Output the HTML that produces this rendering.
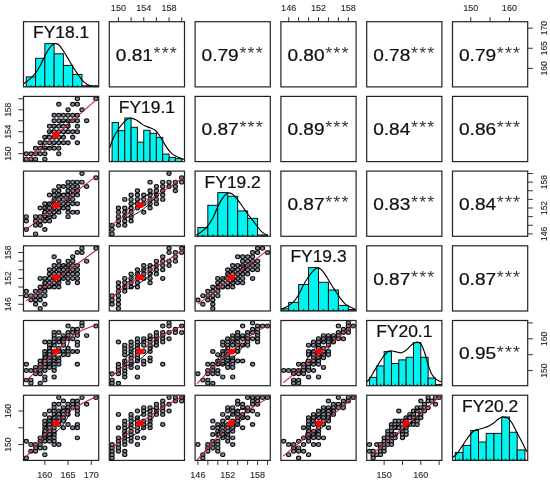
<!DOCTYPE html>
<html><head><meta charset="utf-8"><title>pairs panels</title>
<style>html,body{margin:0;padding:0;background:#fff;width:550px;height:485px;overflow:hidden}svg{display:block}</style>
</head><body>
<svg width="550" height="485" viewBox="0 0 550 485">
<rect width="550" height="485" fill="#fff"/>
<defs>
<clipPath id="c00"><rect x="23.5" y="21.7" width="75.2" height="65.2"/></clipPath>
<clipPath id="c01"><rect x="109.3" y="21.7" width="75.2" height="65.2"/></clipPath>
<clipPath id="c02"><rect x="195.1" y="21.7" width="75.2" height="65.2"/></clipPath>
<clipPath id="c03"><rect x="280.9" y="21.7" width="75.2" height="65.2"/></clipPath>
<clipPath id="c04"><rect x="366.7" y="21.7" width="75.2" height="65.2"/></clipPath>
<clipPath id="c05"><rect x="452.5" y="21.7" width="75.2" height="65.2"/></clipPath>
<clipPath id="c10"><rect x="23.5" y="96.4" width="75.2" height="65.2"/></clipPath>
<clipPath id="c11"><rect x="109.3" y="96.4" width="75.2" height="65.2"/></clipPath>
<clipPath id="c12"><rect x="195.1" y="96.4" width="75.2" height="65.2"/></clipPath>
<clipPath id="c13"><rect x="280.9" y="96.4" width="75.2" height="65.2"/></clipPath>
<clipPath id="c14"><rect x="366.7" y="96.4" width="75.2" height="65.2"/></clipPath>
<clipPath id="c15"><rect x="452.5" y="96.4" width="75.2" height="65.2"/></clipPath>
<clipPath id="c20"><rect x="23.5" y="171.1" width="75.2" height="65.2"/></clipPath>
<clipPath id="c21"><rect x="109.3" y="171.1" width="75.2" height="65.2"/></clipPath>
<clipPath id="c22"><rect x="195.1" y="171.1" width="75.2" height="65.2"/></clipPath>
<clipPath id="c23"><rect x="280.9" y="171.1" width="75.2" height="65.2"/></clipPath>
<clipPath id="c24"><rect x="366.7" y="171.1" width="75.2" height="65.2"/></clipPath>
<clipPath id="c25"><rect x="452.5" y="171.1" width="75.2" height="65.2"/></clipPath>
<clipPath id="c30"><rect x="23.5" y="245.8" width="75.2" height="65.2"/></clipPath>
<clipPath id="c31"><rect x="109.3" y="245.8" width="75.2" height="65.2"/></clipPath>
<clipPath id="c32"><rect x="195.1" y="245.8" width="75.2" height="65.2"/></clipPath>
<clipPath id="c33"><rect x="280.9" y="245.8" width="75.2" height="65.2"/></clipPath>
<clipPath id="c34"><rect x="366.7" y="245.8" width="75.2" height="65.2"/></clipPath>
<clipPath id="c35"><rect x="452.5" y="245.8" width="75.2" height="65.2"/></clipPath>
<clipPath id="c40"><rect x="23.5" y="320.5" width="75.2" height="65.2"/></clipPath>
<clipPath id="c41"><rect x="109.3" y="320.5" width="75.2" height="65.2"/></clipPath>
<clipPath id="c42"><rect x="195.1" y="320.5" width="75.2" height="65.2"/></clipPath>
<clipPath id="c43"><rect x="280.9" y="320.5" width="75.2" height="65.2"/></clipPath>
<clipPath id="c44"><rect x="366.7" y="320.5" width="75.2" height="65.2"/></clipPath>
<clipPath id="c45"><rect x="452.5" y="320.5" width="75.2" height="65.2"/></clipPath>
<clipPath id="c50"><rect x="23.5" y="395.2" width="75.2" height="65.2"/></clipPath>
<clipPath id="c51"><rect x="109.3" y="395.2" width="75.2" height="65.2"/></clipPath>
<clipPath id="c52"><rect x="195.1" y="395.2" width="75.2" height="65.2"/></clipPath>
<clipPath id="c53"><rect x="280.9" y="395.2" width="75.2" height="65.2"/></clipPath>
<clipPath id="c54"><rect x="366.7" y="395.2" width="75.2" height="65.2"/></clipPath>
<clipPath id="c55"><rect x="452.5" y="395.2" width="75.2" height="65.2"/></clipPath>
<filter id="bl" x="0" y="0" width="100%" height="100%"><feGaussianBlur stdDeviation="0.5"/></filter>
</defs>
<g filter="url(#bl)">
<g clip-path="url(#c00)">
<rect x="26.29" y="76.9" width="9.28" height="10" fill="#05f5f0" stroke="#111" stroke-width="1"/>
<rect x="35.57" y="58.3" width="9.28" height="28.6" fill="#05f5f0" stroke="#111" stroke-width="1"/>
<rect x="44.85" y="43.6" width="9.28" height="43.3" fill="#05f5f0" stroke="#111" stroke-width="1"/>
<rect x="54.14" y="53.8" width="9.28" height="33.1" fill="#05f5f0" stroke="#111" stroke-width="1"/>
<rect x="63.42" y="65.4" width="9.28" height="21.5" fill="#05f5f0" stroke="#111" stroke-width="1"/>
<rect x="72.7" y="74.4" width="9.28" height="12.5" fill="#05f5f0" stroke="#111" stroke-width="1"/>
<rect x="81.99" y="85.8" width="9.28" height="1.1" fill="#05f5f0" stroke="#111" stroke-width="1"/>
<rect x="91.27" y="85.8" width="9.28" height="1.1" fill="#05f5f0" stroke="#111" stroke-width="1"/>
<path d="M23.73,83.6 C24.6,82.98 27.08,81.49 28.95,79.87 C30.81,78.26 33.05,76.27 34.91,73.91 C36.77,71.55 38.51,68.62 40.13,65.71 C41.74,62.8 43.11,59.32 44.6,56.47 C46.09,53.61 47.58,50.63 49.07,48.56 C50.56,46.5 52.3,44.91 53.55,44.09 C54.79,43.27 55.41,43.27 56.53,43.64 C57.65,44.02 58.89,44.76 60.25,46.33 C61.62,47.89 63.24,50.68 64.73,53.04 C66.22,55.4 67.71,58.01 69.2,60.49 C70.69,62.98 72.18,65.58 73.67,67.95 C75.16,70.31 76.65,72.54 78.15,74.65 C79.64,76.77 81.13,79 82.62,80.62 C84.11,82.23 85.6,83.4 87.09,84.35 C88.58,85.29 89.65,85.86 91.56,86.28 C93.48,86.71 97.4,86.78 98.57,86.88" fill="none" stroke="#000" stroke-width="1.15"/>
<line x1="26.29" y1="86.9" x2="26.29" y2="84.9" stroke="#111" stroke-width="0.8"/>
<line x1="30.93" y1="86.9" x2="30.93" y2="84.9" stroke="#111" stroke-width="0.8"/>
<line x1="35.57" y1="86.9" x2="35.57" y2="84.9" stroke="#111" stroke-width="0.8"/>
<line x1="40.21" y1="86.9" x2="40.21" y2="84.9" stroke="#111" stroke-width="0.8"/>
<line x1="44.85" y1="86.9" x2="44.85" y2="84.9" stroke="#111" stroke-width="0.8"/>
<line x1="49.5" y1="86.9" x2="49.5" y2="84.9" stroke="#111" stroke-width="0.8"/>
<line x1="54.14" y1="86.9" x2="54.14" y2="84.9" stroke="#111" stroke-width="0.8"/>
<line x1="58.78" y1="86.9" x2="58.78" y2="84.9" stroke="#111" stroke-width="0.8"/>
<line x1="63.42" y1="86.9" x2="63.42" y2="84.9" stroke="#111" stroke-width="0.8"/>
<line x1="68.06" y1="86.9" x2="68.06" y2="84.9" stroke="#111" stroke-width="0.8"/>
<line x1="72.7" y1="86.9" x2="72.7" y2="84.9" stroke="#111" stroke-width="0.8"/>
<line x1="77.35" y1="86.9" x2="77.35" y2="84.9" stroke="#111" stroke-width="0.8"/>
<line x1="81.99" y1="86.9" x2="81.99" y2="84.9" stroke="#111" stroke-width="0.8"/>
<line x1="86.63" y1="86.9" x2="86.63" y2="84.9" stroke="#111" stroke-width="0.8"/>
<line x1="91.27" y1="86.9" x2="91.27" y2="84.9" stroke="#111" stroke-width="0.8"/>
<line x1="95.91" y1="86.9" x2="95.91" y2="84.9" stroke="#111" stroke-width="0.8"/>
</g>
<text x="0" y="0" transform="translate(61.1,38.1) scale(1.09,1)" text-anchor="middle" font-size="16" font-family="Liberation Sans, Arial, Helvetica, sans-serif" fill="#111" stroke="#111" stroke-width="0.22">FY18.1</text>
<rect x="23.5" y="21.7" width="75.2" height="65.2" fill="none" stroke="#222" stroke-width="1.2"/>
<text x="0" y="0" transform="translate(146.9,60.6) scale(1.15,1)" text-anchor="middle" font-size="16.6" font-family="Liberation Sans, Arial, Helvetica, sans-serif" fill="#111" stroke="#111" stroke-width="0.22">0.81<tspan font-size="15.6" dy="-1.9" letter-spacing="1.0" dx="0.6" fill="#333" stroke="none">***</tspan></text>
<rect x="109.3" y="21.7" width="75.2" height="65.2" fill="none" stroke="#222" stroke-width="1.2"/>
<text x="0" y="0" transform="translate(232.7,60.6) scale(1.15,1)" text-anchor="middle" font-size="16.6" font-family="Liberation Sans, Arial, Helvetica, sans-serif" fill="#111" stroke="#111" stroke-width="0.22">0.79<tspan font-size="15.6" dy="-1.9" letter-spacing="1.0" dx="0.6" fill="#333" stroke="none">***</tspan></text>
<rect x="195.1" y="21.7" width="75.2" height="65.2" fill="none" stroke="#222" stroke-width="1.2"/>
<text x="0" y="0" transform="translate(318.5,60.6) scale(1.15,1)" text-anchor="middle" font-size="16.6" font-family="Liberation Sans, Arial, Helvetica, sans-serif" fill="#111" stroke="#111" stroke-width="0.22">0.80<tspan font-size="15.6" dy="-1.9" letter-spacing="1.0" dx="0.6" fill="#333" stroke="none">***</tspan></text>
<rect x="280.9" y="21.7" width="75.2" height="65.2" fill="none" stroke="#222" stroke-width="1.2"/>
<text x="0" y="0" transform="translate(404.3,60.6) scale(1.15,1)" text-anchor="middle" font-size="16.6" font-family="Liberation Sans, Arial, Helvetica, sans-serif" fill="#111" stroke="#111" stroke-width="0.22">0.78<tspan font-size="15.6" dy="-1.9" letter-spacing="1.0" dx="0.6" fill="#333" stroke="none">***</tspan></text>
<rect x="366.7" y="21.7" width="75.2" height="65.2" fill="none" stroke="#222" stroke-width="1.2"/>
<text x="0" y="0" transform="translate(490.1,60.6) scale(1.15,1)" text-anchor="middle" font-size="16.6" font-family="Liberation Sans, Arial, Helvetica, sans-serif" fill="#111" stroke="#111" stroke-width="0.22">0.79<tspan font-size="15.6" dy="-1.9" letter-spacing="1.0" dx="0.6" fill="#333" stroke="none">***</tspan></text>
<rect x="452.5" y="21.7" width="75.2" height="65.2" fill="none" stroke="#222" stroke-width="1.2"/>
<g clip-path="url(#c10)">
<ellipse cx="77.35" cy="98.81" rx="2.1" ry="1.9" fill="#858ca0" stroke="#111" stroke-width="1.15"/>
<ellipse cx="95.91" cy="98.81" rx="2.1" ry="1.9" fill="#858ca0" stroke="#111" stroke-width="1.15"/>
<ellipse cx="58.78" cy="104.3" rx="2.1" ry="1.9" fill="#858ca0" stroke="#111" stroke-width="1.15"/>
<ellipse cx="72.7" cy="104.3" rx="2.1" ry="1.9" fill="#858ca0" stroke="#111" stroke-width="1.15"/>
<ellipse cx="77.35" cy="104.3" rx="2.1" ry="1.9" fill="#858ca0" stroke="#111" stroke-width="1.15"/>
<ellipse cx="68.06" cy="109.79" rx="2.1" ry="1.9" fill="#858ca0" stroke="#111" stroke-width="1.15"/>
<ellipse cx="81.99" cy="109.79" rx="2.1" ry="1.9" fill="#858ca0" stroke="#111" stroke-width="1.15"/>
<ellipse cx="54.14" cy="115.28" rx="2.1" ry="1.9" fill="#858ca0" stroke="#111" stroke-width="1.15"/>
<ellipse cx="58.78" cy="115.28" rx="2.1" ry="1.9" fill="#858ca0" stroke="#111" stroke-width="1.15"/>
<ellipse cx="63.42" cy="115.28" rx="2.1" ry="1.9" fill="#858ca0" stroke="#111" stroke-width="1.15"/>
<ellipse cx="68.06" cy="115.28" rx="2.1" ry="1.9" fill="#858ca0" stroke="#111" stroke-width="1.15"/>
<ellipse cx="72.7" cy="115.28" rx="2.1" ry="1.9" fill="#858ca0" stroke="#111" stroke-width="1.15"/>
<ellipse cx="77.35" cy="115.28" rx="2.1" ry="1.9" fill="#858ca0" stroke="#111" stroke-width="1.15"/>
<ellipse cx="54.14" cy="120.77" rx="2.1" ry="1.9" fill="#858ca0" stroke="#111" stroke-width="1.15"/>
<ellipse cx="58.78" cy="120.77" rx="2.1" ry="1.9" fill="#858ca0" stroke="#111" stroke-width="1.15"/>
<ellipse cx="63.42" cy="120.77" rx="2.1" ry="1.9" fill="#858ca0" stroke="#111" stroke-width="1.15"/>
<ellipse cx="68.06" cy="120.77" rx="2.1" ry="1.9" fill="#858ca0" stroke="#111" stroke-width="1.15"/>
<ellipse cx="72.7" cy="120.77" rx="2.1" ry="1.9" fill="#858ca0" stroke="#111" stroke-width="1.15"/>
<ellipse cx="77.35" cy="120.77" rx="2.1" ry="1.9" fill="#858ca0" stroke="#111" stroke-width="1.15"/>
<ellipse cx="86.63" cy="120.77" rx="2.1" ry="1.9" fill="#858ca0" stroke="#111" stroke-width="1.15"/>
<ellipse cx="49.5" cy="126.26" rx="2.1" ry="1.9" fill="#858ca0" stroke="#111" stroke-width="1.15"/>
<ellipse cx="54.14" cy="126.26" rx="2.1" ry="1.9" fill="#858ca0" stroke="#111" stroke-width="1.15"/>
<ellipse cx="58.78" cy="126.26" rx="2.1" ry="1.9" fill="#858ca0" stroke="#111" stroke-width="1.15"/>
<ellipse cx="63.42" cy="126.26" rx="2.1" ry="1.9" fill="#858ca0" stroke="#111" stroke-width="1.15"/>
<ellipse cx="68.06" cy="126.26" rx="2.1" ry="1.9" fill="#858ca0" stroke="#111" stroke-width="1.15"/>
<ellipse cx="77.35" cy="126.26" rx="2.1" ry="1.9" fill="#858ca0" stroke="#111" stroke-width="1.15"/>
<ellipse cx="49.5" cy="131.74" rx="2.1" ry="1.9" fill="#858ca0" stroke="#111" stroke-width="1.15"/>
<ellipse cx="54.14" cy="131.74" rx="2.1" ry="1.9" fill="#858ca0" stroke="#111" stroke-width="1.15"/>
<ellipse cx="58.78" cy="131.74" rx="2.1" ry="1.9" fill="#858ca0" stroke="#111" stroke-width="1.15"/>
<ellipse cx="63.42" cy="131.74" rx="2.1" ry="1.9" fill="#858ca0" stroke="#111" stroke-width="1.15"/>
<ellipse cx="68.06" cy="131.74" rx="2.1" ry="1.9" fill="#858ca0" stroke="#111" stroke-width="1.15"/>
<ellipse cx="72.7" cy="131.74" rx="2.1" ry="1.9" fill="#858ca0" stroke="#111" stroke-width="1.15"/>
<ellipse cx="77.35" cy="131.74" rx="2.1" ry="1.9" fill="#858ca0" stroke="#111" stroke-width="1.15"/>
<ellipse cx="44.85" cy="137.23" rx="2.1" ry="1.9" fill="#858ca0" stroke="#111" stroke-width="1.15"/>
<ellipse cx="49.5" cy="137.23" rx="2.1" ry="1.9" fill="#858ca0" stroke="#111" stroke-width="1.15"/>
<ellipse cx="54.14" cy="137.23" rx="2.1" ry="1.9" fill="#858ca0" stroke="#111" stroke-width="1.15"/>
<ellipse cx="58.78" cy="137.23" rx="2.1" ry="1.9" fill="#858ca0" stroke="#111" stroke-width="1.15"/>
<ellipse cx="63.42" cy="137.23" rx="2.1" ry="1.9" fill="#858ca0" stroke="#111" stroke-width="1.15"/>
<ellipse cx="72.7" cy="137.23" rx="2.1" ry="1.9" fill="#858ca0" stroke="#111" stroke-width="1.15"/>
<ellipse cx="40.21" cy="142.72" rx="2.1" ry="1.9" fill="#858ca0" stroke="#111" stroke-width="1.15"/>
<ellipse cx="44.85" cy="142.72" rx="2.1" ry="1.9" fill="#858ca0" stroke="#111" stroke-width="1.15"/>
<ellipse cx="49.5" cy="142.72" rx="2.1" ry="1.9" fill="#858ca0" stroke="#111" stroke-width="1.15"/>
<ellipse cx="54.14" cy="142.72" rx="2.1" ry="1.9" fill="#858ca0" stroke="#111" stroke-width="1.15"/>
<ellipse cx="58.78" cy="142.72" rx="2.1" ry="1.9" fill="#858ca0" stroke="#111" stroke-width="1.15"/>
<ellipse cx="63.42" cy="142.72" rx="2.1" ry="1.9" fill="#858ca0" stroke="#111" stroke-width="1.15"/>
<ellipse cx="68.06" cy="142.72" rx="2.1" ry="1.9" fill="#858ca0" stroke="#111" stroke-width="1.15"/>
<ellipse cx="77.35" cy="142.72" rx="2.1" ry="1.9" fill="#858ca0" stroke="#111" stroke-width="1.15"/>
<ellipse cx="35.57" cy="148.21" rx="2.1" ry="1.9" fill="#858ca0" stroke="#111" stroke-width="1.15"/>
<ellipse cx="40.21" cy="148.21" rx="2.1" ry="1.9" fill="#858ca0" stroke="#111" stroke-width="1.15"/>
<ellipse cx="44.85" cy="148.21" rx="2.1" ry="1.9" fill="#858ca0" stroke="#111" stroke-width="1.15"/>
<ellipse cx="49.5" cy="148.21" rx="2.1" ry="1.9" fill="#858ca0" stroke="#111" stroke-width="1.15"/>
<ellipse cx="54.14" cy="148.21" rx="2.1" ry="1.9" fill="#858ca0" stroke="#111" stroke-width="1.15"/>
<ellipse cx="58.78" cy="148.21" rx="2.1" ry="1.9" fill="#858ca0" stroke="#111" stroke-width="1.15"/>
<ellipse cx="26.29" cy="153.7" rx="2.1" ry="1.9" fill="#858ca0" stroke="#111" stroke-width="1.15"/>
<ellipse cx="30.93" cy="153.7" rx="2.1" ry="1.9" fill="#858ca0" stroke="#111" stroke-width="1.15"/>
<ellipse cx="35.57" cy="153.7" rx="2.1" ry="1.9" fill="#858ca0" stroke="#111" stroke-width="1.15"/>
<ellipse cx="40.21" cy="153.7" rx="2.1" ry="1.9" fill="#858ca0" stroke="#111" stroke-width="1.15"/>
<ellipse cx="44.85" cy="153.7" rx="2.1" ry="1.9" fill="#858ca0" stroke="#111" stroke-width="1.15"/>
<ellipse cx="58.78" cy="153.7" rx="2.1" ry="1.9" fill="#858ca0" stroke="#111" stroke-width="1.15"/>
<ellipse cx="26.29" cy="159.19" rx="2.1" ry="1.9" fill="#858ca0" stroke="#111" stroke-width="1.15"/>
<ellipse cx="30.93" cy="159.19" rx="2.1" ry="1.9" fill="#858ca0" stroke="#111" stroke-width="1.15"/>
<ellipse cx="35.57" cy="159.19" rx="2.1" ry="1.9" fill="#858ca0" stroke="#111" stroke-width="1.15"/>
<ellipse cx="44.85" cy="159.19" rx="2.1" ry="1.9" fill="#858ca0" stroke="#111" stroke-width="1.15"/>
<path d="M25.67,161.88 L96.33,99.71" fill="none" stroke="#bd2436" stroke-width="1.05"/>
<ellipse cx="55.8" cy="134.7" rx="3.6" ry="3.0" fill="#ff0000"/>
<polyline points="68.61,121.39 68,120.96 67.21,120.74 66.24,120.73 65.12,120.93 63.86,121.34 62.47,121.96 60.98,122.76 59.42,123.75 57.79,124.9 56.14,126.21 54.49,127.64 52.85,129.18 51.26,130.8 49.74,132.48 48.3,134.19 46.99,135.92 45.8,137.62 44.77,139.28 43.91,140.87 43.22,142.37 42.73,143.75 42.43,144.99 42.34,146.08 42.45,146.99 42.76,147.72 43.27,148.25 43.97,148.58 44.85,148.69 45.9,148.6 47.1,148.29 48.42,147.78 49.86,147.06 51.39,146.17 52.99,145.09 54.63,143.86 56.29,142.49 57.94,141 59.55,139.42 61.11,137.77 62.59,136.07 63.97,134.34 65.22,132.63 66.33,130.94 67.28,129.31 68.06,127.77 68.65,126.33 69.05,125.01 69.24,123.84 69.23,122.84 69.02,122.02 68.61,121.39" fill="none" stroke="#000" stroke-width="0.95"/>
</g>
<rect x="23.5" y="96.4" width="75.2" height="65.2" fill="none" stroke="#222" stroke-width="1.2"/>
<g clip-path="url(#c11)">
<rect x="112.09" y="122.5" width="6.33" height="39.1" fill="#05f5f0" stroke="#111" stroke-width="1"/>
<rect x="118.42" y="130.6" width="6.33" height="31" fill="#05f5f0" stroke="#111" stroke-width="1"/>
<rect x="124.75" y="118" width="6.33" height="43.6" fill="#05f5f0" stroke="#111" stroke-width="1"/>
<rect x="131.08" y="127.3" width="6.33" height="34.3" fill="#05f5f0" stroke="#111" stroke-width="1"/>
<rect x="137.41" y="142.2" width="6.33" height="19.4" fill="#05f5f0" stroke="#111" stroke-width="1"/>
<rect x="143.74" y="130.3" width="6.33" height="31.3" fill="#05f5f0" stroke="#111" stroke-width="1"/>
<rect x="150.06" y="133.3" width="6.33" height="28.3" fill="#05f5f0" stroke="#111" stroke-width="1"/>
<rect x="156.39" y="137.4" width="6.33" height="24.2" fill="#05f5f0" stroke="#111" stroke-width="1"/>
<rect x="162.72" y="154.1" width="6.33" height="7.5" fill="#05f5f0" stroke="#111" stroke-width="1"/>
<rect x="169.05" y="157.4" width="6.33" height="4.2" fill="#05f5f0" stroke="#111" stroke-width="1"/>
<rect x="175.38" y="158.6" width="6.33" height="3" fill="#05f5f0" stroke="#111" stroke-width="1"/>
<path d="M109.28,148.91 C109.98,147.05 111.89,141.08 113.45,137.73 C115.02,134.37 116.93,131.39 118.67,128.78 C120.41,126.17 122.28,123.76 123.89,122.07 C125.51,120.38 127,119.26 128.36,118.64 C129.73,118.02 130.85,118.15 132.09,118.35 C133.33,118.54 134.45,119.09 135.82,119.84 C137.18,120.58 138.8,121.82 140.29,122.82 C141.78,123.81 143.02,124.93 144.76,125.8 C146.5,126.67 148.99,127.29 150.73,128.04 C152.47,128.78 153.83,129.15 155.2,130.27 C156.57,131.39 157.68,133.01 158.93,134.75 C160.17,136.48 161.29,138.47 162.65,140.71 C164.02,142.95 165.64,146.05 167.13,148.16 C168.62,150.28 170.11,152.02 171.6,153.38 C173.09,154.75 174.46,155.49 176.07,156.36 C177.69,157.23 179.92,158.1 181.29,158.6 C182.66,159.1 183.78,159.22 184.27,159.35" fill="none" stroke="#000" stroke-width="1.15"/>
<line x1="112.09" y1="161.6" x2="112.09" y2="159.6" stroke="#111" stroke-width="0.8"/>
<line x1="118.42" y1="161.6" x2="118.42" y2="159.6" stroke="#111" stroke-width="0.8"/>
<line x1="124.75" y1="161.6" x2="124.75" y2="159.6" stroke="#111" stroke-width="0.8"/>
<line x1="131.08" y1="161.6" x2="131.08" y2="159.6" stroke="#111" stroke-width="0.8"/>
<line x1="137.41" y1="161.6" x2="137.41" y2="159.6" stroke="#111" stroke-width="0.8"/>
<line x1="143.74" y1="161.6" x2="143.74" y2="159.6" stroke="#111" stroke-width="0.8"/>
<line x1="150.06" y1="161.6" x2="150.06" y2="159.6" stroke="#111" stroke-width="0.8"/>
<line x1="156.39" y1="161.6" x2="156.39" y2="159.6" stroke="#111" stroke-width="0.8"/>
<line x1="162.72" y1="161.6" x2="162.72" y2="159.6" stroke="#111" stroke-width="0.8"/>
<line x1="169.05" y1="161.6" x2="169.05" y2="159.6" stroke="#111" stroke-width="0.8"/>
<line x1="175.38" y1="161.6" x2="175.38" y2="159.6" stroke="#111" stroke-width="0.8"/>
<line x1="181.71" y1="161.6" x2="181.71" y2="159.6" stroke="#111" stroke-width="0.8"/>
</g>
<text x="0" y="0" transform="translate(146.9,112.8) scale(1.09,1)" text-anchor="middle" font-size="16" font-family="Liberation Sans, Arial, Helvetica, sans-serif" fill="#111" stroke="#111" stroke-width="0.22">FY19.1</text>
<rect x="109.3" y="96.4" width="75.2" height="65.2" fill="none" stroke="#222" stroke-width="1.2"/>
<text x="0" y="0" transform="translate(232.7,135.3) scale(1.15,1)" text-anchor="middle" font-size="16.6" font-family="Liberation Sans, Arial, Helvetica, sans-serif" fill="#111" stroke="#111" stroke-width="0.22">0.87<tspan font-size="15.6" dy="-1.9" letter-spacing="1.0" dx="0.6" fill="#333" stroke="none">***</tspan></text>
<rect x="195.1" y="96.4" width="75.2" height="65.2" fill="none" stroke="#222" stroke-width="1.2"/>
<text x="0" y="0" transform="translate(318.5,135.3) scale(1.15,1)" text-anchor="middle" font-size="16.6" font-family="Liberation Sans, Arial, Helvetica, sans-serif" fill="#111" stroke="#111" stroke-width="0.22">0.89<tspan font-size="15.6" dy="-1.9" letter-spacing="1.0" dx="0.6" fill="#333" stroke="none">***</tspan></text>
<rect x="280.9" y="96.4" width="75.2" height="65.2" fill="none" stroke="#222" stroke-width="1.2"/>
<text x="0" y="0" transform="translate(404.3,135.3) scale(1.15,1)" text-anchor="middle" font-size="16.6" font-family="Liberation Sans, Arial, Helvetica, sans-serif" fill="#111" stroke="#111" stroke-width="0.22">0.84<tspan font-size="15.6" dy="-1.9" letter-spacing="1.0" dx="0.6" fill="#333" stroke="none">***</tspan></text>
<rect x="366.7" y="96.4" width="75.2" height="65.2" fill="none" stroke="#222" stroke-width="1.2"/>
<text x="0" y="0" transform="translate(490.1,135.3) scale(1.15,1)" text-anchor="middle" font-size="16.6" font-family="Liberation Sans, Arial, Helvetica, sans-serif" fill="#111" stroke="#111" stroke-width="0.22">0.86<tspan font-size="15.6" dy="-1.9" letter-spacing="1.0" dx="0.6" fill="#333" stroke="none">***</tspan></text>
<rect x="452.5" y="96.4" width="75.2" height="65.2" fill="none" stroke="#222" stroke-width="1.2"/>
<g clip-path="url(#c20)">
<ellipse cx="81.99" cy="173.51" rx="2.1" ry="1.9" fill="#858ca0" stroke="#111" stroke-width="1.15"/>
<ellipse cx="95.91" cy="177.83" rx="2.1" ry="1.9" fill="#858ca0" stroke="#111" stroke-width="1.15"/>
<ellipse cx="68.06" cy="182.14" rx="2.1" ry="1.9" fill="#858ca0" stroke="#111" stroke-width="1.15"/>
<ellipse cx="72.7" cy="182.14" rx="2.1" ry="1.9" fill="#858ca0" stroke="#111" stroke-width="1.15"/>
<ellipse cx="77.35" cy="182.14" rx="2.1" ry="1.9" fill="#858ca0" stroke="#111" stroke-width="1.15"/>
<ellipse cx="81.99" cy="182.14" rx="2.1" ry="1.9" fill="#858ca0" stroke="#111" stroke-width="1.15"/>
<ellipse cx="58.78" cy="186.45" rx="2.1" ry="1.9" fill="#858ca0" stroke="#111" stroke-width="1.15"/>
<ellipse cx="63.42" cy="186.45" rx="2.1" ry="1.9" fill="#858ca0" stroke="#111" stroke-width="1.15"/>
<ellipse cx="68.06" cy="186.45" rx="2.1" ry="1.9" fill="#858ca0" stroke="#111" stroke-width="1.15"/>
<ellipse cx="72.7" cy="186.45" rx="2.1" ry="1.9" fill="#858ca0" stroke="#111" stroke-width="1.15"/>
<ellipse cx="77.35" cy="186.45" rx="2.1" ry="1.9" fill="#858ca0" stroke="#111" stroke-width="1.15"/>
<ellipse cx="86.63" cy="186.45" rx="2.1" ry="1.9" fill="#858ca0" stroke="#111" stroke-width="1.15"/>
<ellipse cx="54.14" cy="190.76" rx="2.1" ry="1.9" fill="#858ca0" stroke="#111" stroke-width="1.15"/>
<ellipse cx="58.78" cy="190.76" rx="2.1" ry="1.9" fill="#858ca0" stroke="#111" stroke-width="1.15"/>
<ellipse cx="68.06" cy="190.76" rx="2.1" ry="1.9" fill="#858ca0" stroke="#111" stroke-width="1.15"/>
<ellipse cx="72.7" cy="190.76" rx="2.1" ry="1.9" fill="#858ca0" stroke="#111" stroke-width="1.15"/>
<ellipse cx="77.35" cy="190.76" rx="2.1" ry="1.9" fill="#858ca0" stroke="#111" stroke-width="1.15"/>
<ellipse cx="49.5" cy="195.08" rx="2.1" ry="1.9" fill="#858ca0" stroke="#111" stroke-width="1.15"/>
<ellipse cx="54.14" cy="195.08" rx="2.1" ry="1.9" fill="#858ca0" stroke="#111" stroke-width="1.15"/>
<ellipse cx="58.78" cy="195.08" rx="2.1" ry="1.9" fill="#858ca0" stroke="#111" stroke-width="1.15"/>
<ellipse cx="63.42" cy="195.08" rx="2.1" ry="1.9" fill="#858ca0" stroke="#111" stroke-width="1.15"/>
<ellipse cx="68.06" cy="195.08" rx="2.1" ry="1.9" fill="#858ca0" stroke="#111" stroke-width="1.15"/>
<ellipse cx="72.7" cy="195.08" rx="2.1" ry="1.9" fill="#858ca0" stroke="#111" stroke-width="1.15"/>
<ellipse cx="77.35" cy="195.08" rx="2.1" ry="1.9" fill="#858ca0" stroke="#111" stroke-width="1.15"/>
<ellipse cx="54.14" cy="199.39" rx="2.1" ry="1.9" fill="#858ca0" stroke="#111" stroke-width="1.15"/>
<ellipse cx="58.78" cy="199.39" rx="2.1" ry="1.9" fill="#858ca0" stroke="#111" stroke-width="1.15"/>
<ellipse cx="63.42" cy="199.39" rx="2.1" ry="1.9" fill="#858ca0" stroke="#111" stroke-width="1.15"/>
<ellipse cx="68.06" cy="199.39" rx="2.1" ry="1.9" fill="#858ca0" stroke="#111" stroke-width="1.15"/>
<ellipse cx="72.7" cy="199.39" rx="2.1" ry="1.9" fill="#858ca0" stroke="#111" stroke-width="1.15"/>
<ellipse cx="44.85" cy="203.7" rx="2.1" ry="1.9" fill="#858ca0" stroke="#111" stroke-width="1.15"/>
<ellipse cx="49.5" cy="203.7" rx="2.1" ry="1.9" fill="#858ca0" stroke="#111" stroke-width="1.15"/>
<ellipse cx="54.14" cy="203.7" rx="2.1" ry="1.9" fill="#858ca0" stroke="#111" stroke-width="1.15"/>
<ellipse cx="58.78" cy="203.7" rx="2.1" ry="1.9" fill="#858ca0" stroke="#111" stroke-width="1.15"/>
<ellipse cx="63.42" cy="203.7" rx="2.1" ry="1.9" fill="#858ca0" stroke="#111" stroke-width="1.15"/>
<ellipse cx="68.06" cy="203.7" rx="2.1" ry="1.9" fill="#858ca0" stroke="#111" stroke-width="1.15"/>
<ellipse cx="72.7" cy="203.7" rx="2.1" ry="1.9" fill="#858ca0" stroke="#111" stroke-width="1.15"/>
<ellipse cx="77.35" cy="203.7" rx="2.1" ry="1.9" fill="#858ca0" stroke="#111" stroke-width="1.15"/>
<ellipse cx="40.21" cy="208.01" rx="2.1" ry="1.9" fill="#858ca0" stroke="#111" stroke-width="1.15"/>
<ellipse cx="44.85" cy="208.01" rx="2.1" ry="1.9" fill="#858ca0" stroke="#111" stroke-width="1.15"/>
<ellipse cx="49.5" cy="208.01" rx="2.1" ry="1.9" fill="#858ca0" stroke="#111" stroke-width="1.15"/>
<ellipse cx="54.14" cy="208.01" rx="2.1" ry="1.9" fill="#858ca0" stroke="#111" stroke-width="1.15"/>
<ellipse cx="58.78" cy="208.01" rx="2.1" ry="1.9" fill="#858ca0" stroke="#111" stroke-width="1.15"/>
<ellipse cx="63.42" cy="208.01" rx="2.1" ry="1.9" fill="#858ca0" stroke="#111" stroke-width="1.15"/>
<ellipse cx="68.06" cy="208.01" rx="2.1" ry="1.9" fill="#858ca0" stroke="#111" stroke-width="1.15"/>
<ellipse cx="44.85" cy="212.32" rx="2.1" ry="1.9" fill="#858ca0" stroke="#111" stroke-width="1.15"/>
<ellipse cx="49.5" cy="212.32" rx="2.1" ry="1.9" fill="#858ca0" stroke="#111" stroke-width="1.15"/>
<ellipse cx="54.14" cy="212.32" rx="2.1" ry="1.9" fill="#858ca0" stroke="#111" stroke-width="1.15"/>
<ellipse cx="58.78" cy="212.32" rx="2.1" ry="1.9" fill="#858ca0" stroke="#111" stroke-width="1.15"/>
<ellipse cx="68.06" cy="212.32" rx="2.1" ry="1.9" fill="#858ca0" stroke="#111" stroke-width="1.15"/>
<ellipse cx="72.7" cy="212.32" rx="2.1" ry="1.9" fill="#858ca0" stroke="#111" stroke-width="1.15"/>
<ellipse cx="77.35" cy="212.32" rx="2.1" ry="1.9" fill="#858ca0" stroke="#111" stroke-width="1.15"/>
<ellipse cx="26.29" cy="216.64" rx="2.1" ry="1.9" fill="#858ca0" stroke="#111" stroke-width="1.15"/>
<ellipse cx="35.57" cy="216.64" rx="2.1" ry="1.9" fill="#858ca0" stroke="#111" stroke-width="1.15"/>
<ellipse cx="40.21" cy="216.64" rx="2.1" ry="1.9" fill="#858ca0" stroke="#111" stroke-width="1.15"/>
<ellipse cx="44.85" cy="216.64" rx="2.1" ry="1.9" fill="#858ca0" stroke="#111" stroke-width="1.15"/>
<ellipse cx="49.5" cy="216.64" rx="2.1" ry="1.9" fill="#858ca0" stroke="#111" stroke-width="1.15"/>
<ellipse cx="54.14" cy="216.64" rx="2.1" ry="1.9" fill="#858ca0" stroke="#111" stroke-width="1.15"/>
<ellipse cx="68.06" cy="216.64" rx="2.1" ry="1.9" fill="#858ca0" stroke="#111" stroke-width="1.15"/>
<ellipse cx="26.29" cy="220.95" rx="2.1" ry="1.9" fill="#858ca0" stroke="#111" stroke-width="1.15"/>
<ellipse cx="35.57" cy="220.95" rx="2.1" ry="1.9" fill="#858ca0" stroke="#111" stroke-width="1.15"/>
<ellipse cx="40.21" cy="220.95" rx="2.1" ry="1.9" fill="#858ca0" stroke="#111" stroke-width="1.15"/>
<ellipse cx="44.85" cy="220.95" rx="2.1" ry="1.9" fill="#858ca0" stroke="#111" stroke-width="1.15"/>
<ellipse cx="49.5" cy="220.95" rx="2.1" ry="1.9" fill="#858ca0" stroke="#111" stroke-width="1.15"/>
<ellipse cx="35.57" cy="225.26" rx="2.1" ry="1.9" fill="#858ca0" stroke="#111" stroke-width="1.15"/>
<ellipse cx="40.21" cy="225.26" rx="2.1" ry="1.9" fill="#858ca0" stroke="#111" stroke-width="1.15"/>
<ellipse cx="26.29" cy="229.57" rx="2.1" ry="1.9" fill="#858ca0" stroke="#111" stroke-width="1.15"/>
<ellipse cx="44.85" cy="229.57" rx="2.1" ry="1.9" fill="#858ca0" stroke="#111" stroke-width="1.15"/>
<ellipse cx="35.57" cy="233.89" rx="2.1" ry="1.9" fill="#858ca0" stroke="#111" stroke-width="1.15"/>
<path d="M24.47,230.62 L96.33,176.2" fill="none" stroke="#bd2436" stroke-width="1.05"/>
<ellipse cx="55.8" cy="205.3" rx="3.6" ry="3.0" fill="#ff0000"/>
<polyline points="68.54,193.71 67.9,193.31 67.09,193.1 66.1,193.06 64.96,193.22 63.67,193.55 62.27,194.06 60.77,194.75 59.2,195.59 57.57,196.58 55.92,197.71 54.26,198.94 52.63,200.28 51.05,201.69 49.54,203.16 48.12,204.65 46.82,206.16 45.65,207.66 44.64,209.12 43.8,210.52 43.14,211.84 42.68,213.06 42.41,214.17 42.34,215.14 42.48,215.96 42.82,216.62 43.36,217.11 44.08,217.42 44.99,217.54 46.05,217.48 47.27,217.24 48.61,216.81 50.07,216.21 51.61,215.45 53.21,214.53 54.85,213.47 56.51,212.29 58.16,211 59.77,209.62 61.32,208.18 62.79,206.7 64.15,205.19 65.38,203.69 66.47,202.21 67.4,200.78 68.15,199.41 68.71,198.14 69.08,196.97 69.25,195.93 69.21,195.03 68.97,194.29 68.54,193.71" fill="none" stroke="#000" stroke-width="0.95"/>
</g>
<rect x="23.5" y="171.1" width="75.2" height="65.2" fill="none" stroke="#222" stroke-width="1.2"/>
<g clip-path="url(#c21)">
<ellipse cx="112.09" cy="225.26" rx="2.1" ry="1.9" fill="#858ca0" stroke="#111" stroke-width="1.15"/>
<ellipse cx="112.09" cy="229.57" rx="2.1" ry="1.9" fill="#858ca0" stroke="#111" stroke-width="1.15"/>
<ellipse cx="112.09" cy="233.89" rx="2.1" ry="1.9" fill="#858ca0" stroke="#111" stroke-width="1.15"/>
<ellipse cx="118.42" cy="225.26" rx="2.1" ry="1.9" fill="#858ca0" stroke="#111" stroke-width="1.15"/>
<ellipse cx="118.42" cy="220.95" rx="2.1" ry="1.9" fill="#858ca0" stroke="#111" stroke-width="1.15"/>
<ellipse cx="118.42" cy="216.64" rx="2.1" ry="1.9" fill="#858ca0" stroke="#111" stroke-width="1.15"/>
<ellipse cx="118.42" cy="212.32" rx="2.1" ry="1.9" fill="#858ca0" stroke="#111" stroke-width="1.15"/>
<ellipse cx="118.42" cy="208.01" rx="2.1" ry="1.9" fill="#858ca0" stroke="#111" stroke-width="1.15"/>
<ellipse cx="124.75" cy="199.39" rx="2.1" ry="1.9" fill="#858ca0" stroke="#111" stroke-width="1.15"/>
<ellipse cx="124.75" cy="225.26" rx="2.1" ry="1.9" fill="#858ca0" stroke="#111" stroke-width="1.15"/>
<ellipse cx="124.75" cy="220.95" rx="2.1" ry="1.9" fill="#858ca0" stroke="#111" stroke-width="1.15"/>
<ellipse cx="124.75" cy="216.64" rx="2.1" ry="1.9" fill="#858ca0" stroke="#111" stroke-width="1.15"/>
<ellipse cx="124.75" cy="212.32" rx="2.1" ry="1.9" fill="#858ca0" stroke="#111" stroke-width="1.15"/>
<ellipse cx="124.75" cy="208.01" rx="2.1" ry="1.9" fill="#858ca0" stroke="#111" stroke-width="1.15"/>
<ellipse cx="131.08" cy="220.95" rx="2.1" ry="1.9" fill="#858ca0" stroke="#111" stroke-width="1.15"/>
<ellipse cx="131.08" cy="216.64" rx="2.1" ry="1.9" fill="#858ca0" stroke="#111" stroke-width="1.15"/>
<ellipse cx="131.08" cy="212.32" rx="2.1" ry="1.9" fill="#858ca0" stroke="#111" stroke-width="1.15"/>
<ellipse cx="131.08" cy="208.01" rx="2.1" ry="1.9" fill="#858ca0" stroke="#111" stroke-width="1.15"/>
<ellipse cx="131.08" cy="203.7" rx="2.1" ry="1.9" fill="#858ca0" stroke="#111" stroke-width="1.15"/>
<ellipse cx="131.08" cy="199.39" rx="2.1" ry="1.9" fill="#858ca0" stroke="#111" stroke-width="1.15"/>
<ellipse cx="131.08" cy="195.08" rx="2.1" ry="1.9" fill="#858ca0" stroke="#111" stroke-width="1.15"/>
<ellipse cx="137.41" cy="203.7" rx="2.1" ry="1.9" fill="#858ca0" stroke="#111" stroke-width="1.15"/>
<ellipse cx="137.41" cy="199.39" rx="2.1" ry="1.9" fill="#858ca0" stroke="#111" stroke-width="1.15"/>
<ellipse cx="137.41" cy="195.08" rx="2.1" ry="1.9" fill="#858ca0" stroke="#111" stroke-width="1.15"/>
<ellipse cx="137.41" cy="190.76" rx="2.1" ry="1.9" fill="#858ca0" stroke="#111" stroke-width="1.15"/>
<ellipse cx="137.41" cy="208.01" rx="2.1" ry="1.9" fill="#858ca0" stroke="#111" stroke-width="1.15"/>
<ellipse cx="143.74" cy="195.08" rx="2.1" ry="1.9" fill="#858ca0" stroke="#111" stroke-width="1.15"/>
<ellipse cx="143.74" cy="199.39" rx="2.1" ry="1.9" fill="#858ca0" stroke="#111" stroke-width="1.15"/>
<ellipse cx="143.74" cy="203.7" rx="2.1" ry="1.9" fill="#858ca0" stroke="#111" stroke-width="1.15"/>
<ellipse cx="143.74" cy="212.32" rx="2.1" ry="1.9" fill="#858ca0" stroke="#111" stroke-width="1.15"/>
<ellipse cx="150.06" cy="182.14" rx="2.1" ry="1.9" fill="#858ca0" stroke="#111" stroke-width="1.15"/>
<ellipse cx="150.06" cy="208.01" rx="2.1" ry="1.9" fill="#858ca0" stroke="#111" stroke-width="1.15"/>
<ellipse cx="150.06" cy="203.7" rx="2.1" ry="1.9" fill="#858ca0" stroke="#111" stroke-width="1.15"/>
<ellipse cx="150.06" cy="199.39" rx="2.1" ry="1.9" fill="#858ca0" stroke="#111" stroke-width="1.15"/>
<ellipse cx="150.06" cy="195.08" rx="2.1" ry="1.9" fill="#858ca0" stroke="#111" stroke-width="1.15"/>
<ellipse cx="150.06" cy="190.76" rx="2.1" ry="1.9" fill="#858ca0" stroke="#111" stroke-width="1.15"/>
<ellipse cx="156.39" cy="203.7" rx="2.1" ry="1.9" fill="#858ca0" stroke="#111" stroke-width="1.15"/>
<ellipse cx="156.39" cy="199.39" rx="2.1" ry="1.9" fill="#858ca0" stroke="#111" stroke-width="1.15"/>
<ellipse cx="156.39" cy="195.08" rx="2.1" ry="1.9" fill="#858ca0" stroke="#111" stroke-width="1.15"/>
<ellipse cx="156.39" cy="190.76" rx="2.1" ry="1.9" fill="#858ca0" stroke="#111" stroke-width="1.15"/>
<ellipse cx="156.39" cy="186.45" rx="2.1" ry="1.9" fill="#858ca0" stroke="#111" stroke-width="1.15"/>
<ellipse cx="162.72" cy="199.39" rx="2.1" ry="1.9" fill="#858ca0" stroke="#111" stroke-width="1.15"/>
<ellipse cx="162.72" cy="195.08" rx="2.1" ry="1.9" fill="#858ca0" stroke="#111" stroke-width="1.15"/>
<ellipse cx="162.72" cy="190.76" rx="2.1" ry="1.9" fill="#858ca0" stroke="#111" stroke-width="1.15"/>
<ellipse cx="162.72" cy="186.45" rx="2.1" ry="1.9" fill="#858ca0" stroke="#111" stroke-width="1.15"/>
<ellipse cx="162.72" cy="182.14" rx="2.1" ry="1.9" fill="#858ca0" stroke="#111" stroke-width="1.15"/>
<ellipse cx="169.05" cy="173.51" rx="2.1" ry="1.9" fill="#858ca0" stroke="#111" stroke-width="1.15"/>
<ellipse cx="169.05" cy="182.14" rx="2.1" ry="1.9" fill="#858ca0" stroke="#111" stroke-width="1.15"/>
<ellipse cx="169.05" cy="186.45" rx="2.1" ry="1.9" fill="#858ca0" stroke="#111" stroke-width="1.15"/>
<ellipse cx="175.38" cy="182.14" rx="2.1" ry="1.9" fill="#858ca0" stroke="#111" stroke-width="1.15"/>
<ellipse cx="175.38" cy="186.45" rx="2.1" ry="1.9" fill="#858ca0" stroke="#111" stroke-width="1.15"/>
<ellipse cx="175.38" cy="190.76" rx="2.1" ry="1.9" fill="#858ca0" stroke="#111" stroke-width="1.15"/>
<ellipse cx="181.71" cy="177.83" rx="2.1" ry="1.9" fill="#858ca0" stroke="#111" stroke-width="1.15"/>
<ellipse cx="181.71" cy="182.14" rx="2.1" ry="1.9" fill="#858ca0" stroke="#111" stroke-width="1.15"/>
<path d="M110.47,225.4 L182.33,178.44" fill="none" stroke="#bd2436" stroke-width="1.05"/>
<ellipse cx="140" cy="205.3" rx="3.6" ry="3.0" fill="#ff0000"/>
<polyline points="155.61,193.46 154.98,193.16 154.13,193.05 153.07,193.13 151.8,193.39 150.36,193.83 148.76,194.45 147.03,195.22 145.19,196.16 143.27,197.23 141.31,198.42 139.32,199.72 137.34,201.1 135.41,202.54 133.54,204.03 131.77,205.54 130.13,207.04 128.63,208.52 127.31,209.94 126.18,211.3 125.26,212.57 124.56,213.72 124.1,214.75 123.88,215.64 123.9,216.37 124.17,216.93 124.67,217.31 125.41,217.51 126.37,217.53 127.54,217.36 128.9,217.01 130.42,216.48 132.09,215.79 133.88,214.93 135.76,213.92 137.71,212.79 139.69,211.54 141.67,210.2 143.63,208.79 145.54,207.32 147.36,205.82 149.07,204.31 150.64,202.82 152.05,201.36 153.28,199.97 154.31,198.65 155.12,197.44 155.7,196.34 156.04,195.39 156.14,194.58 156,193.93 155.61,193.46" fill="none" stroke="#000" stroke-width="0.95"/>
</g>
<rect x="109.3" y="171.1" width="75.2" height="65.2" fill="none" stroke="#222" stroke-width="1.2"/>
<g clip-path="url(#c22)">
<rect x="197.89" y="227.6" width="9.95" height="8.7" fill="#05f5f0" stroke="#111" stroke-width="1"/>
<rect x="207.83" y="205.3" width="9.95" height="31" fill="#05f5f0" stroke="#111" stroke-width="1"/>
<rect x="217.78" y="192.6" width="9.95" height="43.7" fill="#05f5f0" stroke="#111" stroke-width="1"/>
<rect x="227.73" y="196.3" width="9.95" height="40" fill="#05f5f0" stroke="#111" stroke-width="1"/>
<rect x="237.67" y="210.9" width="9.95" height="25.4" fill="#05f5f0" stroke="#111" stroke-width="1"/>
<rect x="247.62" y="218.4" width="9.95" height="17.9" fill="#05f5f0" stroke="#111" stroke-width="1"/>
<rect x="257.57" y="235" width="9.95" height="1.3" fill="#05f5f0" stroke="#111" stroke-width="1"/>
<path d="M196.17,235.09 C196.97,234.59 199.16,233.48 200.95,232.11 C202.73,230.74 204.92,229.25 206.91,226.89 C208.9,224.53 211.01,221.42 212.87,217.95 C214.74,214.47 216.35,209.5 218.09,206.02 C219.83,202.54 221.69,199.23 223.31,197.07 C224.92,194.91 226.29,193.54 227.78,193.05 C229.27,192.55 230.76,193.17 232.25,194.09 C233.75,195.01 234.99,196.45 236.73,198.56 C238.47,200.68 240.83,204.15 242.69,206.76 C244.55,209.37 246.17,211.86 247.91,214.22 C249.65,216.58 251.51,218.82 253.13,220.93 C254.74,223.04 256.11,225.03 257.6,226.89 C259.09,228.75 260.33,230.62 262.07,232.11 C263.81,233.6 267.04,235.22 268.04,235.84" fill="none" stroke="#000" stroke-width="1.15"/>
<line x1="197.89" y1="236.3" x2="197.89" y2="234.3" stroke="#111" stroke-width="0.8"/>
<line x1="202.86" y1="236.3" x2="202.86" y2="234.3" stroke="#111" stroke-width="0.8"/>
<line x1="207.83" y1="236.3" x2="207.83" y2="234.3" stroke="#111" stroke-width="0.8"/>
<line x1="212.81" y1="236.3" x2="212.81" y2="234.3" stroke="#111" stroke-width="0.8"/>
<line x1="217.78" y1="236.3" x2="217.78" y2="234.3" stroke="#111" stroke-width="0.8"/>
<line x1="222.75" y1="236.3" x2="222.75" y2="234.3" stroke="#111" stroke-width="0.8"/>
<line x1="227.73" y1="236.3" x2="227.73" y2="234.3" stroke="#111" stroke-width="0.8"/>
<line x1="232.7" y1="236.3" x2="232.7" y2="234.3" stroke="#111" stroke-width="0.8"/>
<line x1="237.67" y1="236.3" x2="237.67" y2="234.3" stroke="#111" stroke-width="0.8"/>
<line x1="242.65" y1="236.3" x2="242.65" y2="234.3" stroke="#111" stroke-width="0.8"/>
<line x1="247.62" y1="236.3" x2="247.62" y2="234.3" stroke="#111" stroke-width="0.8"/>
<line x1="252.59" y1="236.3" x2="252.59" y2="234.3" stroke="#111" stroke-width="0.8"/>
<line x1="257.57" y1="236.3" x2="257.57" y2="234.3" stroke="#111" stroke-width="0.8"/>
<line x1="262.54" y1="236.3" x2="262.54" y2="234.3" stroke="#111" stroke-width="0.8"/>
<line x1="267.51" y1="236.3" x2="267.51" y2="234.3" stroke="#111" stroke-width="0.8"/>
</g>
<text x="0" y="0" transform="translate(232.7,187.5) scale(1.09,1)" text-anchor="middle" font-size="16" font-family="Liberation Sans, Arial, Helvetica, sans-serif" fill="#111" stroke="#111" stroke-width="0.22">FY19.2</text>
<rect x="195.1" y="171.1" width="75.2" height="65.2" fill="none" stroke="#222" stroke-width="1.2"/>
<text x="0" y="0" transform="translate(318.5,210) scale(1.15,1)" text-anchor="middle" font-size="16.6" font-family="Liberation Sans, Arial, Helvetica, sans-serif" fill="#111" stroke="#111" stroke-width="0.22">0.87<tspan font-size="15.6" dy="-1.9" letter-spacing="1.0" dx="0.6" fill="#333" stroke="none">***</tspan></text>
<rect x="280.9" y="171.1" width="75.2" height="65.2" fill="none" stroke="#222" stroke-width="1.2"/>
<text x="0" y="0" transform="translate(404.3,210) scale(1.15,1)" text-anchor="middle" font-size="16.6" font-family="Liberation Sans, Arial, Helvetica, sans-serif" fill="#111" stroke="#111" stroke-width="0.22">0.83<tspan font-size="15.6" dy="-1.9" letter-spacing="1.0" dx="0.6" fill="#333" stroke="none">***</tspan></text>
<rect x="366.7" y="171.1" width="75.2" height="65.2" fill="none" stroke="#222" stroke-width="1.2"/>
<text x="0" y="0" transform="translate(490.1,210) scale(1.15,1)" text-anchor="middle" font-size="16.6" font-family="Liberation Sans, Arial, Helvetica, sans-serif" fill="#111" stroke="#111" stroke-width="0.22">0.84<tspan font-size="15.6" dy="-1.9" letter-spacing="1.0" dx="0.6" fill="#333" stroke="none">***</tspan></text>
<rect x="452.5" y="171.1" width="75.2" height="65.2" fill="none" stroke="#222" stroke-width="1.2"/>
<g clip-path="url(#c30)">
<ellipse cx="81.99" cy="248.21" rx="2.1" ry="1.9" fill="#858ca0" stroke="#111" stroke-width="1.15"/>
<ellipse cx="95.91" cy="248.21" rx="2.1" ry="1.9" fill="#858ca0" stroke="#111" stroke-width="1.15"/>
<ellipse cx="77.35" cy="252.53" rx="2.1" ry="1.9" fill="#858ca0" stroke="#111" stroke-width="1.15"/>
<ellipse cx="81.99" cy="252.53" rx="2.1" ry="1.9" fill="#858ca0" stroke="#111" stroke-width="1.15"/>
<ellipse cx="54.14" cy="256.84" rx="2.1" ry="1.9" fill="#858ca0" stroke="#111" stroke-width="1.15"/>
<ellipse cx="72.7" cy="256.84" rx="2.1" ry="1.9" fill="#858ca0" stroke="#111" stroke-width="1.15"/>
<ellipse cx="58.78" cy="261.15" rx="2.1" ry="1.9" fill="#858ca0" stroke="#111" stroke-width="1.15"/>
<ellipse cx="68.06" cy="261.15" rx="2.1" ry="1.9" fill="#858ca0" stroke="#111" stroke-width="1.15"/>
<ellipse cx="72.7" cy="261.15" rx="2.1" ry="1.9" fill="#858ca0" stroke="#111" stroke-width="1.15"/>
<ellipse cx="86.63" cy="261.15" rx="2.1" ry="1.9" fill="#858ca0" stroke="#111" stroke-width="1.15"/>
<ellipse cx="54.14" cy="265.46" rx="2.1" ry="1.9" fill="#858ca0" stroke="#111" stroke-width="1.15"/>
<ellipse cx="58.78" cy="265.46" rx="2.1" ry="1.9" fill="#858ca0" stroke="#111" stroke-width="1.15"/>
<ellipse cx="63.42" cy="265.46" rx="2.1" ry="1.9" fill="#858ca0" stroke="#111" stroke-width="1.15"/>
<ellipse cx="68.06" cy="265.46" rx="2.1" ry="1.9" fill="#858ca0" stroke="#111" stroke-width="1.15"/>
<ellipse cx="72.7" cy="265.46" rx="2.1" ry="1.9" fill="#858ca0" stroke="#111" stroke-width="1.15"/>
<ellipse cx="77.35" cy="265.46" rx="2.1" ry="1.9" fill="#858ca0" stroke="#111" stroke-width="1.15"/>
<ellipse cx="49.5" cy="269.78" rx="2.1" ry="1.9" fill="#858ca0" stroke="#111" stroke-width="1.15"/>
<ellipse cx="54.14" cy="269.78" rx="2.1" ry="1.9" fill="#858ca0" stroke="#111" stroke-width="1.15"/>
<ellipse cx="58.78" cy="269.78" rx="2.1" ry="1.9" fill="#858ca0" stroke="#111" stroke-width="1.15"/>
<ellipse cx="63.42" cy="269.78" rx="2.1" ry="1.9" fill="#858ca0" stroke="#111" stroke-width="1.15"/>
<ellipse cx="68.06" cy="269.78" rx="2.1" ry="1.9" fill="#858ca0" stroke="#111" stroke-width="1.15"/>
<ellipse cx="72.7" cy="269.78" rx="2.1" ry="1.9" fill="#858ca0" stroke="#111" stroke-width="1.15"/>
<ellipse cx="77.35" cy="269.78" rx="2.1" ry="1.9" fill="#858ca0" stroke="#111" stroke-width="1.15"/>
<ellipse cx="49.5" cy="274.09" rx="2.1" ry="1.9" fill="#858ca0" stroke="#111" stroke-width="1.15"/>
<ellipse cx="54.14" cy="274.09" rx="2.1" ry="1.9" fill="#858ca0" stroke="#111" stroke-width="1.15"/>
<ellipse cx="58.78" cy="274.09" rx="2.1" ry="1.9" fill="#858ca0" stroke="#111" stroke-width="1.15"/>
<ellipse cx="63.42" cy="274.09" rx="2.1" ry="1.9" fill="#858ca0" stroke="#111" stroke-width="1.15"/>
<ellipse cx="68.06" cy="274.09" rx="2.1" ry="1.9" fill="#858ca0" stroke="#111" stroke-width="1.15"/>
<ellipse cx="72.7" cy="274.09" rx="2.1" ry="1.9" fill="#858ca0" stroke="#111" stroke-width="1.15"/>
<ellipse cx="77.35" cy="274.09" rx="2.1" ry="1.9" fill="#858ca0" stroke="#111" stroke-width="1.15"/>
<ellipse cx="40.21" cy="278.4" rx="2.1" ry="1.9" fill="#858ca0" stroke="#111" stroke-width="1.15"/>
<ellipse cx="44.85" cy="278.4" rx="2.1" ry="1.9" fill="#858ca0" stroke="#111" stroke-width="1.15"/>
<ellipse cx="49.5" cy="278.4" rx="2.1" ry="1.9" fill="#858ca0" stroke="#111" stroke-width="1.15"/>
<ellipse cx="54.14" cy="278.4" rx="2.1" ry="1.9" fill="#858ca0" stroke="#111" stroke-width="1.15"/>
<ellipse cx="58.78" cy="278.4" rx="2.1" ry="1.9" fill="#858ca0" stroke="#111" stroke-width="1.15"/>
<ellipse cx="63.42" cy="278.4" rx="2.1" ry="1.9" fill="#858ca0" stroke="#111" stroke-width="1.15"/>
<ellipse cx="68.06" cy="278.4" rx="2.1" ry="1.9" fill="#858ca0" stroke="#111" stroke-width="1.15"/>
<ellipse cx="72.7" cy="278.4" rx="2.1" ry="1.9" fill="#858ca0" stroke="#111" stroke-width="1.15"/>
<ellipse cx="77.35" cy="278.4" rx="2.1" ry="1.9" fill="#858ca0" stroke="#111" stroke-width="1.15"/>
<ellipse cx="44.85" cy="282.71" rx="2.1" ry="1.9" fill="#858ca0" stroke="#111" stroke-width="1.15"/>
<ellipse cx="49.5" cy="282.71" rx="2.1" ry="1.9" fill="#858ca0" stroke="#111" stroke-width="1.15"/>
<ellipse cx="54.14" cy="282.71" rx="2.1" ry="1.9" fill="#858ca0" stroke="#111" stroke-width="1.15"/>
<ellipse cx="58.78" cy="282.71" rx="2.1" ry="1.9" fill="#858ca0" stroke="#111" stroke-width="1.15"/>
<ellipse cx="68.06" cy="282.71" rx="2.1" ry="1.9" fill="#858ca0" stroke="#111" stroke-width="1.15"/>
<ellipse cx="77.35" cy="282.71" rx="2.1" ry="1.9" fill="#858ca0" stroke="#111" stroke-width="1.15"/>
<ellipse cx="40.21" cy="287.02" rx="2.1" ry="1.9" fill="#858ca0" stroke="#111" stroke-width="1.15"/>
<ellipse cx="44.85" cy="287.02" rx="2.1" ry="1.9" fill="#858ca0" stroke="#111" stroke-width="1.15"/>
<ellipse cx="49.5" cy="287.02" rx="2.1" ry="1.9" fill="#858ca0" stroke="#111" stroke-width="1.15"/>
<ellipse cx="54.14" cy="287.02" rx="2.1" ry="1.9" fill="#858ca0" stroke="#111" stroke-width="1.15"/>
<ellipse cx="58.78" cy="287.02" rx="2.1" ry="1.9" fill="#858ca0" stroke="#111" stroke-width="1.15"/>
<ellipse cx="26.29" cy="291.34" rx="2.1" ry="1.9" fill="#858ca0" stroke="#111" stroke-width="1.15"/>
<ellipse cx="35.57" cy="291.34" rx="2.1" ry="1.9" fill="#858ca0" stroke="#111" stroke-width="1.15"/>
<ellipse cx="40.21" cy="291.34" rx="2.1" ry="1.9" fill="#858ca0" stroke="#111" stroke-width="1.15"/>
<ellipse cx="44.85" cy="291.34" rx="2.1" ry="1.9" fill="#858ca0" stroke="#111" stroke-width="1.15"/>
<ellipse cx="26.29" cy="295.65" rx="2.1" ry="1.9" fill="#858ca0" stroke="#111" stroke-width="1.15"/>
<ellipse cx="30.93" cy="295.65" rx="2.1" ry="1.9" fill="#858ca0" stroke="#111" stroke-width="1.15"/>
<ellipse cx="35.57" cy="295.65" rx="2.1" ry="1.9" fill="#858ca0" stroke="#111" stroke-width="1.15"/>
<ellipse cx="40.21" cy="295.65" rx="2.1" ry="1.9" fill="#858ca0" stroke="#111" stroke-width="1.15"/>
<ellipse cx="44.85" cy="295.65" rx="2.1" ry="1.9" fill="#858ca0" stroke="#111" stroke-width="1.15"/>
<ellipse cx="30.93" cy="299.96" rx="2.1" ry="1.9" fill="#858ca0" stroke="#111" stroke-width="1.15"/>
<ellipse cx="35.57" cy="299.96" rx="2.1" ry="1.9" fill="#858ca0" stroke="#111" stroke-width="1.15"/>
<ellipse cx="40.21" cy="299.96" rx="2.1" ry="1.9" fill="#858ca0" stroke="#111" stroke-width="1.15"/>
<ellipse cx="35.57" cy="304.27" rx="2.1" ry="1.9" fill="#858ca0" stroke="#111" stroke-width="1.15"/>
<ellipse cx="44.85" cy="304.27" rx="2.1" ry="1.9" fill="#858ca0" stroke="#111" stroke-width="1.15"/>
<ellipse cx="40.21" cy="308.59" rx="2.1" ry="1.9" fill="#858ca0" stroke="#111" stroke-width="1.15"/>
<path d="M25.96,301.15 L97.53,249.26" fill="none" stroke="#bd2436" stroke-width="1.05"/>
<ellipse cx="55.8" cy="277.3" rx="3.6" ry="3.0" fill="#ff0000"/>
<polyline points="68.57,266.05 67.95,265.67 67.15,265.48 66.17,265.46 65.04,265.61 63.76,265.95 62.37,266.46 60.88,267.13 59.31,267.96 57.68,268.93 56.03,270.02 54.37,271.23 52.74,272.53 51.15,273.9 49.63,275.32 48.21,276.77 46.9,278.23 45.73,279.68 44.71,281.09 43.85,282.44 43.18,283.71 42.7,284.89 42.42,285.95 42.34,286.88 42.46,287.67 42.79,288.3 43.32,288.76 44.03,289.05 44.92,289.16 45.98,289.09 47.18,288.84 48.52,288.42 49.97,287.82 51.5,287.07 53.1,286.17 54.74,285.14 56.4,283.99 58.05,282.73 59.66,281.39 61.22,280 62.69,278.56 64.06,277.1 65.3,275.64 66.4,274.21 67.34,272.83 68.11,271.51 68.68,270.28 69.07,269.16 69.25,268.16 69.22,267.3 69,266.6 68.57,266.05" fill="none" stroke="#000" stroke-width="0.95"/>
</g>
<rect x="23.5" y="245.8" width="75.2" height="65.2" fill="none" stroke="#222" stroke-width="1.2"/>
<g clip-path="url(#c31)">
<ellipse cx="112.09" cy="295.65" rx="2.1" ry="1.9" fill="#858ca0" stroke="#111" stroke-width="1.15"/>
<ellipse cx="112.09" cy="299.96" rx="2.1" ry="1.9" fill="#858ca0" stroke="#111" stroke-width="1.15"/>
<ellipse cx="112.09" cy="304.27" rx="2.1" ry="1.9" fill="#858ca0" stroke="#111" stroke-width="1.15"/>
<ellipse cx="118.42" cy="308.59" rx="2.1" ry="1.9" fill="#858ca0" stroke="#111" stroke-width="1.15"/>
<ellipse cx="118.42" cy="304.27" rx="2.1" ry="1.9" fill="#858ca0" stroke="#111" stroke-width="1.15"/>
<ellipse cx="118.42" cy="299.96" rx="2.1" ry="1.9" fill="#858ca0" stroke="#111" stroke-width="1.15"/>
<ellipse cx="118.42" cy="295.65" rx="2.1" ry="1.9" fill="#858ca0" stroke="#111" stroke-width="1.15"/>
<ellipse cx="118.42" cy="291.34" rx="2.1" ry="1.9" fill="#858ca0" stroke="#111" stroke-width="1.15"/>
<ellipse cx="118.42" cy="287.02" rx="2.1" ry="1.9" fill="#858ca0" stroke="#111" stroke-width="1.15"/>
<ellipse cx="118.42" cy="282.71" rx="2.1" ry="1.9" fill="#858ca0" stroke="#111" stroke-width="1.15"/>
<ellipse cx="124.75" cy="291.34" rx="2.1" ry="1.9" fill="#858ca0" stroke="#111" stroke-width="1.15"/>
<ellipse cx="124.75" cy="287.02" rx="2.1" ry="1.9" fill="#858ca0" stroke="#111" stroke-width="1.15"/>
<ellipse cx="124.75" cy="282.71" rx="2.1" ry="1.9" fill="#858ca0" stroke="#111" stroke-width="1.15"/>
<ellipse cx="124.75" cy="278.4" rx="2.1" ry="1.9" fill="#858ca0" stroke="#111" stroke-width="1.15"/>
<ellipse cx="131.08" cy="287.02" rx="2.1" ry="1.9" fill="#858ca0" stroke="#111" stroke-width="1.15"/>
<ellipse cx="131.08" cy="282.71" rx="2.1" ry="1.9" fill="#858ca0" stroke="#111" stroke-width="1.15"/>
<ellipse cx="131.08" cy="278.4" rx="2.1" ry="1.9" fill="#858ca0" stroke="#111" stroke-width="1.15"/>
<ellipse cx="131.08" cy="274.09" rx="2.1" ry="1.9" fill="#858ca0" stroke="#111" stroke-width="1.15"/>
<ellipse cx="137.41" cy="287.02" rx="2.1" ry="1.9" fill="#858ca0" stroke="#111" stroke-width="1.15"/>
<ellipse cx="137.41" cy="282.71" rx="2.1" ry="1.9" fill="#858ca0" stroke="#111" stroke-width="1.15"/>
<ellipse cx="137.41" cy="278.4" rx="2.1" ry="1.9" fill="#858ca0" stroke="#111" stroke-width="1.15"/>
<ellipse cx="137.41" cy="274.09" rx="2.1" ry="1.9" fill="#858ca0" stroke="#111" stroke-width="1.15"/>
<ellipse cx="137.41" cy="269.78" rx="2.1" ry="1.9" fill="#858ca0" stroke="#111" stroke-width="1.15"/>
<ellipse cx="143.74" cy="278.4" rx="2.1" ry="1.9" fill="#858ca0" stroke="#111" stroke-width="1.15"/>
<ellipse cx="143.74" cy="274.09" rx="2.1" ry="1.9" fill="#858ca0" stroke="#111" stroke-width="1.15"/>
<ellipse cx="143.74" cy="269.78" rx="2.1" ry="1.9" fill="#858ca0" stroke="#111" stroke-width="1.15"/>
<ellipse cx="143.74" cy="265.46" rx="2.1" ry="1.9" fill="#858ca0" stroke="#111" stroke-width="1.15"/>
<ellipse cx="150.06" cy="282.71" rx="2.1" ry="1.9" fill="#858ca0" stroke="#111" stroke-width="1.15"/>
<ellipse cx="150.06" cy="278.4" rx="2.1" ry="1.9" fill="#858ca0" stroke="#111" stroke-width="1.15"/>
<ellipse cx="150.06" cy="274.09" rx="2.1" ry="1.9" fill="#858ca0" stroke="#111" stroke-width="1.15"/>
<ellipse cx="150.06" cy="269.78" rx="2.1" ry="1.9" fill="#858ca0" stroke="#111" stroke-width="1.15"/>
<ellipse cx="150.06" cy="265.46" rx="2.1" ry="1.9" fill="#858ca0" stroke="#111" stroke-width="1.15"/>
<ellipse cx="156.39" cy="274.09" rx="2.1" ry="1.9" fill="#858ca0" stroke="#111" stroke-width="1.15"/>
<ellipse cx="156.39" cy="269.78" rx="2.1" ry="1.9" fill="#858ca0" stroke="#111" stroke-width="1.15"/>
<ellipse cx="156.39" cy="265.46" rx="2.1" ry="1.9" fill="#858ca0" stroke="#111" stroke-width="1.15"/>
<ellipse cx="156.39" cy="261.15" rx="2.1" ry="1.9" fill="#858ca0" stroke="#111" stroke-width="1.15"/>
<ellipse cx="162.72" cy="269.78" rx="2.1" ry="1.9" fill="#858ca0" stroke="#111" stroke-width="1.15"/>
<ellipse cx="162.72" cy="265.46" rx="2.1" ry="1.9" fill="#858ca0" stroke="#111" stroke-width="1.15"/>
<ellipse cx="162.72" cy="261.15" rx="2.1" ry="1.9" fill="#858ca0" stroke="#111" stroke-width="1.15"/>
<ellipse cx="162.72" cy="256.84" rx="2.1" ry="1.9" fill="#858ca0" stroke="#111" stroke-width="1.15"/>
<ellipse cx="162.72" cy="278.4" rx="2.1" ry="1.9" fill="#858ca0" stroke="#111" stroke-width="1.15"/>
<ellipse cx="169.05" cy="248.21" rx="2.1" ry="1.9" fill="#858ca0" stroke="#111" stroke-width="1.15"/>
<ellipse cx="169.05" cy="252.53" rx="2.1" ry="1.9" fill="#858ca0" stroke="#111" stroke-width="1.15"/>
<ellipse cx="169.05" cy="261.15" rx="2.1" ry="1.9" fill="#858ca0" stroke="#111" stroke-width="1.15"/>
<ellipse cx="169.05" cy="265.46" rx="2.1" ry="1.9" fill="#858ca0" stroke="#111" stroke-width="1.15"/>
<ellipse cx="175.38" cy="252.53" rx="2.1" ry="1.9" fill="#858ca0" stroke="#111" stroke-width="1.15"/>
<ellipse cx="175.38" cy="256.84" rx="2.1" ry="1.9" fill="#858ca0" stroke="#111" stroke-width="1.15"/>
<ellipse cx="175.38" cy="261.15" rx="2.1" ry="1.9" fill="#858ca0" stroke="#111" stroke-width="1.15"/>
<ellipse cx="181.71" cy="248.21" rx="2.1" ry="1.9" fill="#858ca0" stroke="#111" stroke-width="1.15"/>
<ellipse cx="181.71" cy="252.53" rx="2.1" ry="1.9" fill="#858ca0" stroke="#111" stroke-width="1.15"/>
<path d="M111.22,298.16 C113.58,296.18 120.54,289.84 125.38,286.24 C130.23,282.63 135.32,279.78 140.29,276.55 C145.26,273.32 150.48,269.71 155.2,266.85 C159.92,264 164.02,262.26 168.62,259.4 C173.22,256.54 180.42,251.32 182.78,249.71" fill="none" stroke="#bd2436" stroke-width="1.05"/>
<ellipse cx="140" cy="277.3" rx="3.6" ry="3.0" fill="#ff0000"/>
<polyline points="155.69,265.77 155.11,265.52 154.29,265.44 153.26,265.55 152.03,265.83 150.62,266.28 149.05,266.91 147.33,267.69 145.51,268.61 143.61,269.67 141.64,270.85 139.66,272.12 137.68,273.47 135.73,274.88 133.85,276.32 132.06,277.78 130.4,279.23 128.88,280.66 127.52,282.03 126.36,283.33 125.4,284.54 124.67,285.64 124.16,286.61 123.9,287.44 123.88,288.12 124.11,288.63 124.57,288.98 125.27,289.14 126.19,289.13 127.33,288.93 128.65,288.57 130.15,288.02 131.79,287.32 133.56,286.47 135.43,285.47 137.37,284.35 139.35,283.13 141.33,281.82 143.3,280.43 145.22,279.01 147.05,277.55 148.79,276.09 150.38,274.65 151.82,273.25 153.08,271.91 154.15,270.65 154.99,269.5 155.62,268.46 156,267.56 156.14,266.8 156.04,266.2 155.69,265.77" fill="none" stroke="#000" stroke-width="0.95"/>
</g>
<rect x="109.3" y="245.8" width="75.2" height="65.2" fill="none" stroke="#222" stroke-width="1.2"/>
<g clip-path="url(#c32)">
<ellipse cx="257.57" cy="248.21" rx="2.1" ry="1.9" fill="#858ca0" stroke="#111" stroke-width="1.15"/>
<ellipse cx="262.54" cy="248.21" rx="2.1" ry="1.9" fill="#858ca0" stroke="#111" stroke-width="1.15"/>
<ellipse cx="252.59" cy="252.53" rx="2.1" ry="1.9" fill="#858ca0" stroke="#111" stroke-width="1.15"/>
<ellipse cx="257.57" cy="252.53" rx="2.1" ry="1.9" fill="#858ca0" stroke="#111" stroke-width="1.15"/>
<ellipse cx="267.51" cy="252.53" rx="2.1" ry="1.9" fill="#858ca0" stroke="#111" stroke-width="1.15"/>
<ellipse cx="237.67" cy="256.84" rx="2.1" ry="1.9" fill="#858ca0" stroke="#111" stroke-width="1.15"/>
<ellipse cx="242.65" cy="256.84" rx="2.1" ry="1.9" fill="#858ca0" stroke="#111" stroke-width="1.15"/>
<ellipse cx="247.62" cy="256.84" rx="2.1" ry="1.9" fill="#858ca0" stroke="#111" stroke-width="1.15"/>
<ellipse cx="252.59" cy="256.84" rx="2.1" ry="1.9" fill="#858ca0" stroke="#111" stroke-width="1.15"/>
<ellipse cx="242.65" cy="261.15" rx="2.1" ry="1.9" fill="#858ca0" stroke="#111" stroke-width="1.15"/>
<ellipse cx="247.62" cy="261.15" rx="2.1" ry="1.9" fill="#858ca0" stroke="#111" stroke-width="1.15"/>
<ellipse cx="252.59" cy="261.15" rx="2.1" ry="1.9" fill="#858ca0" stroke="#111" stroke-width="1.15"/>
<ellipse cx="257.57" cy="261.15" rx="2.1" ry="1.9" fill="#858ca0" stroke="#111" stroke-width="1.15"/>
<ellipse cx="232.7" cy="265.46" rx="2.1" ry="1.9" fill="#858ca0" stroke="#111" stroke-width="1.15"/>
<ellipse cx="237.67" cy="265.46" rx="2.1" ry="1.9" fill="#858ca0" stroke="#111" stroke-width="1.15"/>
<ellipse cx="242.65" cy="265.46" rx="2.1" ry="1.9" fill="#858ca0" stroke="#111" stroke-width="1.15"/>
<ellipse cx="247.62" cy="265.46" rx="2.1" ry="1.9" fill="#858ca0" stroke="#111" stroke-width="1.15"/>
<ellipse cx="252.59" cy="265.46" rx="2.1" ry="1.9" fill="#858ca0" stroke="#111" stroke-width="1.15"/>
<ellipse cx="257.57" cy="265.46" rx="2.1" ry="1.9" fill="#858ca0" stroke="#111" stroke-width="1.15"/>
<ellipse cx="227.73" cy="269.78" rx="2.1" ry="1.9" fill="#858ca0" stroke="#111" stroke-width="1.15"/>
<ellipse cx="232.7" cy="269.78" rx="2.1" ry="1.9" fill="#858ca0" stroke="#111" stroke-width="1.15"/>
<ellipse cx="237.67" cy="269.78" rx="2.1" ry="1.9" fill="#858ca0" stroke="#111" stroke-width="1.15"/>
<ellipse cx="242.65" cy="269.78" rx="2.1" ry="1.9" fill="#858ca0" stroke="#111" stroke-width="1.15"/>
<ellipse cx="247.62" cy="269.78" rx="2.1" ry="1.9" fill="#858ca0" stroke="#111" stroke-width="1.15"/>
<ellipse cx="252.59" cy="269.78" rx="2.1" ry="1.9" fill="#858ca0" stroke="#111" stroke-width="1.15"/>
<ellipse cx="257.57" cy="269.78" rx="2.1" ry="1.9" fill="#858ca0" stroke="#111" stroke-width="1.15"/>
<ellipse cx="227.73" cy="274.09" rx="2.1" ry="1.9" fill="#858ca0" stroke="#111" stroke-width="1.15"/>
<ellipse cx="232.7" cy="274.09" rx="2.1" ry="1.9" fill="#858ca0" stroke="#111" stroke-width="1.15"/>
<ellipse cx="237.67" cy="274.09" rx="2.1" ry="1.9" fill="#858ca0" stroke="#111" stroke-width="1.15"/>
<ellipse cx="242.65" cy="274.09" rx="2.1" ry="1.9" fill="#858ca0" stroke="#111" stroke-width="1.15"/>
<ellipse cx="247.62" cy="274.09" rx="2.1" ry="1.9" fill="#858ca0" stroke="#111" stroke-width="1.15"/>
<ellipse cx="217.78" cy="278.4" rx="2.1" ry="1.9" fill="#858ca0" stroke="#111" stroke-width="1.15"/>
<ellipse cx="222.75" cy="278.4" rx="2.1" ry="1.9" fill="#858ca0" stroke="#111" stroke-width="1.15"/>
<ellipse cx="227.73" cy="278.4" rx="2.1" ry="1.9" fill="#858ca0" stroke="#111" stroke-width="1.15"/>
<ellipse cx="232.7" cy="278.4" rx="2.1" ry="1.9" fill="#858ca0" stroke="#111" stroke-width="1.15"/>
<ellipse cx="237.67" cy="278.4" rx="2.1" ry="1.9" fill="#858ca0" stroke="#111" stroke-width="1.15"/>
<ellipse cx="242.65" cy="278.4" rx="2.1" ry="1.9" fill="#858ca0" stroke="#111" stroke-width="1.15"/>
<ellipse cx="252.59" cy="278.4" rx="2.1" ry="1.9" fill="#858ca0" stroke="#111" stroke-width="1.15"/>
<ellipse cx="217.78" cy="282.71" rx="2.1" ry="1.9" fill="#858ca0" stroke="#111" stroke-width="1.15"/>
<ellipse cx="222.75" cy="282.71" rx="2.1" ry="1.9" fill="#858ca0" stroke="#111" stroke-width="1.15"/>
<ellipse cx="227.73" cy="282.71" rx="2.1" ry="1.9" fill="#858ca0" stroke="#111" stroke-width="1.15"/>
<ellipse cx="232.7" cy="282.71" rx="2.1" ry="1.9" fill="#858ca0" stroke="#111" stroke-width="1.15"/>
<ellipse cx="237.67" cy="282.71" rx="2.1" ry="1.9" fill="#858ca0" stroke="#111" stroke-width="1.15"/>
<ellipse cx="242.65" cy="282.71" rx="2.1" ry="1.9" fill="#858ca0" stroke="#111" stroke-width="1.15"/>
<ellipse cx="212.81" cy="287.02" rx="2.1" ry="1.9" fill="#858ca0" stroke="#111" stroke-width="1.15"/>
<ellipse cx="217.78" cy="287.02" rx="2.1" ry="1.9" fill="#858ca0" stroke="#111" stroke-width="1.15"/>
<ellipse cx="222.75" cy="287.02" rx="2.1" ry="1.9" fill="#858ca0" stroke="#111" stroke-width="1.15"/>
<ellipse cx="227.73" cy="287.02" rx="2.1" ry="1.9" fill="#858ca0" stroke="#111" stroke-width="1.15"/>
<ellipse cx="232.7" cy="287.02" rx="2.1" ry="1.9" fill="#858ca0" stroke="#111" stroke-width="1.15"/>
<ellipse cx="207.83" cy="291.34" rx="2.1" ry="1.9" fill="#858ca0" stroke="#111" stroke-width="1.15"/>
<ellipse cx="212.81" cy="291.34" rx="2.1" ry="1.9" fill="#858ca0" stroke="#111" stroke-width="1.15"/>
<ellipse cx="217.78" cy="291.34" rx="2.1" ry="1.9" fill="#858ca0" stroke="#111" stroke-width="1.15"/>
<ellipse cx="202.86" cy="295.65" rx="2.1" ry="1.9" fill="#858ca0" stroke="#111" stroke-width="1.15"/>
<ellipse cx="207.83" cy="295.65" rx="2.1" ry="1.9" fill="#858ca0" stroke="#111" stroke-width="1.15"/>
<ellipse cx="212.81" cy="295.65" rx="2.1" ry="1.9" fill="#858ca0" stroke="#111" stroke-width="1.15"/>
<ellipse cx="217.78" cy="295.65" rx="2.1" ry="1.9" fill="#858ca0" stroke="#111" stroke-width="1.15"/>
<ellipse cx="197.89" cy="299.96" rx="2.1" ry="1.9" fill="#858ca0" stroke="#111" stroke-width="1.15"/>
<ellipse cx="207.83" cy="299.96" rx="2.1" ry="1.9" fill="#858ca0" stroke="#111" stroke-width="1.15"/>
<ellipse cx="212.81" cy="299.96" rx="2.1" ry="1.9" fill="#858ca0" stroke="#111" stroke-width="1.15"/>
<ellipse cx="202.86" cy="304.27" rx="2.1" ry="1.9" fill="#858ca0" stroke="#111" stroke-width="1.15"/>
<ellipse cx="212.81" cy="304.27" rx="2.1" ry="1.9" fill="#858ca0" stroke="#111" stroke-width="1.15"/>
<ellipse cx="212.81" cy="308.59" rx="2.1" ry="1.9" fill="#858ca0" stroke="#111" stroke-width="1.15"/>
<path d="M197.96,304.13 L267.29,250.45" fill="none" stroke="#bd2436" stroke-width="1.05"/>
<ellipse cx="231.1" cy="277.3" rx="3.6" ry="3.0" fill="#ff0000"/>
<polyline points="244.76,265.83 244.21,265.55 243.47,265.44 242.53,265.52 241.43,265.77 240.17,266.19 238.77,266.79 237.25,267.54 235.64,268.45 233.96,269.48 232.24,270.64 230.5,271.89 228.77,273.23 227.08,274.63 225.45,276.07 223.9,277.53 222.46,278.99 221.15,280.42 220,281.8 219.01,283.11 218.2,284.34 217.59,285.46 217.19,286.45 216.99,287.31 217.01,288.02 217.25,288.56 217.69,288.93 218.34,289.13 219.18,289.14 220.2,288.98 221.38,288.64 222.72,288.13 224.18,287.45 225.74,286.62 227.39,285.65 229.09,284.55 230.83,283.35 232.56,282.05 234.28,280.68 235.95,279.25 237.54,277.8 239.04,276.34 240.41,274.9 241.65,273.49 242.72,272.14 243.62,270.86 244.33,269.69 244.84,268.63 245.14,267.7 245.22,266.92 245.1,266.29 244.76,265.83" fill="none" stroke="#000" stroke-width="0.95"/>
</g>
<rect x="195.1" y="245.8" width="75.2" height="65.2" fill="none" stroke="#222" stroke-width="1.2"/>
<g clip-path="url(#c33)">
<rect x="278.71" y="308.8" width="9.95" height="2.2" fill="#05f5f0" stroke="#111" stroke-width="1"/>
<rect x="288.66" y="302.4" width="9.95" height="8.6" fill="#05f5f0" stroke="#111" stroke-width="1"/>
<rect x="298.61" y="284.5" width="9.95" height="26.5" fill="#05f5f0" stroke="#111" stroke-width="1"/>
<rect x="308.55" y="267.6" width="9.95" height="43.4" fill="#05f5f0" stroke="#111" stroke-width="1"/>
<rect x="318.5" y="282.3" width="9.95" height="28.7" fill="#05f5f0" stroke="#111" stroke-width="1"/>
<rect x="328.45" y="290" width="9.95" height="21" fill="#05f5f0" stroke="#111" stroke-width="1"/>
<rect x="338.39" y="305.4" width="9.95" height="5.6" fill="#05f5f0" stroke="#111" stroke-width="1"/>
<rect x="348.34" y="309.5" width="9.95" height="1.5" fill="#05f5f0" stroke="#111" stroke-width="1"/>
<path d="M280.98,309.09 C281.73,308.84 283.96,308.35 285.45,307.6 C286.95,306.85 288.44,305.74 289.93,304.62 C291.42,303.5 292.91,302.63 294.4,300.89 C295.89,299.15 297.38,296.79 298.87,294.18 C300.36,291.57 301.85,287.97 303.35,285.24 C304.84,282.5 306.33,280.02 307.82,277.78 C309.31,275.55 310.92,273.36 312.29,271.82 C313.66,270.28 314.9,269.16 316.02,268.54 C317.14,267.92 317.88,267.67 319,268.09 C320.12,268.51 321.36,269.46 322.73,271.07 C324.09,272.69 325.71,275.42 327.2,277.78 C328.69,280.14 330.18,282.88 331.67,285.24 C333.16,287.6 334.65,289.71 336.15,291.95 C337.64,294.18 339.13,296.67 340.62,298.65 C342.11,300.64 343.6,302.51 345.09,303.87 C346.58,305.24 347.95,306.03 349.56,306.85 C351.18,307.67 353.91,308.47 354.78,308.79" fill="none" stroke="#000" stroke-width="1.15"/>
<line x1="283.69" y1="311" x2="283.69" y2="309" stroke="#111" stroke-width="0.8"/>
<line x1="288.66" y1="311" x2="288.66" y2="309" stroke="#111" stroke-width="0.8"/>
<line x1="293.63" y1="311" x2="293.63" y2="309" stroke="#111" stroke-width="0.8"/>
<line x1="298.61" y1="311" x2="298.61" y2="309" stroke="#111" stroke-width="0.8"/>
<line x1="303.58" y1="311" x2="303.58" y2="309" stroke="#111" stroke-width="0.8"/>
<line x1="308.55" y1="311" x2="308.55" y2="309" stroke="#111" stroke-width="0.8"/>
<line x1="313.53" y1="311" x2="313.53" y2="309" stroke="#111" stroke-width="0.8"/>
<line x1="318.5" y1="311" x2="318.5" y2="309" stroke="#111" stroke-width="0.8"/>
<line x1="323.47" y1="311" x2="323.47" y2="309" stroke="#111" stroke-width="0.8"/>
<line x1="328.45" y1="311" x2="328.45" y2="309" stroke="#111" stroke-width="0.8"/>
<line x1="333.42" y1="311" x2="333.42" y2="309" stroke="#111" stroke-width="0.8"/>
<line x1="338.39" y1="311" x2="338.39" y2="309" stroke="#111" stroke-width="0.8"/>
<line x1="343.37" y1="311" x2="343.37" y2="309" stroke="#111" stroke-width="0.8"/>
<line x1="348.34" y1="311" x2="348.34" y2="309" stroke="#111" stroke-width="0.8"/>
<line x1="353.31" y1="311" x2="353.31" y2="309" stroke="#111" stroke-width="0.8"/>
</g>
<text x="0" y="0" transform="translate(318.5,262.2) scale(1.09,1)" text-anchor="middle" font-size="16" font-family="Liberation Sans, Arial, Helvetica, sans-serif" fill="#111" stroke="#111" stroke-width="0.22">FY19.3</text>
<rect x="280.9" y="245.8" width="75.2" height="65.2" fill="none" stroke="#222" stroke-width="1.2"/>
<text x="0" y="0" transform="translate(404.3,284.7) scale(1.15,1)" text-anchor="middle" font-size="16.6" font-family="Liberation Sans, Arial, Helvetica, sans-serif" fill="#111" stroke="#111" stroke-width="0.22">0.87<tspan font-size="15.6" dy="-1.9" letter-spacing="1.0" dx="0.6" fill="#333" stroke="none">***</tspan></text>
<rect x="366.7" y="245.8" width="75.2" height="65.2" fill="none" stroke="#222" stroke-width="1.2"/>
<text x="0" y="0" transform="translate(490.1,284.7) scale(1.15,1)" text-anchor="middle" font-size="16.6" font-family="Liberation Sans, Arial, Helvetica, sans-serif" fill="#111" stroke="#111" stroke-width="0.22">0.87<tspan font-size="15.6" dy="-1.9" letter-spacing="1.0" dx="0.6" fill="#333" stroke="none">***</tspan></text>
<rect x="452.5" y="245.8" width="75.2" height="65.2" fill="none" stroke="#222" stroke-width="1.2"/>
<g clip-path="url(#c40)">
<ellipse cx="81.99" cy="322.91" rx="2.1" ry="1.9" fill="#858ca0" stroke="#111" stroke-width="1.15"/>
<ellipse cx="68.06" cy="326.09" rx="2.1" ry="1.9" fill="#858ca0" stroke="#111" stroke-width="1.15"/>
<ellipse cx="81.99" cy="326.09" rx="2.1" ry="1.9" fill="#858ca0" stroke="#111" stroke-width="1.15"/>
<ellipse cx="95.91" cy="326.09" rx="2.1" ry="1.9" fill="#858ca0" stroke="#111" stroke-width="1.15"/>
<ellipse cx="72.7" cy="329.27" rx="2.1" ry="1.9" fill="#858ca0" stroke="#111" stroke-width="1.15"/>
<ellipse cx="77.35" cy="329.27" rx="2.1" ry="1.9" fill="#858ca0" stroke="#111" stroke-width="1.15"/>
<ellipse cx="54.14" cy="332.45" rx="2.1" ry="1.9" fill="#858ca0" stroke="#111" stroke-width="1.15"/>
<ellipse cx="58.78" cy="332.45" rx="2.1" ry="1.9" fill="#858ca0" stroke="#111" stroke-width="1.15"/>
<ellipse cx="68.06" cy="332.45" rx="2.1" ry="1.9" fill="#858ca0" stroke="#111" stroke-width="1.15"/>
<ellipse cx="72.7" cy="332.45" rx="2.1" ry="1.9" fill="#858ca0" stroke="#111" stroke-width="1.15"/>
<ellipse cx="77.35" cy="332.45" rx="2.1" ry="1.9" fill="#858ca0" stroke="#111" stroke-width="1.15"/>
<ellipse cx="54.14" cy="335.62" rx="2.1" ry="1.9" fill="#858ca0" stroke="#111" stroke-width="1.15"/>
<ellipse cx="63.42" cy="335.62" rx="2.1" ry="1.9" fill="#858ca0" stroke="#111" stroke-width="1.15"/>
<ellipse cx="68.06" cy="335.62" rx="2.1" ry="1.9" fill="#858ca0" stroke="#111" stroke-width="1.15"/>
<ellipse cx="77.35" cy="335.62" rx="2.1" ry="1.9" fill="#858ca0" stroke="#111" stroke-width="1.15"/>
<ellipse cx="86.63" cy="335.62" rx="2.1" ry="1.9" fill="#858ca0" stroke="#111" stroke-width="1.15"/>
<ellipse cx="54.14" cy="338.8" rx="2.1" ry="1.9" fill="#858ca0" stroke="#111" stroke-width="1.15"/>
<ellipse cx="58.78" cy="338.8" rx="2.1" ry="1.9" fill="#858ca0" stroke="#111" stroke-width="1.15"/>
<ellipse cx="63.42" cy="338.8" rx="2.1" ry="1.9" fill="#858ca0" stroke="#111" stroke-width="1.15"/>
<ellipse cx="68.06" cy="338.8" rx="2.1" ry="1.9" fill="#858ca0" stroke="#111" stroke-width="1.15"/>
<ellipse cx="72.7" cy="338.8" rx="2.1" ry="1.9" fill="#858ca0" stroke="#111" stroke-width="1.15"/>
<ellipse cx="44.85" cy="341.98" rx="2.1" ry="1.9" fill="#858ca0" stroke="#111" stroke-width="1.15"/>
<ellipse cx="49.5" cy="341.98" rx="2.1" ry="1.9" fill="#858ca0" stroke="#111" stroke-width="1.15"/>
<ellipse cx="54.14" cy="341.98" rx="2.1" ry="1.9" fill="#858ca0" stroke="#111" stroke-width="1.15"/>
<ellipse cx="58.78" cy="341.98" rx="2.1" ry="1.9" fill="#858ca0" stroke="#111" stroke-width="1.15"/>
<ellipse cx="63.42" cy="341.98" rx="2.1" ry="1.9" fill="#858ca0" stroke="#111" stroke-width="1.15"/>
<ellipse cx="77.35" cy="341.98" rx="2.1" ry="1.9" fill="#858ca0" stroke="#111" stroke-width="1.15"/>
<ellipse cx="49.5" cy="345.16" rx="2.1" ry="1.9" fill="#858ca0" stroke="#111" stroke-width="1.15"/>
<ellipse cx="54.14" cy="345.16" rx="2.1" ry="1.9" fill="#858ca0" stroke="#111" stroke-width="1.15"/>
<ellipse cx="63.42" cy="345.16" rx="2.1" ry="1.9" fill="#858ca0" stroke="#111" stroke-width="1.15"/>
<ellipse cx="77.35" cy="345.16" rx="2.1" ry="1.9" fill="#858ca0" stroke="#111" stroke-width="1.15"/>
<ellipse cx="49.5" cy="348.33" rx="2.1" ry="1.9" fill="#858ca0" stroke="#111" stroke-width="1.15"/>
<ellipse cx="58.78" cy="348.33" rx="2.1" ry="1.9" fill="#858ca0" stroke="#111" stroke-width="1.15"/>
<ellipse cx="68.06" cy="348.33" rx="2.1" ry="1.9" fill="#858ca0" stroke="#111" stroke-width="1.15"/>
<ellipse cx="44.85" cy="351.51" rx="2.1" ry="1.9" fill="#858ca0" stroke="#111" stroke-width="1.15"/>
<ellipse cx="49.5" cy="351.51" rx="2.1" ry="1.9" fill="#858ca0" stroke="#111" stroke-width="1.15"/>
<ellipse cx="54.14" cy="351.51" rx="2.1" ry="1.9" fill="#858ca0" stroke="#111" stroke-width="1.15"/>
<ellipse cx="58.78" cy="351.51" rx="2.1" ry="1.9" fill="#858ca0" stroke="#111" stroke-width="1.15"/>
<ellipse cx="63.42" cy="351.51" rx="2.1" ry="1.9" fill="#858ca0" stroke="#111" stroke-width="1.15"/>
<ellipse cx="68.06" cy="351.51" rx="2.1" ry="1.9" fill="#858ca0" stroke="#111" stroke-width="1.15"/>
<ellipse cx="72.7" cy="351.51" rx="2.1" ry="1.9" fill="#858ca0" stroke="#111" stroke-width="1.15"/>
<ellipse cx="77.35" cy="351.51" rx="2.1" ry="1.9" fill="#858ca0" stroke="#111" stroke-width="1.15"/>
<ellipse cx="44.85" cy="354.69" rx="2.1" ry="1.9" fill="#858ca0" stroke="#111" stroke-width="1.15"/>
<ellipse cx="49.5" cy="354.69" rx="2.1" ry="1.9" fill="#858ca0" stroke="#111" stroke-width="1.15"/>
<ellipse cx="54.14" cy="354.69" rx="2.1" ry="1.9" fill="#858ca0" stroke="#111" stroke-width="1.15"/>
<ellipse cx="63.42" cy="354.69" rx="2.1" ry="1.9" fill="#858ca0" stroke="#111" stroke-width="1.15"/>
<ellipse cx="68.06" cy="354.69" rx="2.1" ry="1.9" fill="#858ca0" stroke="#111" stroke-width="1.15"/>
<ellipse cx="44.85" cy="357.87" rx="2.1" ry="1.9" fill="#858ca0" stroke="#111" stroke-width="1.15"/>
<ellipse cx="49.5" cy="357.87" rx="2.1" ry="1.9" fill="#858ca0" stroke="#111" stroke-width="1.15"/>
<ellipse cx="54.14" cy="357.87" rx="2.1" ry="1.9" fill="#858ca0" stroke="#111" stroke-width="1.15"/>
<ellipse cx="58.78" cy="357.87" rx="2.1" ry="1.9" fill="#858ca0" stroke="#111" stroke-width="1.15"/>
<ellipse cx="40.21" cy="361.04" rx="2.1" ry="1.9" fill="#858ca0" stroke="#111" stroke-width="1.15"/>
<ellipse cx="44.85" cy="361.04" rx="2.1" ry="1.9" fill="#858ca0" stroke="#111" stroke-width="1.15"/>
<ellipse cx="49.5" cy="361.04" rx="2.1" ry="1.9" fill="#858ca0" stroke="#111" stroke-width="1.15"/>
<ellipse cx="54.14" cy="361.04" rx="2.1" ry="1.9" fill="#858ca0" stroke="#111" stroke-width="1.15"/>
<ellipse cx="58.78" cy="361.04" rx="2.1" ry="1.9" fill="#858ca0" stroke="#111" stroke-width="1.15"/>
<ellipse cx="26.29" cy="364.22" rx="2.1" ry="1.9" fill="#858ca0" stroke="#111" stroke-width="1.15"/>
<ellipse cx="40.21" cy="364.22" rx="2.1" ry="1.9" fill="#858ca0" stroke="#111" stroke-width="1.15"/>
<ellipse cx="44.85" cy="364.22" rx="2.1" ry="1.9" fill="#858ca0" stroke="#111" stroke-width="1.15"/>
<ellipse cx="49.5" cy="364.22" rx="2.1" ry="1.9" fill="#858ca0" stroke="#111" stroke-width="1.15"/>
<ellipse cx="54.14" cy="364.22" rx="2.1" ry="1.9" fill="#858ca0" stroke="#111" stroke-width="1.15"/>
<ellipse cx="58.78" cy="364.22" rx="2.1" ry="1.9" fill="#858ca0" stroke="#111" stroke-width="1.15"/>
<ellipse cx="77.35" cy="364.22" rx="2.1" ry="1.9" fill="#858ca0" stroke="#111" stroke-width="1.15"/>
<ellipse cx="35.57" cy="367.4" rx="2.1" ry="1.9" fill="#858ca0" stroke="#111" stroke-width="1.15"/>
<ellipse cx="40.21" cy="367.4" rx="2.1" ry="1.9" fill="#858ca0" stroke="#111" stroke-width="1.15"/>
<ellipse cx="44.85" cy="367.4" rx="2.1" ry="1.9" fill="#858ca0" stroke="#111" stroke-width="1.15"/>
<ellipse cx="49.5" cy="367.4" rx="2.1" ry="1.9" fill="#858ca0" stroke="#111" stroke-width="1.15"/>
<ellipse cx="54.14" cy="367.4" rx="2.1" ry="1.9" fill="#858ca0" stroke="#111" stroke-width="1.15"/>
<ellipse cx="26.29" cy="370.58" rx="2.1" ry="1.9" fill="#858ca0" stroke="#111" stroke-width="1.15"/>
<ellipse cx="30.93" cy="370.58" rx="2.1" ry="1.9" fill="#858ca0" stroke="#111" stroke-width="1.15"/>
<ellipse cx="35.57" cy="370.58" rx="2.1" ry="1.9" fill="#858ca0" stroke="#111" stroke-width="1.15"/>
<ellipse cx="40.21" cy="370.58" rx="2.1" ry="1.9" fill="#858ca0" stroke="#111" stroke-width="1.15"/>
<ellipse cx="44.85" cy="370.58" rx="2.1" ry="1.9" fill="#858ca0" stroke="#111" stroke-width="1.15"/>
<ellipse cx="54.14" cy="370.58" rx="2.1" ry="1.9" fill="#858ca0" stroke="#111" stroke-width="1.15"/>
<ellipse cx="35.57" cy="373.75" rx="2.1" ry="1.9" fill="#858ca0" stroke="#111" stroke-width="1.15"/>
<ellipse cx="40.21" cy="373.75" rx="2.1" ry="1.9" fill="#858ca0" stroke="#111" stroke-width="1.15"/>
<ellipse cx="44.85" cy="376.93" rx="2.1" ry="1.9" fill="#858ca0" stroke="#111" stroke-width="1.15"/>
<ellipse cx="54.14" cy="376.93" rx="2.1" ry="1.9" fill="#858ca0" stroke="#111" stroke-width="1.15"/>
<ellipse cx="26.29" cy="380.11" rx="2.1" ry="1.9" fill="#858ca0" stroke="#111" stroke-width="1.15"/>
<ellipse cx="30.93" cy="380.11" rx="2.1" ry="1.9" fill="#858ca0" stroke="#111" stroke-width="1.15"/>
<ellipse cx="44.85" cy="380.11" rx="2.1" ry="1.9" fill="#858ca0" stroke="#111" stroke-width="1.15"/>
<ellipse cx="30.93" cy="383.29" rx="2.1" ry="1.9" fill="#858ca0" stroke="#111" stroke-width="1.15"/>
<ellipse cx="40.21" cy="383.29" rx="2.1" ry="1.9" fill="#858ca0" stroke="#111" stroke-width="1.15"/>
<path d="M25.67,381.36 C27.7,379.38 32.87,374.41 37.89,369.44 C42.91,364.47 50.56,356.76 55.78,351.55 C61,346.33 64.73,341.73 69.2,338.13 C73.67,334.52 78.02,332.16 82.62,329.93 C87.22,327.69 94.42,325.58 96.78,324.71" fill="none" stroke="#bd2436" stroke-width="1.05"/>
<ellipse cx="55.8" cy="351.5" rx="3.6" ry="3.0" fill="#ff0000"/>
<polyline points="68.5,338.19 67.85,337.72 67.03,337.45 66.03,337.4 64.88,337.56 63.59,337.93 62.18,338.51 60.67,339.29 59.09,340.25 57.46,341.38 55.81,342.66 54.16,344.08 52.53,345.61 50.95,347.23 49.44,348.92 48.03,350.64 46.74,352.38 45.58,354.1 44.58,355.79 43.75,357.41 43.11,358.94 42.65,360.35 42.4,361.64 42.34,362.76 42.5,363.72 42.85,364.5 43.4,365.07 44.14,365.44 45.05,365.6 46.13,365.55 47.35,365.28 48.7,364.8 50.16,364.12 51.71,363.25 53.32,362.21 54.96,361 56.62,359.64 58.26,358.17 59.87,356.59 61.42,354.93 62.88,353.22 64.23,351.49 65.46,349.76 66.54,348.05 67.45,346.39 68.19,344.82 68.75,343.34 69.1,341.99 69.26,340.78 69.21,339.73 68.95,338.87 68.5,338.19" fill="none" stroke="#000" stroke-width="0.95"/>
</g>
<rect x="23.5" y="320.5" width="75.2" height="65.2" fill="none" stroke="#222" stroke-width="1.2"/>
<g clip-path="url(#c41)">
<ellipse cx="112.09" cy="373.75" rx="2.1" ry="1.9" fill="#858ca0" stroke="#111" stroke-width="1.15"/>
<ellipse cx="112.09" cy="380.11" rx="2.1" ry="1.9" fill="#858ca0" stroke="#111" stroke-width="1.15"/>
<ellipse cx="112.09" cy="383.29" rx="2.1" ry="1.9" fill="#858ca0" stroke="#111" stroke-width="1.15"/>
<ellipse cx="118.42" cy="341.98" rx="2.1" ry="1.9" fill="#858ca0" stroke="#111" stroke-width="1.15"/>
<ellipse cx="118.42" cy="364.22" rx="2.1" ry="1.9" fill="#858ca0" stroke="#111" stroke-width="1.15"/>
<ellipse cx="118.42" cy="367.4" rx="2.1" ry="1.9" fill="#858ca0" stroke="#111" stroke-width="1.15"/>
<ellipse cx="118.42" cy="370.58" rx="2.1" ry="1.9" fill="#858ca0" stroke="#111" stroke-width="1.15"/>
<ellipse cx="118.42" cy="373.75" rx="2.1" ry="1.9" fill="#858ca0" stroke="#111" stroke-width="1.15"/>
<ellipse cx="118.42" cy="383.29" rx="2.1" ry="1.9" fill="#858ca0" stroke="#111" stroke-width="1.15"/>
<ellipse cx="124.75" cy="354.69" rx="2.1" ry="1.9" fill="#858ca0" stroke="#111" stroke-width="1.15"/>
<ellipse cx="124.75" cy="351.51" rx="2.1" ry="1.9" fill="#858ca0" stroke="#111" stroke-width="1.15"/>
<ellipse cx="124.75" cy="348.33" rx="2.1" ry="1.9" fill="#858ca0" stroke="#111" stroke-width="1.15"/>
<ellipse cx="124.75" cy="345.16" rx="2.1" ry="1.9" fill="#858ca0" stroke="#111" stroke-width="1.15"/>
<ellipse cx="124.75" cy="376.93" rx="2.1" ry="1.9" fill="#858ca0" stroke="#111" stroke-width="1.15"/>
<ellipse cx="124.75" cy="373.75" rx="2.1" ry="1.9" fill="#858ca0" stroke="#111" stroke-width="1.15"/>
<ellipse cx="124.75" cy="370.58" rx="2.1" ry="1.9" fill="#858ca0" stroke="#111" stroke-width="1.15"/>
<ellipse cx="124.75" cy="367.4" rx="2.1" ry="1.9" fill="#858ca0" stroke="#111" stroke-width="1.15"/>
<ellipse cx="124.75" cy="364.22" rx="2.1" ry="1.9" fill="#858ca0" stroke="#111" stroke-width="1.15"/>
<ellipse cx="124.75" cy="361.04" rx="2.1" ry="1.9" fill="#858ca0" stroke="#111" stroke-width="1.15"/>
<ellipse cx="131.08" cy="367.4" rx="2.1" ry="1.9" fill="#858ca0" stroke="#111" stroke-width="1.15"/>
<ellipse cx="131.08" cy="364.22" rx="2.1" ry="1.9" fill="#858ca0" stroke="#111" stroke-width="1.15"/>
<ellipse cx="131.08" cy="361.04" rx="2.1" ry="1.9" fill="#858ca0" stroke="#111" stroke-width="1.15"/>
<ellipse cx="131.08" cy="357.87" rx="2.1" ry="1.9" fill="#858ca0" stroke="#111" stroke-width="1.15"/>
<ellipse cx="131.08" cy="354.69" rx="2.1" ry="1.9" fill="#858ca0" stroke="#111" stroke-width="1.15"/>
<ellipse cx="131.08" cy="351.51" rx="2.1" ry="1.9" fill="#858ca0" stroke="#111" stroke-width="1.15"/>
<ellipse cx="131.08" cy="348.33" rx="2.1" ry="1.9" fill="#858ca0" stroke="#111" stroke-width="1.15"/>
<ellipse cx="131.08" cy="345.16" rx="2.1" ry="1.9" fill="#858ca0" stroke="#111" stroke-width="1.15"/>
<ellipse cx="131.08" cy="341.98" rx="2.1" ry="1.9" fill="#858ca0" stroke="#111" stroke-width="1.15"/>
<ellipse cx="137.41" cy="357.87" rx="2.1" ry="1.9" fill="#858ca0" stroke="#111" stroke-width="1.15"/>
<ellipse cx="137.41" cy="354.69" rx="2.1" ry="1.9" fill="#858ca0" stroke="#111" stroke-width="1.15"/>
<ellipse cx="137.41" cy="351.51" rx="2.1" ry="1.9" fill="#858ca0" stroke="#111" stroke-width="1.15"/>
<ellipse cx="137.41" cy="348.33" rx="2.1" ry="1.9" fill="#858ca0" stroke="#111" stroke-width="1.15"/>
<ellipse cx="137.41" cy="345.16" rx="2.1" ry="1.9" fill="#858ca0" stroke="#111" stroke-width="1.15"/>
<ellipse cx="137.41" cy="341.98" rx="2.1" ry="1.9" fill="#858ca0" stroke="#111" stroke-width="1.15"/>
<ellipse cx="137.41" cy="338.8" rx="2.1" ry="1.9" fill="#858ca0" stroke="#111" stroke-width="1.15"/>
<ellipse cx="137.41" cy="361.04" rx="2.1" ry="1.9" fill="#858ca0" stroke="#111" stroke-width="1.15"/>
<ellipse cx="137.41" cy="367.4" rx="2.1" ry="1.9" fill="#858ca0" stroke="#111" stroke-width="1.15"/>
<ellipse cx="137.41" cy="376.93" rx="2.1" ry="1.9" fill="#858ca0" stroke="#111" stroke-width="1.15"/>
<ellipse cx="143.74" cy="338.8" rx="2.1" ry="1.9" fill="#858ca0" stroke="#111" stroke-width="1.15"/>
<ellipse cx="143.74" cy="341.98" rx="2.1" ry="1.9" fill="#858ca0" stroke="#111" stroke-width="1.15"/>
<ellipse cx="143.74" cy="345.16" rx="2.1" ry="1.9" fill="#858ca0" stroke="#111" stroke-width="1.15"/>
<ellipse cx="143.74" cy="351.51" rx="2.1" ry="1.9" fill="#858ca0" stroke="#111" stroke-width="1.15"/>
<ellipse cx="143.74" cy="361.04" rx="2.1" ry="1.9" fill="#858ca0" stroke="#111" stroke-width="1.15"/>
<ellipse cx="143.74" cy="364.22" rx="2.1" ry="1.9" fill="#858ca0" stroke="#111" stroke-width="1.15"/>
<ellipse cx="150.06" cy="351.51" rx="2.1" ry="1.9" fill="#858ca0" stroke="#111" stroke-width="1.15"/>
<ellipse cx="150.06" cy="348.33" rx="2.1" ry="1.9" fill="#858ca0" stroke="#111" stroke-width="1.15"/>
<ellipse cx="150.06" cy="345.16" rx="2.1" ry="1.9" fill="#858ca0" stroke="#111" stroke-width="1.15"/>
<ellipse cx="150.06" cy="341.98" rx="2.1" ry="1.9" fill="#858ca0" stroke="#111" stroke-width="1.15"/>
<ellipse cx="150.06" cy="338.8" rx="2.1" ry="1.9" fill="#858ca0" stroke="#111" stroke-width="1.15"/>
<ellipse cx="150.06" cy="335.62" rx="2.1" ry="1.9" fill="#858ca0" stroke="#111" stroke-width="1.15"/>
<ellipse cx="150.06" cy="357.87" rx="2.1" ry="1.9" fill="#858ca0" stroke="#111" stroke-width="1.15"/>
<ellipse cx="150.06" cy="361.04" rx="2.1" ry="1.9" fill="#858ca0" stroke="#111" stroke-width="1.15"/>
<ellipse cx="156.39" cy="345.16" rx="2.1" ry="1.9" fill="#858ca0" stroke="#111" stroke-width="1.15"/>
<ellipse cx="156.39" cy="341.98" rx="2.1" ry="1.9" fill="#858ca0" stroke="#111" stroke-width="1.15"/>
<ellipse cx="156.39" cy="338.8" rx="2.1" ry="1.9" fill="#858ca0" stroke="#111" stroke-width="1.15"/>
<ellipse cx="156.39" cy="335.62" rx="2.1" ry="1.9" fill="#858ca0" stroke="#111" stroke-width="1.15"/>
<ellipse cx="156.39" cy="332.45" rx="2.1" ry="1.9" fill="#858ca0" stroke="#111" stroke-width="1.15"/>
<ellipse cx="162.72" cy="326.09" rx="2.1" ry="1.9" fill="#858ca0" stroke="#111" stroke-width="1.15"/>
<ellipse cx="162.72" cy="332.45" rx="2.1" ry="1.9" fill="#858ca0" stroke="#111" stroke-width="1.15"/>
<ellipse cx="162.72" cy="335.62" rx="2.1" ry="1.9" fill="#858ca0" stroke="#111" stroke-width="1.15"/>
<ellipse cx="162.72" cy="338.8" rx="2.1" ry="1.9" fill="#858ca0" stroke="#111" stroke-width="1.15"/>
<ellipse cx="162.72" cy="341.98" rx="2.1" ry="1.9" fill="#858ca0" stroke="#111" stroke-width="1.15"/>
<ellipse cx="162.72" cy="364.22" rx="2.1" ry="1.9" fill="#858ca0" stroke="#111" stroke-width="1.15"/>
<ellipse cx="169.05" cy="322.91" rx="2.1" ry="1.9" fill="#858ca0" stroke="#111" stroke-width="1.15"/>
<ellipse cx="169.05" cy="326.09" rx="2.1" ry="1.9" fill="#858ca0" stroke="#111" stroke-width="1.15"/>
<ellipse cx="169.05" cy="332.45" rx="2.1" ry="1.9" fill="#858ca0" stroke="#111" stroke-width="1.15"/>
<ellipse cx="169.05" cy="338.8" rx="2.1" ry="1.9" fill="#858ca0" stroke="#111" stroke-width="1.15"/>
<ellipse cx="175.38" cy="329.27" rx="2.1" ry="1.9" fill="#858ca0" stroke="#111" stroke-width="1.15"/>
<ellipse cx="175.38" cy="332.45" rx="2.1" ry="1.9" fill="#858ca0" stroke="#111" stroke-width="1.15"/>
<ellipse cx="181.71" cy="326.09" rx="2.1" ry="1.9" fill="#858ca0" stroke="#111" stroke-width="1.15"/>
<ellipse cx="181.71" cy="332.45" rx="2.1" ry="1.9" fill="#858ca0" stroke="#111" stroke-width="1.15"/>
<path d="M111.22,376.89 C113.33,375.03 119.05,369.93 123.89,365.71 C128.74,361.48 135.07,355.89 140.29,351.55 C145.51,347.2 150.48,342.85 155.2,339.62 C159.92,336.39 164.02,334.52 168.62,332.16 C173.22,329.8 180.42,326.57 182.78,325.45" fill="none" stroke="#bd2436" stroke-width="1.05"/>
<ellipse cx="140" cy="351.5" rx="3.6" ry="3.0" fill="#ff0000"/>
<polyline points="155.48,337.97 154.8,337.58 153.9,337.4 152.79,337.44 151.48,337.69 150,338.15 148.37,338.81 146.61,339.67 144.75,340.7 142.81,341.9 140.84,343.24 138.85,344.71 136.88,346.28 134.96,347.93 133.11,349.63 131.37,351.37 129.76,353.1 128.31,354.81 127.03,356.47 125.94,358.06 125.08,359.54 124.43,360.9 124.03,362.13 123.86,363.19 123.94,364.07 124.27,364.76 124.83,365.25 125.62,365.53 126.63,365.6 127.84,365.46 129.24,365.11 130.8,364.54 132.5,363.78 134.31,362.84 136.21,361.72 138.17,360.45 140.15,359.04 142.14,357.52 144.09,355.91 145.97,354.22 147.77,352.5 149.45,350.77 150.99,349.04 152.36,347.35 153.54,345.73 154.52,344.19 155.27,342.76 155.8,341.47 156.09,340.32 156.13,339.35 155.93,338.56 155.48,337.97" fill="none" stroke="#000" stroke-width="0.95"/>
</g>
<rect x="109.3" y="320.5" width="75.2" height="65.2" fill="none" stroke="#222" stroke-width="1.2"/>
<g clip-path="url(#c42)">
<ellipse cx="252.59" cy="322.91" rx="2.1" ry="1.9" fill="#858ca0" stroke="#111" stroke-width="1.15"/>
<ellipse cx="242.65" cy="326.09" rx="2.1" ry="1.9" fill="#858ca0" stroke="#111" stroke-width="1.15"/>
<ellipse cx="257.57" cy="326.09" rx="2.1" ry="1.9" fill="#858ca0" stroke="#111" stroke-width="1.15"/>
<ellipse cx="262.54" cy="326.09" rx="2.1" ry="1.9" fill="#858ca0" stroke="#111" stroke-width="1.15"/>
<ellipse cx="267.51" cy="326.09" rx="2.1" ry="1.9" fill="#858ca0" stroke="#111" stroke-width="1.15"/>
<ellipse cx="252.59" cy="329.27" rx="2.1" ry="1.9" fill="#858ca0" stroke="#111" stroke-width="1.15"/>
<ellipse cx="257.57" cy="329.27" rx="2.1" ry="1.9" fill="#858ca0" stroke="#111" stroke-width="1.15"/>
<ellipse cx="237.67" cy="332.45" rx="2.1" ry="1.9" fill="#858ca0" stroke="#111" stroke-width="1.15"/>
<ellipse cx="247.62" cy="332.45" rx="2.1" ry="1.9" fill="#858ca0" stroke="#111" stroke-width="1.15"/>
<ellipse cx="252.59" cy="332.45" rx="2.1" ry="1.9" fill="#858ca0" stroke="#111" stroke-width="1.15"/>
<ellipse cx="257.57" cy="332.45" rx="2.1" ry="1.9" fill="#858ca0" stroke="#111" stroke-width="1.15"/>
<ellipse cx="232.7" cy="335.62" rx="2.1" ry="1.9" fill="#858ca0" stroke="#111" stroke-width="1.15"/>
<ellipse cx="237.67" cy="335.62" rx="2.1" ry="1.9" fill="#858ca0" stroke="#111" stroke-width="1.15"/>
<ellipse cx="242.65" cy="335.62" rx="2.1" ry="1.9" fill="#858ca0" stroke="#111" stroke-width="1.15"/>
<ellipse cx="247.62" cy="335.62" rx="2.1" ry="1.9" fill="#858ca0" stroke="#111" stroke-width="1.15"/>
<ellipse cx="257.57" cy="335.62" rx="2.1" ry="1.9" fill="#858ca0" stroke="#111" stroke-width="1.15"/>
<ellipse cx="227.73" cy="338.8" rx="2.1" ry="1.9" fill="#858ca0" stroke="#111" stroke-width="1.15"/>
<ellipse cx="232.7" cy="338.8" rx="2.1" ry="1.9" fill="#858ca0" stroke="#111" stroke-width="1.15"/>
<ellipse cx="237.67" cy="338.8" rx="2.1" ry="1.9" fill="#858ca0" stroke="#111" stroke-width="1.15"/>
<ellipse cx="242.65" cy="338.8" rx="2.1" ry="1.9" fill="#858ca0" stroke="#111" stroke-width="1.15"/>
<ellipse cx="247.62" cy="338.8" rx="2.1" ry="1.9" fill="#858ca0" stroke="#111" stroke-width="1.15"/>
<ellipse cx="252.59" cy="338.8" rx="2.1" ry="1.9" fill="#858ca0" stroke="#111" stroke-width="1.15"/>
<ellipse cx="257.57" cy="338.8" rx="2.1" ry="1.9" fill="#858ca0" stroke="#111" stroke-width="1.15"/>
<ellipse cx="222.75" cy="341.98" rx="2.1" ry="1.9" fill="#858ca0" stroke="#111" stroke-width="1.15"/>
<ellipse cx="227.73" cy="341.98" rx="2.1" ry="1.9" fill="#858ca0" stroke="#111" stroke-width="1.15"/>
<ellipse cx="232.7" cy="341.98" rx="2.1" ry="1.9" fill="#858ca0" stroke="#111" stroke-width="1.15"/>
<ellipse cx="237.67" cy="341.98" rx="2.1" ry="1.9" fill="#858ca0" stroke="#111" stroke-width="1.15"/>
<ellipse cx="247.62" cy="341.98" rx="2.1" ry="1.9" fill="#858ca0" stroke="#111" stroke-width="1.15"/>
<ellipse cx="257.57" cy="341.98" rx="2.1" ry="1.9" fill="#858ca0" stroke="#111" stroke-width="1.15"/>
<ellipse cx="222.75" cy="345.16" rx="2.1" ry="1.9" fill="#858ca0" stroke="#111" stroke-width="1.15"/>
<ellipse cx="227.73" cy="345.16" rx="2.1" ry="1.9" fill="#858ca0" stroke="#111" stroke-width="1.15"/>
<ellipse cx="232.7" cy="345.16" rx="2.1" ry="1.9" fill="#858ca0" stroke="#111" stroke-width="1.15"/>
<ellipse cx="237.67" cy="345.16" rx="2.1" ry="1.9" fill="#858ca0" stroke="#111" stroke-width="1.15"/>
<ellipse cx="242.65" cy="345.16" rx="2.1" ry="1.9" fill="#858ca0" stroke="#111" stroke-width="1.15"/>
<ellipse cx="247.62" cy="345.16" rx="2.1" ry="1.9" fill="#858ca0" stroke="#111" stroke-width="1.15"/>
<ellipse cx="227.73" cy="348.33" rx="2.1" ry="1.9" fill="#858ca0" stroke="#111" stroke-width="1.15"/>
<ellipse cx="237.67" cy="348.33" rx="2.1" ry="1.9" fill="#858ca0" stroke="#111" stroke-width="1.15"/>
<ellipse cx="212.81" cy="351.51" rx="2.1" ry="1.9" fill="#858ca0" stroke="#111" stroke-width="1.15"/>
<ellipse cx="222.75" cy="351.51" rx="2.1" ry="1.9" fill="#858ca0" stroke="#111" stroke-width="1.15"/>
<ellipse cx="227.73" cy="351.51" rx="2.1" ry="1.9" fill="#858ca0" stroke="#111" stroke-width="1.15"/>
<ellipse cx="232.7" cy="351.51" rx="2.1" ry="1.9" fill="#858ca0" stroke="#111" stroke-width="1.15"/>
<ellipse cx="237.67" cy="351.51" rx="2.1" ry="1.9" fill="#858ca0" stroke="#111" stroke-width="1.15"/>
<ellipse cx="217.78" cy="354.69" rx="2.1" ry="1.9" fill="#858ca0" stroke="#111" stroke-width="1.15"/>
<ellipse cx="222.75" cy="354.69" rx="2.1" ry="1.9" fill="#858ca0" stroke="#111" stroke-width="1.15"/>
<ellipse cx="227.73" cy="354.69" rx="2.1" ry="1.9" fill="#858ca0" stroke="#111" stroke-width="1.15"/>
<ellipse cx="222.75" cy="357.87" rx="2.1" ry="1.9" fill="#858ca0" stroke="#111" stroke-width="1.15"/>
<ellipse cx="227.73" cy="357.87" rx="2.1" ry="1.9" fill="#858ca0" stroke="#111" stroke-width="1.15"/>
<ellipse cx="232.7" cy="357.87" rx="2.1" ry="1.9" fill="#858ca0" stroke="#111" stroke-width="1.15"/>
<ellipse cx="217.78" cy="361.04" rx="2.1" ry="1.9" fill="#858ca0" stroke="#111" stroke-width="1.15"/>
<ellipse cx="222.75" cy="361.04" rx="2.1" ry="1.9" fill="#858ca0" stroke="#111" stroke-width="1.15"/>
<ellipse cx="227.73" cy="361.04" rx="2.1" ry="1.9" fill="#858ca0" stroke="#111" stroke-width="1.15"/>
<ellipse cx="232.7" cy="361.04" rx="2.1" ry="1.9" fill="#858ca0" stroke="#111" stroke-width="1.15"/>
<ellipse cx="237.67" cy="361.04" rx="2.1" ry="1.9" fill="#858ca0" stroke="#111" stroke-width="1.15"/>
<ellipse cx="242.65" cy="361.04" rx="2.1" ry="1.9" fill="#858ca0" stroke="#111" stroke-width="1.15"/>
<ellipse cx="207.83" cy="364.22" rx="2.1" ry="1.9" fill="#858ca0" stroke="#111" stroke-width="1.15"/>
<ellipse cx="212.81" cy="364.22" rx="2.1" ry="1.9" fill="#858ca0" stroke="#111" stroke-width="1.15"/>
<ellipse cx="217.78" cy="364.22" rx="2.1" ry="1.9" fill="#858ca0" stroke="#111" stroke-width="1.15"/>
<ellipse cx="222.75" cy="364.22" rx="2.1" ry="1.9" fill="#858ca0" stroke="#111" stroke-width="1.15"/>
<ellipse cx="227.73" cy="364.22" rx="2.1" ry="1.9" fill="#858ca0" stroke="#111" stroke-width="1.15"/>
<ellipse cx="232.7" cy="364.22" rx="2.1" ry="1.9" fill="#858ca0" stroke="#111" stroke-width="1.15"/>
<ellipse cx="252.59" cy="364.22" rx="2.1" ry="1.9" fill="#858ca0" stroke="#111" stroke-width="1.15"/>
<ellipse cx="212.81" cy="367.4" rx="2.1" ry="1.9" fill="#858ca0" stroke="#111" stroke-width="1.15"/>
<ellipse cx="227.73" cy="367.4" rx="2.1" ry="1.9" fill="#858ca0" stroke="#111" stroke-width="1.15"/>
<ellipse cx="232.7" cy="367.4" rx="2.1" ry="1.9" fill="#858ca0" stroke="#111" stroke-width="1.15"/>
<ellipse cx="207.83" cy="370.58" rx="2.1" ry="1.9" fill="#858ca0" stroke="#111" stroke-width="1.15"/>
<ellipse cx="212.81" cy="370.58" rx="2.1" ry="1.9" fill="#858ca0" stroke="#111" stroke-width="1.15"/>
<ellipse cx="217.78" cy="370.58" rx="2.1" ry="1.9" fill="#858ca0" stroke="#111" stroke-width="1.15"/>
<ellipse cx="197.89" cy="373.75" rx="2.1" ry="1.9" fill="#858ca0" stroke="#111" stroke-width="1.15"/>
<ellipse cx="207.83" cy="373.75" rx="2.1" ry="1.9" fill="#858ca0" stroke="#111" stroke-width="1.15"/>
<ellipse cx="212.81" cy="373.75" rx="2.1" ry="1.9" fill="#858ca0" stroke="#111" stroke-width="1.15"/>
<ellipse cx="217.78" cy="373.75" rx="2.1" ry="1.9" fill="#858ca0" stroke="#111" stroke-width="1.15"/>
<ellipse cx="222.75" cy="376.93" rx="2.1" ry="1.9" fill="#858ca0" stroke="#111" stroke-width="1.15"/>
<ellipse cx="232.7" cy="376.93" rx="2.1" ry="1.9" fill="#858ca0" stroke="#111" stroke-width="1.15"/>
<ellipse cx="202.86" cy="380.11" rx="2.1" ry="1.9" fill="#858ca0" stroke="#111" stroke-width="1.15"/>
<ellipse cx="207.83" cy="380.11" rx="2.1" ry="1.9" fill="#858ca0" stroke="#111" stroke-width="1.15"/>
<ellipse cx="207.83" cy="383.29" rx="2.1" ry="1.9" fill="#858ca0" stroke="#111" stroke-width="1.15"/>
<ellipse cx="212.81" cy="383.29" rx="2.1" ry="1.9" fill="#858ca0" stroke="#111" stroke-width="1.15"/>
<path d="M197.22,383.6 C199.33,381.36 205.79,374.28 209.89,370.18 C213.99,366.08 218.22,362.11 221.82,359 C225.42,355.89 228.28,354.28 231.51,351.55 C234.74,348.81 237.35,345.71 241.2,342.6 C245.05,339.49 250.15,335.77 254.62,332.91 C259.09,330.05 265.8,326.7 268.04,325.45" fill="none" stroke="#bd2436" stroke-width="1.05"/>
<ellipse cx="231.1" cy="351.5" rx="3.6" ry="3.0" fill="#ff0000"/>
<polyline points="244.61,338.01 244,337.6 243.2,337.41 242.21,337.43 241.06,337.67 239.75,338.11 238.31,338.76 236.76,339.6 235.13,340.62 233.44,341.8 231.71,343.14 229.97,344.6 228.25,346.16 226.57,347.8 224.96,349.51 223.44,351.24 222.04,352.97 220.78,354.69 219.67,356.35 218.74,357.94 217.99,359.43 217.44,360.81 217.1,362.04 216.98,363.11 217.06,364.01 217.36,364.72 217.87,365.22 218.58,365.52 219.47,365.61 220.55,365.48 221.78,365.14 223.16,364.59 224.65,363.85 226.24,362.91 227.91,361.81 229.63,360.55 231.36,359.15 233.1,357.63 234.8,356.03 236.45,354.35 238.01,352.63 239.47,350.89 240.81,349.17 242,347.47 243.02,345.84 243.86,344.3 244.51,342.86 244.95,341.56 245.19,340.4 245.21,339.42 245.01,338.61 244.61,338.01" fill="none" stroke="#000" stroke-width="0.95"/>
</g>
<rect x="195.1" y="320.5" width="75.2" height="65.2" fill="none" stroke="#222" stroke-width="1.2"/>
<g clip-path="url(#c43)">
<ellipse cx="348.34" cy="322.91" rx="2.1" ry="1.9" fill="#858ca0" stroke="#111" stroke-width="1.15"/>
<ellipse cx="338.39" cy="326.09" rx="2.1" ry="1.9" fill="#858ca0" stroke="#111" stroke-width="1.15"/>
<ellipse cx="348.34" cy="326.09" rx="2.1" ry="1.9" fill="#858ca0" stroke="#111" stroke-width="1.15"/>
<ellipse cx="353.31" cy="326.09" rx="2.1" ry="1.9" fill="#858ca0" stroke="#111" stroke-width="1.15"/>
<ellipse cx="343.37" cy="329.27" rx="2.1" ry="1.9" fill="#858ca0" stroke="#111" stroke-width="1.15"/>
<ellipse cx="348.34" cy="329.27" rx="2.1" ry="1.9" fill="#858ca0" stroke="#111" stroke-width="1.15"/>
<ellipse cx="338.39" cy="332.45" rx="2.1" ry="1.9" fill="#858ca0" stroke="#111" stroke-width="1.15"/>
<ellipse cx="343.37" cy="332.45" rx="2.1" ry="1.9" fill="#858ca0" stroke="#111" stroke-width="1.15"/>
<ellipse cx="348.34" cy="332.45" rx="2.1" ry="1.9" fill="#858ca0" stroke="#111" stroke-width="1.15"/>
<ellipse cx="323.47" cy="335.62" rx="2.1" ry="1.9" fill="#858ca0" stroke="#111" stroke-width="1.15"/>
<ellipse cx="328.45" cy="335.62" rx="2.1" ry="1.9" fill="#858ca0" stroke="#111" stroke-width="1.15"/>
<ellipse cx="333.42" cy="335.62" rx="2.1" ry="1.9" fill="#858ca0" stroke="#111" stroke-width="1.15"/>
<ellipse cx="338.39" cy="335.62" rx="2.1" ry="1.9" fill="#858ca0" stroke="#111" stroke-width="1.15"/>
<ellipse cx="318.5" cy="338.8" rx="2.1" ry="1.9" fill="#858ca0" stroke="#111" stroke-width="1.15"/>
<ellipse cx="323.47" cy="338.8" rx="2.1" ry="1.9" fill="#858ca0" stroke="#111" stroke-width="1.15"/>
<ellipse cx="328.45" cy="338.8" rx="2.1" ry="1.9" fill="#858ca0" stroke="#111" stroke-width="1.15"/>
<ellipse cx="333.42" cy="338.8" rx="2.1" ry="1.9" fill="#858ca0" stroke="#111" stroke-width="1.15"/>
<ellipse cx="338.39" cy="338.8" rx="2.1" ry="1.9" fill="#858ca0" stroke="#111" stroke-width="1.15"/>
<ellipse cx="343.37" cy="338.8" rx="2.1" ry="1.9" fill="#858ca0" stroke="#111" stroke-width="1.15"/>
<ellipse cx="313.53" cy="341.98" rx="2.1" ry="1.9" fill="#858ca0" stroke="#111" stroke-width="1.15"/>
<ellipse cx="318.5" cy="341.98" rx="2.1" ry="1.9" fill="#858ca0" stroke="#111" stroke-width="1.15"/>
<ellipse cx="323.47" cy="341.98" rx="2.1" ry="1.9" fill="#858ca0" stroke="#111" stroke-width="1.15"/>
<ellipse cx="328.45" cy="341.98" rx="2.1" ry="1.9" fill="#858ca0" stroke="#111" stroke-width="1.15"/>
<ellipse cx="333.42" cy="341.98" rx="2.1" ry="1.9" fill="#858ca0" stroke="#111" stroke-width="1.15"/>
<ellipse cx="308.55" cy="345.16" rx="2.1" ry="1.9" fill="#858ca0" stroke="#111" stroke-width="1.15"/>
<ellipse cx="313.53" cy="345.16" rx="2.1" ry="1.9" fill="#858ca0" stroke="#111" stroke-width="1.15"/>
<ellipse cx="318.5" cy="345.16" rx="2.1" ry="1.9" fill="#858ca0" stroke="#111" stroke-width="1.15"/>
<ellipse cx="328.45" cy="345.16" rx="2.1" ry="1.9" fill="#858ca0" stroke="#111" stroke-width="1.15"/>
<ellipse cx="318.5" cy="348.33" rx="2.1" ry="1.9" fill="#858ca0" stroke="#111" stroke-width="1.15"/>
<ellipse cx="323.47" cy="348.33" rx="2.1" ry="1.9" fill="#858ca0" stroke="#111" stroke-width="1.15"/>
<ellipse cx="308.55" cy="351.51" rx="2.1" ry="1.9" fill="#858ca0" stroke="#111" stroke-width="1.15"/>
<ellipse cx="313.53" cy="351.51" rx="2.1" ry="1.9" fill="#858ca0" stroke="#111" stroke-width="1.15"/>
<ellipse cx="318.5" cy="351.51" rx="2.1" ry="1.9" fill="#858ca0" stroke="#111" stroke-width="1.15"/>
<ellipse cx="323.47" cy="351.51" rx="2.1" ry="1.9" fill="#858ca0" stroke="#111" stroke-width="1.15"/>
<ellipse cx="328.45" cy="351.51" rx="2.1" ry="1.9" fill="#858ca0" stroke="#111" stroke-width="1.15"/>
<ellipse cx="308.55" cy="354.69" rx="2.1" ry="1.9" fill="#858ca0" stroke="#111" stroke-width="1.15"/>
<ellipse cx="313.53" cy="354.69" rx="2.1" ry="1.9" fill="#858ca0" stroke="#111" stroke-width="1.15"/>
<ellipse cx="318.5" cy="354.69" rx="2.1" ry="1.9" fill="#858ca0" stroke="#111" stroke-width="1.15"/>
<ellipse cx="323.47" cy="354.69" rx="2.1" ry="1.9" fill="#858ca0" stroke="#111" stroke-width="1.15"/>
<ellipse cx="328.45" cy="354.69" rx="2.1" ry="1.9" fill="#858ca0" stroke="#111" stroke-width="1.15"/>
<ellipse cx="313.53" cy="357.87" rx="2.1" ry="1.9" fill="#858ca0" stroke="#111" stroke-width="1.15"/>
<ellipse cx="318.5" cy="357.87" rx="2.1" ry="1.9" fill="#858ca0" stroke="#111" stroke-width="1.15"/>
<ellipse cx="323.47" cy="357.87" rx="2.1" ry="1.9" fill="#858ca0" stroke="#111" stroke-width="1.15"/>
<ellipse cx="308.55" cy="361.04" rx="2.1" ry="1.9" fill="#858ca0" stroke="#111" stroke-width="1.15"/>
<ellipse cx="313.53" cy="361.04" rx="2.1" ry="1.9" fill="#858ca0" stroke="#111" stroke-width="1.15"/>
<ellipse cx="318.5" cy="361.04" rx="2.1" ry="1.9" fill="#858ca0" stroke="#111" stroke-width="1.15"/>
<ellipse cx="298.61" cy="364.22" rx="2.1" ry="1.9" fill="#858ca0" stroke="#111" stroke-width="1.15"/>
<ellipse cx="303.58" cy="364.22" rx="2.1" ry="1.9" fill="#858ca0" stroke="#111" stroke-width="1.15"/>
<ellipse cx="308.55" cy="364.22" rx="2.1" ry="1.9" fill="#858ca0" stroke="#111" stroke-width="1.15"/>
<ellipse cx="313.53" cy="364.22" rx="2.1" ry="1.9" fill="#858ca0" stroke="#111" stroke-width="1.15"/>
<ellipse cx="318.5" cy="364.22" rx="2.1" ry="1.9" fill="#858ca0" stroke="#111" stroke-width="1.15"/>
<ellipse cx="303.58" cy="367.4" rx="2.1" ry="1.9" fill="#858ca0" stroke="#111" stroke-width="1.15"/>
<ellipse cx="308.55" cy="367.4" rx="2.1" ry="1.9" fill="#858ca0" stroke="#111" stroke-width="1.15"/>
<ellipse cx="323.47" cy="367.4" rx="2.1" ry="1.9" fill="#858ca0" stroke="#111" stroke-width="1.15"/>
<ellipse cx="283.69" cy="370.58" rx="2.1" ry="1.9" fill="#858ca0" stroke="#111" stroke-width="1.15"/>
<ellipse cx="288.66" cy="370.58" rx="2.1" ry="1.9" fill="#858ca0" stroke="#111" stroke-width="1.15"/>
<ellipse cx="293.63" cy="370.58" rx="2.1" ry="1.9" fill="#858ca0" stroke="#111" stroke-width="1.15"/>
<ellipse cx="298.61" cy="370.58" rx="2.1" ry="1.9" fill="#858ca0" stroke="#111" stroke-width="1.15"/>
<ellipse cx="303.58" cy="370.58" rx="2.1" ry="1.9" fill="#858ca0" stroke="#111" stroke-width="1.15"/>
<ellipse cx="308.55" cy="370.58" rx="2.1" ry="1.9" fill="#858ca0" stroke="#111" stroke-width="1.15"/>
<ellipse cx="313.53" cy="370.58" rx="2.1" ry="1.9" fill="#858ca0" stroke="#111" stroke-width="1.15"/>
<ellipse cx="293.63" cy="373.75" rx="2.1" ry="1.9" fill="#858ca0" stroke="#111" stroke-width="1.15"/>
<ellipse cx="298.61" cy="373.75" rx="2.1" ry="1.9" fill="#858ca0" stroke="#111" stroke-width="1.15"/>
<ellipse cx="303.58" cy="373.75" rx="2.1" ry="1.9" fill="#858ca0" stroke="#111" stroke-width="1.15"/>
<ellipse cx="308.55" cy="376.93" rx="2.1" ry="1.9" fill="#858ca0" stroke="#111" stroke-width="1.15"/>
<ellipse cx="318.5" cy="376.93" rx="2.1" ry="1.9" fill="#858ca0" stroke="#111" stroke-width="1.15"/>
<ellipse cx="293.63" cy="380.11" rx="2.1" ry="1.9" fill="#858ca0" stroke="#111" stroke-width="1.15"/>
<ellipse cx="298.61" cy="380.11" rx="2.1" ry="1.9" fill="#858ca0" stroke="#111" stroke-width="1.15"/>
<ellipse cx="293.63" cy="383.29" rx="2.1" ry="1.9" fill="#858ca0" stroke="#111" stroke-width="1.15"/>
<ellipse cx="298.61" cy="383.29" rx="2.1" ry="1.9" fill="#858ca0" stroke="#111" stroke-width="1.15"/>
<path d="M283.22,382.85 L354.04,324.71" fill="none" stroke="#bd2436" stroke-width="1.05"/>
<ellipse cx="319" cy="351.5" rx="3.6" ry="3.0" fill="#ff0000"/>
<polyline points="332.23,337.86 331.7,337.52 330.98,337.39 330.07,337.48 329,337.78 327.78,338.29 326.42,339 324.96,339.89 323.4,340.97 321.77,342.2 320.11,343.57 318.42,345.07 316.75,346.66 315.11,348.33 313.53,350.04 312.03,351.77 310.63,353.5 309.37,355.21 308.25,356.85 307.29,358.41 306.51,359.87 305.92,361.2 305.53,362.39 305.34,363.41 305.36,364.25 305.59,364.89 306.01,365.34 306.64,365.57 307.45,365.59 308.44,365.4 309.59,364.99 310.88,364.38 312.3,363.58 313.81,362.59 315.41,361.44 317.06,360.13 318.73,358.69 320.42,357.15 322.08,355.52 323.69,353.82 325.24,352.1 326.68,350.36 328.02,348.64 329.21,346.96 330.25,345.36 331.12,343.84 331.81,342.44 332.3,341.18 332.59,340.08 332.68,339.15 332.55,338.4 332.23,337.86" fill="none" stroke="#000" stroke-width="0.95"/>
</g>
<rect x="280.9" y="320.5" width="75.2" height="65.2" fill="none" stroke="#222" stroke-width="1.2"/>
<g clip-path="url(#c44)">
<rect x="369.49" y="377.4" width="7.33" height="8.3" fill="#05f5f0" stroke="#111" stroke-width="1"/>
<rect x="376.81" y="365.9" width="7.33" height="19.8" fill="#05f5f0" stroke="#111" stroke-width="1"/>
<rect x="384.14" y="351.6" width="7.33" height="34.1" fill="#05f5f0" stroke="#111" stroke-width="1"/>
<rect x="391.47" y="363.5" width="7.33" height="22.2" fill="#05f5f0" stroke="#111" stroke-width="1"/>
<rect x="398.8" y="359.9" width="7.33" height="25.8" fill="#05f5f0" stroke="#111" stroke-width="1"/>
<rect x="406.13" y="357.3" width="7.33" height="28.4" fill="#05f5f0" stroke="#111" stroke-width="1"/>
<rect x="413.46" y="342.6" width="7.33" height="43.1" fill="#05f5f0" stroke="#111" stroke-width="1"/>
<rect x="420.79" y="357.3" width="7.33" height="28.4" fill="#05f5f0" stroke="#111" stroke-width="1"/>
<rect x="428.12" y="378.1" width="7.33" height="7.6" fill="#05f5f0" stroke="#111" stroke-width="1"/>
<rect x="435.45" y="384.6" width="7.33" height="1.1" fill="#05f5f0" stroke="#111" stroke-width="1"/>
<path d="M366.98,381.85 C367.48,381.23 368.72,379.99 369.96,378.13 C371.21,376.26 372.95,373.16 374.44,370.67 C375.93,368.19 377.42,365.58 378.91,363.22 C380.4,360.86 381.89,358.45 383.38,356.51 C384.87,354.57 386.36,352.51 387.85,351.59 C389.35,350.67 390.84,350.92 392.33,350.99 C393.82,351.07 395.31,351.74 396.8,352.04 C398.29,352.33 399.78,353.03 401.27,352.78 C402.76,352.53 404.25,351.66 405.75,350.55 C407.24,349.43 408.73,347.39 410.22,346.07 C411.71,344.76 413.32,343.26 414.69,342.64 C416.06,342.02 417.3,342.02 418.42,342.35 C419.54,342.67 420.28,342.59 421.4,344.58 C422.52,346.57 424.01,350.92 425.13,354.27 C426.25,357.63 427.12,361.6 428.11,364.71 C429.1,367.82 429.97,370.67 431.09,372.91 C432.21,375.15 433.58,376.81 434.82,378.13 C436.06,379.44 437.43,380.19 438.55,380.81 C439.66,381.43 441.03,381.68 441.53,381.85" fill="none" stroke="#000" stroke-width="1.15"/>
<line x1="369.49" y1="385.7" x2="369.49" y2="383.7" stroke="#111" stroke-width="0.8"/>
<line x1="373.15" y1="385.7" x2="373.15" y2="383.7" stroke="#111" stroke-width="0.8"/>
<line x1="376.81" y1="385.7" x2="376.81" y2="383.7" stroke="#111" stroke-width="0.8"/>
<line x1="380.48" y1="385.7" x2="380.48" y2="383.7" stroke="#111" stroke-width="0.8"/>
<line x1="384.14" y1="385.7" x2="384.14" y2="383.7" stroke="#111" stroke-width="0.8"/>
<line x1="387.81" y1="385.7" x2="387.81" y2="383.7" stroke="#111" stroke-width="0.8"/>
<line x1="391.47" y1="385.7" x2="391.47" y2="383.7" stroke="#111" stroke-width="0.8"/>
<line x1="395.14" y1="385.7" x2="395.14" y2="383.7" stroke="#111" stroke-width="0.8"/>
<line x1="398.8" y1="385.7" x2="398.8" y2="383.7" stroke="#111" stroke-width="0.8"/>
<line x1="402.47" y1="385.7" x2="402.47" y2="383.7" stroke="#111" stroke-width="0.8"/>
<line x1="406.13" y1="385.7" x2="406.13" y2="383.7" stroke="#111" stroke-width="0.8"/>
<line x1="409.8" y1="385.7" x2="409.8" y2="383.7" stroke="#111" stroke-width="0.8"/>
<line x1="413.46" y1="385.7" x2="413.46" y2="383.7" stroke="#111" stroke-width="0.8"/>
<line x1="417.13" y1="385.7" x2="417.13" y2="383.7" stroke="#111" stroke-width="0.8"/>
<line x1="420.79" y1="385.7" x2="420.79" y2="383.7" stroke="#111" stroke-width="0.8"/>
<line x1="424.46" y1="385.7" x2="424.46" y2="383.7" stroke="#111" stroke-width="0.8"/>
<line x1="428.12" y1="385.7" x2="428.12" y2="383.7" stroke="#111" stroke-width="0.8"/>
<line x1="431.79" y1="385.7" x2="431.79" y2="383.7" stroke="#111" stroke-width="0.8"/>
<line x1="435.45" y1="385.7" x2="435.45" y2="383.7" stroke="#111" stroke-width="0.8"/>
<line x1="439.11" y1="385.7" x2="439.11" y2="383.7" stroke="#111" stroke-width="0.8"/>
</g>
<text x="0" y="0" transform="translate(404.3,336.9) scale(1.09,1)" text-anchor="middle" font-size="16" font-family="Liberation Sans, Arial, Helvetica, sans-serif" fill="#111" stroke="#111" stroke-width="0.22">FY20.1</text>
<rect x="366.7" y="320.5" width="75.2" height="65.2" fill="none" stroke="#222" stroke-width="1.2"/>
<text x="0" y="0" transform="translate(490.1,359.4) scale(1.15,1)" text-anchor="middle" font-size="16.6" font-family="Liberation Sans, Arial, Helvetica, sans-serif" fill="#111" stroke="#111" stroke-width="0.22">0.95<tspan font-size="15.6" dy="-1.9" letter-spacing="1.0" dx="0.6" fill="#333" stroke="none">***</tspan></text>
<rect x="452.5" y="320.5" width="75.2" height="65.2" fill="none" stroke="#222" stroke-width="1.2"/>
<g clip-path="url(#c50)">
<ellipse cx="58.78" cy="397.61" rx="2.1" ry="1.9" fill="#858ca0" stroke="#111" stroke-width="1.15"/>
<ellipse cx="81.99" cy="397.61" rx="2.1" ry="1.9" fill="#858ca0" stroke="#111" stroke-width="1.15"/>
<ellipse cx="95.91" cy="397.61" rx="2.1" ry="1.9" fill="#858ca0" stroke="#111" stroke-width="1.15"/>
<ellipse cx="63.42" cy="400.97" rx="2.1" ry="1.9" fill="#858ca0" stroke="#111" stroke-width="1.15"/>
<ellipse cx="72.7" cy="400.97" rx="2.1" ry="1.9" fill="#858ca0" stroke="#111" stroke-width="1.15"/>
<ellipse cx="77.35" cy="400.97" rx="2.1" ry="1.9" fill="#858ca0" stroke="#111" stroke-width="1.15"/>
<ellipse cx="54.14" cy="404.32" rx="2.1" ry="1.9" fill="#858ca0" stroke="#111" stroke-width="1.15"/>
<ellipse cx="58.78" cy="404.32" rx="2.1" ry="1.9" fill="#858ca0" stroke="#111" stroke-width="1.15"/>
<ellipse cx="68.06" cy="404.32" rx="2.1" ry="1.9" fill="#858ca0" stroke="#111" stroke-width="1.15"/>
<ellipse cx="72.7" cy="404.32" rx="2.1" ry="1.9" fill="#858ca0" stroke="#111" stroke-width="1.15"/>
<ellipse cx="77.35" cy="404.32" rx="2.1" ry="1.9" fill="#858ca0" stroke="#111" stroke-width="1.15"/>
<ellipse cx="86.63" cy="404.32" rx="2.1" ry="1.9" fill="#858ca0" stroke="#111" stroke-width="1.15"/>
<ellipse cx="54.14" cy="407.68" rx="2.1" ry="1.9" fill="#858ca0" stroke="#111" stroke-width="1.15"/>
<ellipse cx="63.42" cy="407.68" rx="2.1" ry="1.9" fill="#858ca0" stroke="#111" stroke-width="1.15"/>
<ellipse cx="68.06" cy="407.68" rx="2.1" ry="1.9" fill="#858ca0" stroke="#111" stroke-width="1.15"/>
<ellipse cx="72.7" cy="407.68" rx="2.1" ry="1.9" fill="#858ca0" stroke="#111" stroke-width="1.15"/>
<ellipse cx="77.35" cy="407.68" rx="2.1" ry="1.9" fill="#858ca0" stroke="#111" stroke-width="1.15"/>
<ellipse cx="49.5" cy="411.03" rx="2.1" ry="1.9" fill="#858ca0" stroke="#111" stroke-width="1.15"/>
<ellipse cx="54.14" cy="411.03" rx="2.1" ry="1.9" fill="#858ca0" stroke="#111" stroke-width="1.15"/>
<ellipse cx="58.78" cy="411.03" rx="2.1" ry="1.9" fill="#858ca0" stroke="#111" stroke-width="1.15"/>
<ellipse cx="63.42" cy="411.03" rx="2.1" ry="1.9" fill="#858ca0" stroke="#111" stroke-width="1.15"/>
<ellipse cx="68.06" cy="411.03" rx="2.1" ry="1.9" fill="#858ca0" stroke="#111" stroke-width="1.15"/>
<ellipse cx="77.35" cy="411.03" rx="2.1" ry="1.9" fill="#858ca0" stroke="#111" stroke-width="1.15"/>
<ellipse cx="44.85" cy="414.38" rx="2.1" ry="1.9" fill="#858ca0" stroke="#111" stroke-width="1.15"/>
<ellipse cx="54.14" cy="414.38" rx="2.1" ry="1.9" fill="#858ca0" stroke="#111" stroke-width="1.15"/>
<ellipse cx="58.78" cy="414.38" rx="2.1" ry="1.9" fill="#858ca0" stroke="#111" stroke-width="1.15"/>
<ellipse cx="63.42" cy="414.38" rx="2.1" ry="1.9" fill="#858ca0" stroke="#111" stroke-width="1.15"/>
<ellipse cx="68.06" cy="414.38" rx="2.1" ry="1.9" fill="#858ca0" stroke="#111" stroke-width="1.15"/>
<ellipse cx="77.35" cy="414.38" rx="2.1" ry="1.9" fill="#858ca0" stroke="#111" stroke-width="1.15"/>
<ellipse cx="49.5" cy="417.74" rx="2.1" ry="1.9" fill="#858ca0" stroke="#111" stroke-width="1.15"/>
<ellipse cx="54.14" cy="417.74" rx="2.1" ry="1.9" fill="#858ca0" stroke="#111" stroke-width="1.15"/>
<ellipse cx="58.78" cy="417.74" rx="2.1" ry="1.9" fill="#858ca0" stroke="#111" stroke-width="1.15"/>
<ellipse cx="63.42" cy="417.74" rx="2.1" ry="1.9" fill="#858ca0" stroke="#111" stroke-width="1.15"/>
<ellipse cx="44.85" cy="421.09" rx="2.1" ry="1.9" fill="#858ca0" stroke="#111" stroke-width="1.15"/>
<ellipse cx="49.5" cy="421.09" rx="2.1" ry="1.9" fill="#858ca0" stroke="#111" stroke-width="1.15"/>
<ellipse cx="54.14" cy="421.09" rx="2.1" ry="1.9" fill="#858ca0" stroke="#111" stroke-width="1.15"/>
<ellipse cx="58.78" cy="421.09" rx="2.1" ry="1.9" fill="#858ca0" stroke="#111" stroke-width="1.15"/>
<ellipse cx="63.42" cy="421.09" rx="2.1" ry="1.9" fill="#858ca0" stroke="#111" stroke-width="1.15"/>
<ellipse cx="44.85" cy="424.45" rx="2.1" ry="1.9" fill="#858ca0" stroke="#111" stroke-width="1.15"/>
<ellipse cx="49.5" cy="424.45" rx="2.1" ry="1.9" fill="#858ca0" stroke="#111" stroke-width="1.15"/>
<ellipse cx="54.14" cy="424.45" rx="2.1" ry="1.9" fill="#858ca0" stroke="#111" stroke-width="1.15"/>
<ellipse cx="58.78" cy="424.45" rx="2.1" ry="1.9" fill="#858ca0" stroke="#111" stroke-width="1.15"/>
<ellipse cx="68.06" cy="424.45" rx="2.1" ry="1.9" fill="#858ca0" stroke="#111" stroke-width="1.15"/>
<ellipse cx="77.35" cy="424.45" rx="2.1" ry="1.9" fill="#858ca0" stroke="#111" stroke-width="1.15"/>
<ellipse cx="44.85" cy="427.8" rx="2.1" ry="1.9" fill="#858ca0" stroke="#111" stroke-width="1.15"/>
<ellipse cx="49.5" cy="427.8" rx="2.1" ry="1.9" fill="#858ca0" stroke="#111" stroke-width="1.15"/>
<ellipse cx="54.14" cy="427.8" rx="2.1" ry="1.9" fill="#858ca0" stroke="#111" stroke-width="1.15"/>
<ellipse cx="63.42" cy="427.8" rx="2.1" ry="1.9" fill="#858ca0" stroke="#111" stroke-width="1.15"/>
<ellipse cx="72.7" cy="427.8" rx="2.1" ry="1.9" fill="#858ca0" stroke="#111" stroke-width="1.15"/>
<ellipse cx="77.35" cy="427.8" rx="2.1" ry="1.9" fill="#858ca0" stroke="#111" stroke-width="1.15"/>
<ellipse cx="44.85" cy="431.15" rx="2.1" ry="1.9" fill="#858ca0" stroke="#111" stroke-width="1.15"/>
<ellipse cx="49.5" cy="431.15" rx="2.1" ry="1.9" fill="#858ca0" stroke="#111" stroke-width="1.15"/>
<ellipse cx="54.14" cy="431.15" rx="2.1" ry="1.9" fill="#858ca0" stroke="#111" stroke-width="1.15"/>
<ellipse cx="44.85" cy="434.51" rx="2.1" ry="1.9" fill="#858ca0" stroke="#111" stroke-width="1.15"/>
<ellipse cx="49.5" cy="434.51" rx="2.1" ry="1.9" fill="#858ca0" stroke="#111" stroke-width="1.15"/>
<ellipse cx="54.14" cy="434.51" rx="2.1" ry="1.9" fill="#858ca0" stroke="#111" stroke-width="1.15"/>
<ellipse cx="40.21" cy="437.86" rx="2.1" ry="1.9" fill="#858ca0" stroke="#111" stroke-width="1.15"/>
<ellipse cx="44.85" cy="437.86" rx="2.1" ry="1.9" fill="#858ca0" stroke="#111" stroke-width="1.15"/>
<ellipse cx="49.5" cy="437.86" rx="2.1" ry="1.9" fill="#858ca0" stroke="#111" stroke-width="1.15"/>
<ellipse cx="54.14" cy="437.86" rx="2.1" ry="1.9" fill="#858ca0" stroke="#111" stroke-width="1.15"/>
<ellipse cx="77.35" cy="437.86" rx="2.1" ry="1.9" fill="#858ca0" stroke="#111" stroke-width="1.15"/>
<ellipse cx="26.29" cy="441.22" rx="2.1" ry="1.9" fill="#858ca0" stroke="#111" stroke-width="1.15"/>
<ellipse cx="40.21" cy="441.22" rx="2.1" ry="1.9" fill="#858ca0" stroke="#111" stroke-width="1.15"/>
<ellipse cx="44.85" cy="441.22" rx="2.1" ry="1.9" fill="#858ca0" stroke="#111" stroke-width="1.15"/>
<ellipse cx="49.5" cy="441.22" rx="2.1" ry="1.9" fill="#858ca0" stroke="#111" stroke-width="1.15"/>
<ellipse cx="54.14" cy="441.22" rx="2.1" ry="1.9" fill="#858ca0" stroke="#111" stroke-width="1.15"/>
<ellipse cx="30.93" cy="444.57" rx="2.1" ry="1.9" fill="#858ca0" stroke="#111" stroke-width="1.15"/>
<ellipse cx="35.57" cy="444.57" rx="2.1" ry="1.9" fill="#858ca0" stroke="#111" stroke-width="1.15"/>
<ellipse cx="40.21" cy="444.57" rx="2.1" ry="1.9" fill="#858ca0" stroke="#111" stroke-width="1.15"/>
<ellipse cx="54.14" cy="444.57" rx="2.1" ry="1.9" fill="#858ca0" stroke="#111" stroke-width="1.15"/>
<ellipse cx="58.78" cy="444.57" rx="2.1" ry="1.9" fill="#858ca0" stroke="#111" stroke-width="1.15"/>
<ellipse cx="35.57" cy="447.92" rx="2.1" ry="1.9" fill="#858ca0" stroke="#111" stroke-width="1.15"/>
<ellipse cx="40.21" cy="447.92" rx="2.1" ry="1.9" fill="#858ca0" stroke="#111" stroke-width="1.15"/>
<ellipse cx="44.85" cy="447.92" rx="2.1" ry="1.9" fill="#858ca0" stroke="#111" stroke-width="1.15"/>
<ellipse cx="30.93" cy="451.28" rx="2.1" ry="1.9" fill="#858ca0" stroke="#111" stroke-width="1.15"/>
<ellipse cx="35.57" cy="451.28" rx="2.1" ry="1.9" fill="#858ca0" stroke="#111" stroke-width="1.15"/>
<ellipse cx="44.85" cy="454.63" rx="2.1" ry="1.9" fill="#858ca0" stroke="#111" stroke-width="1.15"/>
<ellipse cx="26.29" cy="457.99" rx="2.1" ry="1.9" fill="#858ca0" stroke="#111" stroke-width="1.15"/>
<path d="M25.22,457.6 C26.83,455.86 31.55,451.02 34.91,447.16 C38.26,443.31 41.87,438.47 45.35,434.49 C48.82,430.52 51.81,427.16 55.78,423.31 C59.76,419.46 64.73,414.74 69.2,411.38 C73.67,408.03 78.02,405.67 82.62,403.18 C87.22,400.7 94.42,397.59 96.78,396.47" fill="none" stroke="#bd2436" stroke-width="1.05"/>
<ellipse cx="55.8" cy="423.3" rx="3.6" ry="3.0" fill="#ff0000"/>
<polyline points="68.54,409.37 67.9,408.89 67.09,408.63 66.1,408.59 64.96,408.77 63.67,409.17 62.27,409.79 60.77,410.61 59.2,411.63 57.57,412.82 55.92,414.17 54.26,415.66 52.63,417.26 51.05,418.96 49.54,420.72 48.12,422.52 46.82,424.34 45.65,426.13 44.64,427.89 43.8,429.57 43.14,431.16 42.68,432.63 42.41,433.96 42.34,435.13 42.48,436.12 42.82,436.91 43.36,437.5 44.08,437.87 44.99,438.02 46.05,437.95 47.27,437.65 48.61,437.14 50.07,436.42 51.61,435.5 53.21,434.4 54.85,433.12 56.51,431.7 58.16,430.15 59.77,428.5 61.32,426.77 62.79,424.98 64.15,423.17 65.38,421.36 66.47,419.58 67.4,417.86 68.15,416.22 68.71,414.69 69.08,413.29 69.25,412.03 69.21,410.96 68.97,410.06 68.54,409.37" fill="none" stroke="#000" stroke-width="0.95"/>
</g>
<rect x="23.5" y="395.2" width="75.2" height="65.2" fill="none" stroke="#222" stroke-width="1.2"/>
<g clip-path="url(#c51)">
<ellipse cx="112.09" cy="457.99" rx="2.1" ry="1.9" fill="#858ca0" stroke="#111" stroke-width="1.15"/>
<ellipse cx="112.09" cy="454.63" rx="2.1" ry="1.9" fill="#858ca0" stroke="#111" stroke-width="1.15"/>
<ellipse cx="112.09" cy="451.28" rx="2.1" ry="1.9" fill="#858ca0" stroke="#111" stroke-width="1.15"/>
<ellipse cx="112.09" cy="447.92" rx="2.1" ry="1.9" fill="#858ca0" stroke="#111" stroke-width="1.15"/>
<ellipse cx="112.09" cy="444.57" rx="2.1" ry="1.9" fill="#858ca0" stroke="#111" stroke-width="1.15"/>
<ellipse cx="118.42" cy="414.38" rx="2.1" ry="1.9" fill="#858ca0" stroke="#111" stroke-width="1.15"/>
<ellipse cx="118.42" cy="427.8" rx="2.1" ry="1.9" fill="#858ca0" stroke="#111" stroke-width="1.15"/>
<ellipse cx="118.42" cy="437.86" rx="2.1" ry="1.9" fill="#858ca0" stroke="#111" stroke-width="1.15"/>
<ellipse cx="118.42" cy="441.22" rx="2.1" ry="1.9" fill="#858ca0" stroke="#111" stroke-width="1.15"/>
<ellipse cx="118.42" cy="444.57" rx="2.1" ry="1.9" fill="#858ca0" stroke="#111" stroke-width="1.15"/>
<ellipse cx="118.42" cy="447.92" rx="2.1" ry="1.9" fill="#858ca0" stroke="#111" stroke-width="1.15"/>
<ellipse cx="118.42" cy="451.28" rx="2.1" ry="1.9" fill="#858ca0" stroke="#111" stroke-width="1.15"/>
<ellipse cx="124.75" cy="444.57" rx="2.1" ry="1.9" fill="#858ca0" stroke="#111" stroke-width="1.15"/>
<ellipse cx="124.75" cy="441.22" rx="2.1" ry="1.9" fill="#858ca0" stroke="#111" stroke-width="1.15"/>
<ellipse cx="124.75" cy="437.86" rx="2.1" ry="1.9" fill="#858ca0" stroke="#111" stroke-width="1.15"/>
<ellipse cx="124.75" cy="434.51" rx="2.1" ry="1.9" fill="#858ca0" stroke="#111" stroke-width="1.15"/>
<ellipse cx="124.75" cy="431.15" rx="2.1" ry="1.9" fill="#858ca0" stroke="#111" stroke-width="1.15"/>
<ellipse cx="124.75" cy="427.8" rx="2.1" ry="1.9" fill="#858ca0" stroke="#111" stroke-width="1.15"/>
<ellipse cx="124.75" cy="424.45" rx="2.1" ry="1.9" fill="#858ca0" stroke="#111" stroke-width="1.15"/>
<ellipse cx="124.75" cy="421.09" rx="2.1" ry="1.9" fill="#858ca0" stroke="#111" stroke-width="1.15"/>
<ellipse cx="124.75" cy="451.28" rx="2.1" ry="1.9" fill="#858ca0" stroke="#111" stroke-width="1.15"/>
<ellipse cx="124.75" cy="454.63" rx="2.1" ry="1.9" fill="#858ca0" stroke="#111" stroke-width="1.15"/>
<ellipse cx="131.08" cy="441.22" rx="2.1" ry="1.9" fill="#858ca0" stroke="#111" stroke-width="1.15"/>
<ellipse cx="131.08" cy="437.86" rx="2.1" ry="1.9" fill="#858ca0" stroke="#111" stroke-width="1.15"/>
<ellipse cx="131.08" cy="434.51" rx="2.1" ry="1.9" fill="#858ca0" stroke="#111" stroke-width="1.15"/>
<ellipse cx="131.08" cy="431.15" rx="2.1" ry="1.9" fill="#858ca0" stroke="#111" stroke-width="1.15"/>
<ellipse cx="131.08" cy="427.8" rx="2.1" ry="1.9" fill="#858ca0" stroke="#111" stroke-width="1.15"/>
<ellipse cx="131.08" cy="424.45" rx="2.1" ry="1.9" fill="#858ca0" stroke="#111" stroke-width="1.15"/>
<ellipse cx="131.08" cy="421.09" rx="2.1" ry="1.9" fill="#858ca0" stroke="#111" stroke-width="1.15"/>
<ellipse cx="131.08" cy="417.74" rx="2.1" ry="1.9" fill="#858ca0" stroke="#111" stroke-width="1.15"/>
<ellipse cx="131.08" cy="414.38" rx="2.1" ry="1.9" fill="#858ca0" stroke="#111" stroke-width="1.15"/>
<ellipse cx="137.41" cy="411.03" rx="2.1" ry="1.9" fill="#858ca0" stroke="#111" stroke-width="1.15"/>
<ellipse cx="137.41" cy="417.74" rx="2.1" ry="1.9" fill="#858ca0" stroke="#111" stroke-width="1.15"/>
<ellipse cx="137.41" cy="421.09" rx="2.1" ry="1.9" fill="#858ca0" stroke="#111" stroke-width="1.15"/>
<ellipse cx="137.41" cy="424.45" rx="2.1" ry="1.9" fill="#858ca0" stroke="#111" stroke-width="1.15"/>
<ellipse cx="137.41" cy="427.8" rx="2.1" ry="1.9" fill="#858ca0" stroke="#111" stroke-width="1.15"/>
<ellipse cx="137.41" cy="431.15" rx="2.1" ry="1.9" fill="#858ca0" stroke="#111" stroke-width="1.15"/>
<ellipse cx="137.41" cy="437.86" rx="2.1" ry="1.9" fill="#858ca0" stroke="#111" stroke-width="1.15"/>
<ellipse cx="137.41" cy="444.57" rx="2.1" ry="1.9" fill="#858ca0" stroke="#111" stroke-width="1.15"/>
<ellipse cx="143.74" cy="407.68" rx="2.1" ry="1.9" fill="#858ca0" stroke="#111" stroke-width="1.15"/>
<ellipse cx="143.74" cy="411.03" rx="2.1" ry="1.9" fill="#858ca0" stroke="#111" stroke-width="1.15"/>
<ellipse cx="143.74" cy="414.38" rx="2.1" ry="1.9" fill="#858ca0" stroke="#111" stroke-width="1.15"/>
<ellipse cx="143.74" cy="421.09" rx="2.1" ry="1.9" fill="#858ca0" stroke="#111" stroke-width="1.15"/>
<ellipse cx="143.74" cy="424.45" rx="2.1" ry="1.9" fill="#858ca0" stroke="#111" stroke-width="1.15"/>
<ellipse cx="143.74" cy="427.8" rx="2.1" ry="1.9" fill="#858ca0" stroke="#111" stroke-width="1.15"/>
<ellipse cx="143.74" cy="437.86" rx="2.1" ry="1.9" fill="#858ca0" stroke="#111" stroke-width="1.15"/>
<ellipse cx="150.06" cy="427.8" rx="2.1" ry="1.9" fill="#858ca0" stroke="#111" stroke-width="1.15"/>
<ellipse cx="150.06" cy="424.45" rx="2.1" ry="1.9" fill="#858ca0" stroke="#111" stroke-width="1.15"/>
<ellipse cx="150.06" cy="421.09" rx="2.1" ry="1.9" fill="#858ca0" stroke="#111" stroke-width="1.15"/>
<ellipse cx="150.06" cy="417.74" rx="2.1" ry="1.9" fill="#858ca0" stroke="#111" stroke-width="1.15"/>
<ellipse cx="150.06" cy="414.38" rx="2.1" ry="1.9" fill="#858ca0" stroke="#111" stroke-width="1.15"/>
<ellipse cx="150.06" cy="411.03" rx="2.1" ry="1.9" fill="#858ca0" stroke="#111" stroke-width="1.15"/>
<ellipse cx="150.06" cy="407.68" rx="2.1" ry="1.9" fill="#858ca0" stroke="#111" stroke-width="1.15"/>
<ellipse cx="156.39" cy="414.38" rx="2.1" ry="1.9" fill="#858ca0" stroke="#111" stroke-width="1.15"/>
<ellipse cx="156.39" cy="411.03" rx="2.1" ry="1.9" fill="#858ca0" stroke="#111" stroke-width="1.15"/>
<ellipse cx="156.39" cy="407.68" rx="2.1" ry="1.9" fill="#858ca0" stroke="#111" stroke-width="1.15"/>
<ellipse cx="156.39" cy="404.32" rx="2.1" ry="1.9" fill="#858ca0" stroke="#111" stroke-width="1.15"/>
<ellipse cx="162.72" cy="414.38" rx="2.1" ry="1.9" fill="#858ca0" stroke="#111" stroke-width="1.15"/>
<ellipse cx="162.72" cy="411.03" rx="2.1" ry="1.9" fill="#858ca0" stroke="#111" stroke-width="1.15"/>
<ellipse cx="162.72" cy="407.68" rx="2.1" ry="1.9" fill="#858ca0" stroke="#111" stroke-width="1.15"/>
<ellipse cx="162.72" cy="404.32" rx="2.1" ry="1.9" fill="#858ca0" stroke="#111" stroke-width="1.15"/>
<ellipse cx="162.72" cy="400.97" rx="2.1" ry="1.9" fill="#858ca0" stroke="#111" stroke-width="1.15"/>
<ellipse cx="162.72" cy="424.45" rx="2.1" ry="1.9" fill="#858ca0" stroke="#111" stroke-width="1.15"/>
<ellipse cx="169.05" cy="397.61" rx="2.1" ry="1.9" fill="#858ca0" stroke="#111" stroke-width="1.15"/>
<ellipse cx="169.05" cy="404.32" rx="2.1" ry="1.9" fill="#858ca0" stroke="#111" stroke-width="1.15"/>
<ellipse cx="169.05" cy="411.03" rx="2.1" ry="1.9" fill="#858ca0" stroke="#111" stroke-width="1.15"/>
<ellipse cx="175.38" cy="397.61" rx="2.1" ry="1.9" fill="#858ca0" stroke="#111" stroke-width="1.15"/>
<ellipse cx="175.38" cy="400.97" rx="2.1" ry="1.9" fill="#858ca0" stroke="#111" stroke-width="1.15"/>
<ellipse cx="181.71" cy="397.61" rx="2.1" ry="1.9" fill="#858ca0" stroke="#111" stroke-width="1.15"/>
<ellipse cx="181.71" cy="400.97" rx="2.1" ry="1.9" fill="#858ca0" stroke="#111" stroke-width="1.15"/>
<path d="M111.96,449.4 C113.95,447.29 119.17,441.08 123.89,436.73 C128.61,432.38 135.07,427.41 140.29,423.31 C145.51,419.21 150.48,415.36 155.2,412.13 C159.92,408.9 164.02,406.54 168.62,403.93 C173.22,401.32 180.42,397.72 182.78,396.47" fill="none" stroke="#bd2436" stroke-width="1.05"/>
<ellipse cx="140" cy="423.3" rx="3.6" ry="3.0" fill="#ff0000"/>
<polyline points="155.57,409.1 154.92,408.73 154.05,408.58 152.97,408.65 151.69,408.95 150.24,409.46 148.63,410.18 146.88,411.1 145.04,412.21 143.12,413.48 141.15,414.91 139.16,416.46 137.18,418.11 135.25,419.84 133.39,421.63 131.63,423.44 130,425.25 128.52,427.03 127.21,428.75 126.1,430.39 125.2,431.92 124.52,433.32 124.07,434.57 123.87,435.65 123.91,436.54 124.2,437.23 124.73,437.71 125.48,437.97 126.46,438.01 127.64,437.83 129.01,437.42 130.55,436.8 132.23,435.98 134.03,434.97 135.92,433.77 137.87,432.42 139.85,430.93 141.83,429.33 143.79,427.63 145.69,425.87 147.5,424.07 149.2,422.25 150.76,420.46 152.16,418.7 153.37,417.02 154.38,415.43 155.17,413.96 155.73,412.63 156.06,411.47 156.14,410.48 155.97,409.69 155.57,409.1" fill="none" stroke="#000" stroke-width="0.95"/>
</g>
<rect x="109.3" y="395.2" width="75.2" height="65.2" fill="none" stroke="#222" stroke-width="1.2"/>
<g clip-path="url(#c52)">
<ellipse cx="247.62" cy="397.61" rx="2.1" ry="1.9" fill="#858ca0" stroke="#111" stroke-width="1.15"/>
<ellipse cx="252.59" cy="397.61" rx="2.1" ry="1.9" fill="#858ca0" stroke="#111" stroke-width="1.15"/>
<ellipse cx="257.57" cy="397.61" rx="2.1" ry="1.9" fill="#858ca0" stroke="#111" stroke-width="1.15"/>
<ellipse cx="262.54" cy="397.61" rx="2.1" ry="1.9" fill="#858ca0" stroke="#111" stroke-width="1.15"/>
<ellipse cx="267.51" cy="397.61" rx="2.1" ry="1.9" fill="#858ca0" stroke="#111" stroke-width="1.15"/>
<ellipse cx="237.67" cy="400.97" rx="2.1" ry="1.9" fill="#858ca0" stroke="#111" stroke-width="1.15"/>
<ellipse cx="252.59" cy="400.97" rx="2.1" ry="1.9" fill="#858ca0" stroke="#111" stroke-width="1.15"/>
<ellipse cx="257.57" cy="400.97" rx="2.1" ry="1.9" fill="#858ca0" stroke="#111" stroke-width="1.15"/>
<ellipse cx="237.67" cy="404.32" rx="2.1" ry="1.9" fill="#858ca0" stroke="#111" stroke-width="1.15"/>
<ellipse cx="242.65" cy="404.32" rx="2.1" ry="1.9" fill="#858ca0" stroke="#111" stroke-width="1.15"/>
<ellipse cx="252.59" cy="404.32" rx="2.1" ry="1.9" fill="#858ca0" stroke="#111" stroke-width="1.15"/>
<ellipse cx="257.57" cy="404.32" rx="2.1" ry="1.9" fill="#858ca0" stroke="#111" stroke-width="1.15"/>
<ellipse cx="227.73" cy="407.68" rx="2.1" ry="1.9" fill="#858ca0" stroke="#111" stroke-width="1.15"/>
<ellipse cx="232.7" cy="407.68" rx="2.1" ry="1.9" fill="#858ca0" stroke="#111" stroke-width="1.15"/>
<ellipse cx="242.65" cy="407.68" rx="2.1" ry="1.9" fill="#858ca0" stroke="#111" stroke-width="1.15"/>
<ellipse cx="247.62" cy="407.68" rx="2.1" ry="1.9" fill="#858ca0" stroke="#111" stroke-width="1.15"/>
<ellipse cx="227.73" cy="411.03" rx="2.1" ry="1.9" fill="#858ca0" stroke="#111" stroke-width="1.15"/>
<ellipse cx="232.7" cy="411.03" rx="2.1" ry="1.9" fill="#858ca0" stroke="#111" stroke-width="1.15"/>
<ellipse cx="237.67" cy="411.03" rx="2.1" ry="1.9" fill="#858ca0" stroke="#111" stroke-width="1.15"/>
<ellipse cx="247.62" cy="411.03" rx="2.1" ry="1.9" fill="#858ca0" stroke="#111" stroke-width="1.15"/>
<ellipse cx="252.59" cy="411.03" rx="2.1" ry="1.9" fill="#858ca0" stroke="#111" stroke-width="1.15"/>
<ellipse cx="222.75" cy="414.38" rx="2.1" ry="1.9" fill="#858ca0" stroke="#111" stroke-width="1.15"/>
<ellipse cx="232.7" cy="414.38" rx="2.1" ry="1.9" fill="#858ca0" stroke="#111" stroke-width="1.15"/>
<ellipse cx="237.67" cy="414.38" rx="2.1" ry="1.9" fill="#858ca0" stroke="#111" stroke-width="1.15"/>
<ellipse cx="242.65" cy="414.38" rx="2.1" ry="1.9" fill="#858ca0" stroke="#111" stroke-width="1.15"/>
<ellipse cx="257.57" cy="414.38" rx="2.1" ry="1.9" fill="#858ca0" stroke="#111" stroke-width="1.15"/>
<ellipse cx="227.73" cy="417.74" rx="2.1" ry="1.9" fill="#858ca0" stroke="#111" stroke-width="1.15"/>
<ellipse cx="237.67" cy="417.74" rx="2.1" ry="1.9" fill="#858ca0" stroke="#111" stroke-width="1.15"/>
<ellipse cx="242.65" cy="417.74" rx="2.1" ry="1.9" fill="#858ca0" stroke="#111" stroke-width="1.15"/>
<ellipse cx="247.62" cy="417.74" rx="2.1" ry="1.9" fill="#858ca0" stroke="#111" stroke-width="1.15"/>
<ellipse cx="212.81" cy="421.09" rx="2.1" ry="1.9" fill="#858ca0" stroke="#111" stroke-width="1.15"/>
<ellipse cx="222.75" cy="421.09" rx="2.1" ry="1.9" fill="#858ca0" stroke="#111" stroke-width="1.15"/>
<ellipse cx="232.7" cy="421.09" rx="2.1" ry="1.9" fill="#858ca0" stroke="#111" stroke-width="1.15"/>
<ellipse cx="237.67" cy="421.09" rx="2.1" ry="1.9" fill="#858ca0" stroke="#111" stroke-width="1.15"/>
<ellipse cx="217.78" cy="424.45" rx="2.1" ry="1.9" fill="#858ca0" stroke="#111" stroke-width="1.15"/>
<ellipse cx="222.75" cy="424.45" rx="2.1" ry="1.9" fill="#858ca0" stroke="#111" stroke-width="1.15"/>
<ellipse cx="227.73" cy="424.45" rx="2.1" ry="1.9" fill="#858ca0" stroke="#111" stroke-width="1.15"/>
<ellipse cx="232.7" cy="424.45" rx="2.1" ry="1.9" fill="#858ca0" stroke="#111" stroke-width="1.15"/>
<ellipse cx="237.67" cy="424.45" rx="2.1" ry="1.9" fill="#858ca0" stroke="#111" stroke-width="1.15"/>
<ellipse cx="252.59" cy="424.45" rx="2.1" ry="1.9" fill="#858ca0" stroke="#111" stroke-width="1.15"/>
<ellipse cx="212.81" cy="427.8" rx="2.1" ry="1.9" fill="#858ca0" stroke="#111" stroke-width="1.15"/>
<ellipse cx="217.78" cy="427.8" rx="2.1" ry="1.9" fill="#858ca0" stroke="#111" stroke-width="1.15"/>
<ellipse cx="222.75" cy="427.8" rx="2.1" ry="1.9" fill="#858ca0" stroke="#111" stroke-width="1.15"/>
<ellipse cx="227.73" cy="427.8" rx="2.1" ry="1.9" fill="#858ca0" stroke="#111" stroke-width="1.15"/>
<ellipse cx="232.7" cy="427.8" rx="2.1" ry="1.9" fill="#858ca0" stroke="#111" stroke-width="1.15"/>
<ellipse cx="242.65" cy="427.8" rx="2.1" ry="1.9" fill="#858ca0" stroke="#111" stroke-width="1.15"/>
<ellipse cx="217.78" cy="431.15" rx="2.1" ry="1.9" fill="#858ca0" stroke="#111" stroke-width="1.15"/>
<ellipse cx="222.75" cy="431.15" rx="2.1" ry="1.9" fill="#858ca0" stroke="#111" stroke-width="1.15"/>
<ellipse cx="227.73" cy="431.15" rx="2.1" ry="1.9" fill="#858ca0" stroke="#111" stroke-width="1.15"/>
<ellipse cx="232.7" cy="431.15" rx="2.1" ry="1.9" fill="#858ca0" stroke="#111" stroke-width="1.15"/>
<ellipse cx="212.81" cy="434.51" rx="2.1" ry="1.9" fill="#858ca0" stroke="#111" stroke-width="1.15"/>
<ellipse cx="217.78" cy="434.51" rx="2.1" ry="1.9" fill="#858ca0" stroke="#111" stroke-width="1.15"/>
<ellipse cx="222.75" cy="434.51" rx="2.1" ry="1.9" fill="#858ca0" stroke="#111" stroke-width="1.15"/>
<ellipse cx="227.73" cy="434.51" rx="2.1" ry="1.9" fill="#858ca0" stroke="#111" stroke-width="1.15"/>
<ellipse cx="222.75" cy="437.86" rx="2.1" ry="1.9" fill="#858ca0" stroke="#111" stroke-width="1.15"/>
<ellipse cx="227.73" cy="437.86" rx="2.1" ry="1.9" fill="#858ca0" stroke="#111" stroke-width="1.15"/>
<ellipse cx="232.7" cy="437.86" rx="2.1" ry="1.9" fill="#858ca0" stroke="#111" stroke-width="1.15"/>
<ellipse cx="212.81" cy="441.22" rx="2.1" ry="1.9" fill="#858ca0" stroke="#111" stroke-width="1.15"/>
<ellipse cx="217.78" cy="441.22" rx="2.1" ry="1.9" fill="#858ca0" stroke="#111" stroke-width="1.15"/>
<ellipse cx="227.73" cy="441.22" rx="2.1" ry="1.9" fill="#858ca0" stroke="#111" stroke-width="1.15"/>
<ellipse cx="197.89" cy="444.57" rx="2.1" ry="1.9" fill="#858ca0" stroke="#111" stroke-width="1.15"/>
<ellipse cx="207.83" cy="444.57" rx="2.1" ry="1.9" fill="#858ca0" stroke="#111" stroke-width="1.15"/>
<ellipse cx="212.81" cy="444.57" rx="2.1" ry="1.9" fill="#858ca0" stroke="#111" stroke-width="1.15"/>
<ellipse cx="217.78" cy="444.57" rx="2.1" ry="1.9" fill="#858ca0" stroke="#111" stroke-width="1.15"/>
<ellipse cx="232.7" cy="444.57" rx="2.1" ry="1.9" fill="#858ca0" stroke="#111" stroke-width="1.15"/>
<ellipse cx="207.83" cy="447.92" rx="2.1" ry="1.9" fill="#858ca0" stroke="#111" stroke-width="1.15"/>
<ellipse cx="212.81" cy="447.92" rx="2.1" ry="1.9" fill="#858ca0" stroke="#111" stroke-width="1.15"/>
<ellipse cx="217.78" cy="447.92" rx="2.1" ry="1.9" fill="#858ca0" stroke="#111" stroke-width="1.15"/>
<ellipse cx="207.83" cy="451.28" rx="2.1" ry="1.9" fill="#858ca0" stroke="#111" stroke-width="1.15"/>
<ellipse cx="217.78" cy="451.28" rx="2.1" ry="1.9" fill="#858ca0" stroke="#111" stroke-width="1.15"/>
<ellipse cx="202.86" cy="454.63" rx="2.1" ry="1.9" fill="#858ca0" stroke="#111" stroke-width="1.15"/>
<ellipse cx="222.75" cy="454.63" rx="2.1" ry="1.9" fill="#858ca0" stroke="#111" stroke-width="1.15"/>
<ellipse cx="202.86" cy="457.99" rx="2.1" ry="1.9" fill="#858ca0" stroke="#111" stroke-width="1.15"/>
<path d="M197.22,459.84 C199.08,457.72 204.8,451.26 208.4,447.16 C212,443.06 215.11,439.21 218.84,435.24 C222.56,431.26 226.79,426.91 230.76,423.31 C234.74,419.71 238.72,416.48 242.69,413.62 C246.67,410.76 250.39,408.77 254.62,406.16 C258.84,403.55 265.8,399.33 268.04,397.96" fill="none" stroke="#bd2436" stroke-width="1.05"/>
<ellipse cx="231.1" cy="423.3" rx="3.6" ry="3.0" fill="#ff0000"/>
<polyline points="244.65,409.18 244.05,408.77 243.26,408.59 242.29,408.63 241.15,408.89 239.85,409.37 238.42,410.06 236.88,410.95 235.25,412.03 233.56,413.28 231.83,414.68 230.1,416.21 228.37,417.85 226.69,419.57 225.07,421.35 223.55,423.16 222.14,424.97 220.87,426.75 219.75,428.49 218.8,430.14 218.04,431.69 217.48,433.11 217.12,434.39 216.98,435.5 217.05,436.42 217.33,437.14 217.82,437.65 218.52,437.95 219.4,438.02 220.46,437.87 221.68,437.5 223.05,436.91 224.54,436.12 226.12,435.13 227.79,433.97 229.5,432.64 231.23,431.17 232.97,429.58 234.68,427.9 236.33,426.14 237.9,424.35 239.37,422.53 240.72,420.73 241.91,418.97 242.95,417.27 243.8,415.67 244.47,414.18 244.93,412.83 245.18,411.64 245.21,410.62 245.04,409.8 244.65,409.18" fill="none" stroke="#000" stroke-width="0.95"/>
</g>
<rect x="195.1" y="395.2" width="75.2" height="65.2" fill="none" stroke="#222" stroke-width="1.2"/>
<g clip-path="url(#c53)">
<ellipse cx="338.39" cy="397.61" rx="2.1" ry="1.9" fill="#858ca0" stroke="#111" stroke-width="1.15"/>
<ellipse cx="348.34" cy="397.61" rx="2.1" ry="1.9" fill="#858ca0" stroke="#111" stroke-width="1.15"/>
<ellipse cx="353.31" cy="397.61" rx="2.1" ry="1.9" fill="#858ca0" stroke="#111" stroke-width="1.15"/>
<ellipse cx="328.45" cy="400.97" rx="2.1" ry="1.9" fill="#858ca0" stroke="#111" stroke-width="1.15"/>
<ellipse cx="343.37" cy="400.97" rx="2.1" ry="1.9" fill="#858ca0" stroke="#111" stroke-width="1.15"/>
<ellipse cx="348.34" cy="400.97" rx="2.1" ry="1.9" fill="#858ca0" stroke="#111" stroke-width="1.15"/>
<ellipse cx="333.42" cy="404.32" rx="2.1" ry="1.9" fill="#858ca0" stroke="#111" stroke-width="1.15"/>
<ellipse cx="338.39" cy="404.32" rx="2.1" ry="1.9" fill="#858ca0" stroke="#111" stroke-width="1.15"/>
<ellipse cx="343.37" cy="404.32" rx="2.1" ry="1.9" fill="#858ca0" stroke="#111" stroke-width="1.15"/>
<ellipse cx="323.47" cy="407.68" rx="2.1" ry="1.9" fill="#858ca0" stroke="#111" stroke-width="1.15"/>
<ellipse cx="328.45" cy="407.68" rx="2.1" ry="1.9" fill="#858ca0" stroke="#111" stroke-width="1.15"/>
<ellipse cx="333.42" cy="407.68" rx="2.1" ry="1.9" fill="#858ca0" stroke="#111" stroke-width="1.15"/>
<ellipse cx="338.39" cy="407.68" rx="2.1" ry="1.9" fill="#858ca0" stroke="#111" stroke-width="1.15"/>
<ellipse cx="343.37" cy="407.68" rx="2.1" ry="1.9" fill="#858ca0" stroke="#111" stroke-width="1.15"/>
<ellipse cx="318.5" cy="411.03" rx="2.1" ry="1.9" fill="#858ca0" stroke="#111" stroke-width="1.15"/>
<ellipse cx="323.47" cy="411.03" rx="2.1" ry="1.9" fill="#858ca0" stroke="#111" stroke-width="1.15"/>
<ellipse cx="328.45" cy="411.03" rx="2.1" ry="1.9" fill="#858ca0" stroke="#111" stroke-width="1.15"/>
<ellipse cx="333.42" cy="411.03" rx="2.1" ry="1.9" fill="#858ca0" stroke="#111" stroke-width="1.15"/>
<ellipse cx="313.53" cy="414.38" rx="2.1" ry="1.9" fill="#858ca0" stroke="#111" stroke-width="1.15"/>
<ellipse cx="318.5" cy="414.38" rx="2.1" ry="1.9" fill="#858ca0" stroke="#111" stroke-width="1.15"/>
<ellipse cx="323.47" cy="414.38" rx="2.1" ry="1.9" fill="#858ca0" stroke="#111" stroke-width="1.15"/>
<ellipse cx="328.45" cy="414.38" rx="2.1" ry="1.9" fill="#858ca0" stroke="#111" stroke-width="1.15"/>
<ellipse cx="333.42" cy="414.38" rx="2.1" ry="1.9" fill="#858ca0" stroke="#111" stroke-width="1.15"/>
<ellipse cx="308.55" cy="417.74" rx="2.1" ry="1.9" fill="#858ca0" stroke="#111" stroke-width="1.15"/>
<ellipse cx="313.53" cy="417.74" rx="2.1" ry="1.9" fill="#858ca0" stroke="#111" stroke-width="1.15"/>
<ellipse cx="318.5" cy="417.74" rx="2.1" ry="1.9" fill="#858ca0" stroke="#111" stroke-width="1.15"/>
<ellipse cx="323.47" cy="417.74" rx="2.1" ry="1.9" fill="#858ca0" stroke="#111" stroke-width="1.15"/>
<ellipse cx="328.45" cy="417.74" rx="2.1" ry="1.9" fill="#858ca0" stroke="#111" stroke-width="1.15"/>
<ellipse cx="308.55" cy="421.09" rx="2.1" ry="1.9" fill="#858ca0" stroke="#111" stroke-width="1.15"/>
<ellipse cx="313.53" cy="421.09" rx="2.1" ry="1.9" fill="#858ca0" stroke="#111" stroke-width="1.15"/>
<ellipse cx="323.47" cy="421.09" rx="2.1" ry="1.9" fill="#858ca0" stroke="#111" stroke-width="1.15"/>
<ellipse cx="328.45" cy="421.09" rx="2.1" ry="1.9" fill="#858ca0" stroke="#111" stroke-width="1.15"/>
<ellipse cx="308.55" cy="424.45" rx="2.1" ry="1.9" fill="#858ca0" stroke="#111" stroke-width="1.15"/>
<ellipse cx="313.53" cy="424.45" rx="2.1" ry="1.9" fill="#858ca0" stroke="#111" stroke-width="1.15"/>
<ellipse cx="318.5" cy="424.45" rx="2.1" ry="1.9" fill="#858ca0" stroke="#111" stroke-width="1.15"/>
<ellipse cx="323.47" cy="424.45" rx="2.1" ry="1.9" fill="#858ca0" stroke="#111" stroke-width="1.15"/>
<ellipse cx="303.58" cy="427.8" rx="2.1" ry="1.9" fill="#858ca0" stroke="#111" stroke-width="1.15"/>
<ellipse cx="308.55" cy="427.8" rx="2.1" ry="1.9" fill="#858ca0" stroke="#111" stroke-width="1.15"/>
<ellipse cx="318.5" cy="427.8" rx="2.1" ry="1.9" fill="#858ca0" stroke="#111" stroke-width="1.15"/>
<ellipse cx="328.45" cy="427.8" rx="2.1" ry="1.9" fill="#858ca0" stroke="#111" stroke-width="1.15"/>
<ellipse cx="308.55" cy="431.15" rx="2.1" ry="1.9" fill="#858ca0" stroke="#111" stroke-width="1.15"/>
<ellipse cx="313.53" cy="431.15" rx="2.1" ry="1.9" fill="#858ca0" stroke="#111" stroke-width="1.15"/>
<ellipse cx="318.5" cy="431.15" rx="2.1" ry="1.9" fill="#858ca0" stroke="#111" stroke-width="1.15"/>
<ellipse cx="308.55" cy="434.51" rx="2.1" ry="1.9" fill="#858ca0" stroke="#111" stroke-width="1.15"/>
<ellipse cx="313.53" cy="434.51" rx="2.1" ry="1.9" fill="#858ca0" stroke="#111" stroke-width="1.15"/>
<ellipse cx="318.5" cy="434.51" rx="2.1" ry="1.9" fill="#858ca0" stroke="#111" stroke-width="1.15"/>
<ellipse cx="303.58" cy="437.86" rx="2.1" ry="1.9" fill="#858ca0" stroke="#111" stroke-width="1.15"/>
<ellipse cx="308.55" cy="437.86" rx="2.1" ry="1.9" fill="#858ca0" stroke="#111" stroke-width="1.15"/>
<ellipse cx="313.53" cy="437.86" rx="2.1" ry="1.9" fill="#858ca0" stroke="#111" stroke-width="1.15"/>
<ellipse cx="318.5" cy="437.86" rx="2.1" ry="1.9" fill="#858ca0" stroke="#111" stroke-width="1.15"/>
<ellipse cx="323.47" cy="437.86" rx="2.1" ry="1.9" fill="#858ca0" stroke="#111" stroke-width="1.15"/>
<ellipse cx="283.69" cy="441.22" rx="2.1" ry="1.9" fill="#858ca0" stroke="#111" stroke-width="1.15"/>
<ellipse cx="298.61" cy="441.22" rx="2.1" ry="1.9" fill="#858ca0" stroke="#111" stroke-width="1.15"/>
<ellipse cx="308.55" cy="441.22" rx="2.1" ry="1.9" fill="#858ca0" stroke="#111" stroke-width="1.15"/>
<ellipse cx="288.66" cy="444.57" rx="2.1" ry="1.9" fill="#858ca0" stroke="#111" stroke-width="1.15"/>
<ellipse cx="293.63" cy="444.57" rx="2.1" ry="1.9" fill="#858ca0" stroke="#111" stroke-width="1.15"/>
<ellipse cx="303.58" cy="444.57" rx="2.1" ry="1.9" fill="#858ca0" stroke="#111" stroke-width="1.15"/>
<ellipse cx="313.53" cy="444.57" rx="2.1" ry="1.9" fill="#858ca0" stroke="#111" stroke-width="1.15"/>
<ellipse cx="318.5" cy="444.57" rx="2.1" ry="1.9" fill="#858ca0" stroke="#111" stroke-width="1.15"/>
<ellipse cx="293.63" cy="447.92" rx="2.1" ry="1.9" fill="#858ca0" stroke="#111" stroke-width="1.15"/>
<ellipse cx="298.61" cy="447.92" rx="2.1" ry="1.9" fill="#858ca0" stroke="#111" stroke-width="1.15"/>
<ellipse cx="293.63" cy="451.28" rx="2.1" ry="1.9" fill="#858ca0" stroke="#111" stroke-width="1.15"/>
<ellipse cx="298.61" cy="451.28" rx="2.1" ry="1.9" fill="#858ca0" stroke="#111" stroke-width="1.15"/>
<ellipse cx="303.58" cy="451.28" rx="2.1" ry="1.9" fill="#858ca0" stroke="#111" stroke-width="1.15"/>
<ellipse cx="288.66" cy="454.63" rx="2.1" ry="1.9" fill="#858ca0" stroke="#111" stroke-width="1.15"/>
<ellipse cx="308.55" cy="454.63" rx="2.1" ry="1.9" fill="#858ca0" stroke="#111" stroke-width="1.15"/>
<ellipse cx="298.61" cy="457.99" rx="2.1" ry="1.9" fill="#858ca0" stroke="#111" stroke-width="1.15"/>
<path d="M283.22,456.11 L354.78,396.47" fill="none" stroke="#bd2436" stroke-width="1.05"/>
<ellipse cx="319" cy="423.3" rx="3.6" ry="3.0" fill="#ff0000"/>
<polyline points="332.23,409.06 331.7,408.71 330.98,408.58 330.07,408.67 329,408.98 327.78,409.51 326.42,410.25 324.96,411.19 323.4,412.31 321.77,413.59 320.11,415.03 318.42,416.59 316.75,418.25 315.11,419.99 313.53,421.77 312.03,423.59 310.63,425.39 309.37,427.17 308.25,428.88 307.29,430.52 306.51,432.04 305.92,433.43 305.53,434.66 305.34,435.73 305.36,436.6 305.59,437.28 306.01,437.74 306.64,437.98 307.45,438.01 308.44,437.8 309.59,437.38 310.88,436.75 312.3,435.91 313.81,434.88 315.41,433.67 317.06,432.31 318.73,430.81 320.42,429.19 322.08,427.49 323.69,425.72 325.24,423.92 326.68,422.11 328.02,420.31 329.21,418.57 330.25,416.89 331.12,415.31 331.81,413.85 332.3,412.53 332.59,411.38 332.68,410.41 332.55,409.63 332.23,409.06" fill="none" stroke="#000" stroke-width="0.95"/>
</g>
<rect x="280.9" y="395.2" width="75.2" height="65.2" fill="none" stroke="#222" stroke-width="1.2"/>
<g clip-path="url(#c54)">
<ellipse cx="428.12" cy="397.61" rx="2.1" ry="1.9" fill="#858ca0" stroke="#111" stroke-width="1.15"/>
<ellipse cx="435.45" cy="397.61" rx="2.1" ry="1.9" fill="#858ca0" stroke="#111" stroke-width="1.15"/>
<ellipse cx="439.11" cy="397.61" rx="2.1" ry="1.9" fill="#858ca0" stroke="#111" stroke-width="1.15"/>
<ellipse cx="420.79" cy="400.97" rx="2.1" ry="1.9" fill="#858ca0" stroke="#111" stroke-width="1.15"/>
<ellipse cx="428.12" cy="400.97" rx="2.1" ry="1.9" fill="#858ca0" stroke="#111" stroke-width="1.15"/>
<ellipse cx="431.79" cy="400.97" rx="2.1" ry="1.9" fill="#858ca0" stroke="#111" stroke-width="1.15"/>
<ellipse cx="424.46" cy="404.32" rx="2.1" ry="1.9" fill="#858ca0" stroke="#111" stroke-width="1.15"/>
<ellipse cx="435.45" cy="404.32" rx="2.1" ry="1.9" fill="#858ca0" stroke="#111" stroke-width="1.15"/>
<ellipse cx="417.13" cy="407.68" rx="2.1" ry="1.9" fill="#858ca0" stroke="#111" stroke-width="1.15"/>
<ellipse cx="420.79" cy="407.68" rx="2.1" ry="1.9" fill="#858ca0" stroke="#111" stroke-width="1.15"/>
<ellipse cx="424.46" cy="407.68" rx="2.1" ry="1.9" fill="#858ca0" stroke="#111" stroke-width="1.15"/>
<ellipse cx="428.12" cy="407.68" rx="2.1" ry="1.9" fill="#858ca0" stroke="#111" stroke-width="1.15"/>
<ellipse cx="398.8" cy="411.03" rx="2.1" ry="1.9" fill="#858ca0" stroke="#111" stroke-width="1.15"/>
<ellipse cx="413.46" cy="411.03" rx="2.1" ry="1.9" fill="#858ca0" stroke="#111" stroke-width="1.15"/>
<ellipse cx="417.13" cy="411.03" rx="2.1" ry="1.9" fill="#858ca0" stroke="#111" stroke-width="1.15"/>
<ellipse cx="424.46" cy="411.03" rx="2.1" ry="1.9" fill="#858ca0" stroke="#111" stroke-width="1.15"/>
<ellipse cx="409.8" cy="414.38" rx="2.1" ry="1.9" fill="#858ca0" stroke="#111" stroke-width="1.15"/>
<ellipse cx="413.46" cy="414.38" rx="2.1" ry="1.9" fill="#858ca0" stroke="#111" stroke-width="1.15"/>
<ellipse cx="420.79" cy="414.38" rx="2.1" ry="1.9" fill="#858ca0" stroke="#111" stroke-width="1.15"/>
<ellipse cx="406.13" cy="417.74" rx="2.1" ry="1.9" fill="#858ca0" stroke="#111" stroke-width="1.15"/>
<ellipse cx="409.8" cy="417.74" rx="2.1" ry="1.9" fill="#858ca0" stroke="#111" stroke-width="1.15"/>
<ellipse cx="413.46" cy="417.74" rx="2.1" ry="1.9" fill="#858ca0" stroke="#111" stroke-width="1.15"/>
<ellipse cx="417.13" cy="417.74" rx="2.1" ry="1.9" fill="#858ca0" stroke="#111" stroke-width="1.15"/>
<ellipse cx="420.79" cy="417.74" rx="2.1" ry="1.9" fill="#858ca0" stroke="#111" stroke-width="1.15"/>
<ellipse cx="395.14" cy="421.09" rx="2.1" ry="1.9" fill="#858ca0" stroke="#111" stroke-width="1.15"/>
<ellipse cx="398.8" cy="421.09" rx="2.1" ry="1.9" fill="#858ca0" stroke="#111" stroke-width="1.15"/>
<ellipse cx="402.47" cy="421.09" rx="2.1" ry="1.9" fill="#858ca0" stroke="#111" stroke-width="1.15"/>
<ellipse cx="406.13" cy="421.09" rx="2.1" ry="1.9" fill="#858ca0" stroke="#111" stroke-width="1.15"/>
<ellipse cx="413.46" cy="421.09" rx="2.1" ry="1.9" fill="#858ca0" stroke="#111" stroke-width="1.15"/>
<ellipse cx="417.13" cy="421.09" rx="2.1" ry="1.9" fill="#858ca0" stroke="#111" stroke-width="1.15"/>
<ellipse cx="391.47" cy="424.45" rx="2.1" ry="1.9" fill="#858ca0" stroke="#111" stroke-width="1.15"/>
<ellipse cx="395.14" cy="424.45" rx="2.1" ry="1.9" fill="#858ca0" stroke="#111" stroke-width="1.15"/>
<ellipse cx="398.8" cy="424.45" rx="2.1" ry="1.9" fill="#858ca0" stroke="#111" stroke-width="1.15"/>
<ellipse cx="406.13" cy="424.45" rx="2.1" ry="1.9" fill="#858ca0" stroke="#111" stroke-width="1.15"/>
<ellipse cx="409.8" cy="424.45" rx="2.1" ry="1.9" fill="#858ca0" stroke="#111" stroke-width="1.15"/>
<ellipse cx="413.46" cy="424.45" rx="2.1" ry="1.9" fill="#858ca0" stroke="#111" stroke-width="1.15"/>
<ellipse cx="417.13" cy="424.45" rx="2.1" ry="1.9" fill="#858ca0" stroke="#111" stroke-width="1.15"/>
<ellipse cx="391.47" cy="427.8" rx="2.1" ry="1.9" fill="#858ca0" stroke="#111" stroke-width="1.15"/>
<ellipse cx="395.14" cy="427.8" rx="2.1" ry="1.9" fill="#858ca0" stroke="#111" stroke-width="1.15"/>
<ellipse cx="398.8" cy="427.8" rx="2.1" ry="1.9" fill="#858ca0" stroke="#111" stroke-width="1.15"/>
<ellipse cx="402.47" cy="427.8" rx="2.1" ry="1.9" fill="#858ca0" stroke="#111" stroke-width="1.15"/>
<ellipse cx="406.13" cy="427.8" rx="2.1" ry="1.9" fill="#858ca0" stroke="#111" stroke-width="1.15"/>
<ellipse cx="387.81" cy="431.15" rx="2.1" ry="1.9" fill="#858ca0" stroke="#111" stroke-width="1.15"/>
<ellipse cx="391.47" cy="431.15" rx="2.1" ry="1.9" fill="#858ca0" stroke="#111" stroke-width="1.15"/>
<ellipse cx="402.47" cy="431.15" rx="2.1" ry="1.9" fill="#858ca0" stroke="#111" stroke-width="1.15"/>
<ellipse cx="406.13" cy="431.15" rx="2.1" ry="1.9" fill="#858ca0" stroke="#111" stroke-width="1.15"/>
<ellipse cx="387.81" cy="434.51" rx="2.1" ry="1.9" fill="#858ca0" stroke="#111" stroke-width="1.15"/>
<ellipse cx="391.47" cy="434.51" rx="2.1" ry="1.9" fill="#858ca0" stroke="#111" stroke-width="1.15"/>
<ellipse cx="395.14" cy="434.51" rx="2.1" ry="1.9" fill="#858ca0" stroke="#111" stroke-width="1.15"/>
<ellipse cx="402.47" cy="434.51" rx="2.1" ry="1.9" fill="#858ca0" stroke="#111" stroke-width="1.15"/>
<ellipse cx="406.13" cy="434.51" rx="2.1" ry="1.9" fill="#858ca0" stroke="#111" stroke-width="1.15"/>
<ellipse cx="384.14" cy="437.86" rx="2.1" ry="1.9" fill="#858ca0" stroke="#111" stroke-width="1.15"/>
<ellipse cx="387.81" cy="437.86" rx="2.1" ry="1.9" fill="#858ca0" stroke="#111" stroke-width="1.15"/>
<ellipse cx="395.14" cy="437.86" rx="2.1" ry="1.9" fill="#858ca0" stroke="#111" stroke-width="1.15"/>
<ellipse cx="402.47" cy="437.86" rx="2.1" ry="1.9" fill="#858ca0" stroke="#111" stroke-width="1.15"/>
<ellipse cx="384.14" cy="441.22" rx="2.1" ry="1.9" fill="#858ca0" stroke="#111" stroke-width="1.15"/>
<ellipse cx="387.81" cy="441.22" rx="2.1" ry="1.9" fill="#858ca0" stroke="#111" stroke-width="1.15"/>
<ellipse cx="391.47" cy="441.22" rx="2.1" ry="1.9" fill="#858ca0" stroke="#111" stroke-width="1.15"/>
<ellipse cx="369.49" cy="444.57" rx="2.1" ry="1.9" fill="#858ca0" stroke="#111" stroke-width="1.15"/>
<ellipse cx="376.81" cy="444.57" rx="2.1" ry="1.9" fill="#858ca0" stroke="#111" stroke-width="1.15"/>
<ellipse cx="380.48" cy="444.57" rx="2.1" ry="1.9" fill="#858ca0" stroke="#111" stroke-width="1.15"/>
<ellipse cx="384.14" cy="444.57" rx="2.1" ry="1.9" fill="#858ca0" stroke="#111" stroke-width="1.15"/>
<ellipse cx="387.81" cy="444.57" rx="2.1" ry="1.9" fill="#858ca0" stroke="#111" stroke-width="1.15"/>
<ellipse cx="391.47" cy="444.57" rx="2.1" ry="1.9" fill="#858ca0" stroke="#111" stroke-width="1.15"/>
<ellipse cx="380.48" cy="447.92" rx="2.1" ry="1.9" fill="#858ca0" stroke="#111" stroke-width="1.15"/>
<ellipse cx="384.14" cy="447.92" rx="2.1" ry="1.9" fill="#858ca0" stroke="#111" stroke-width="1.15"/>
<ellipse cx="369.49" cy="451.28" rx="2.1" ry="1.9" fill="#858ca0" stroke="#111" stroke-width="1.15"/>
<ellipse cx="373.15" cy="451.28" rx="2.1" ry="1.9" fill="#858ca0" stroke="#111" stroke-width="1.15"/>
<ellipse cx="380.48" cy="451.28" rx="2.1" ry="1.9" fill="#858ca0" stroke="#111" stroke-width="1.15"/>
<ellipse cx="384.14" cy="451.28" rx="2.1" ry="1.9" fill="#858ca0" stroke="#111" stroke-width="1.15"/>
<ellipse cx="373.15" cy="454.63" rx="2.1" ry="1.9" fill="#858ca0" stroke="#111" stroke-width="1.15"/>
<ellipse cx="376.81" cy="454.63" rx="2.1" ry="1.9" fill="#858ca0" stroke="#111" stroke-width="1.15"/>
<ellipse cx="380.48" cy="454.63" rx="2.1" ry="1.9" fill="#858ca0" stroke="#111" stroke-width="1.15"/>
<ellipse cx="373.15" cy="457.99" rx="2.1" ry="1.9" fill="#858ca0" stroke="#111" stroke-width="1.15"/>
<path d="M369.96,456.11 L440.04,396.47" fill="none" stroke="#bd2436" stroke-width="1.05"/>
<ellipse cx="405.7" cy="423.3" rx="3.6" ry="3.0" fill="#ff0000"/>
<polyline points="421.77,408.76 421.33,408.59 420.65,408.63 419.75,408.9 418.64,409.39 417.33,410.09 415.84,410.99 414.2,412.07 412.43,413.33 410.56,414.74 408.61,416.27 406.62,417.92 404.62,419.64 402.63,421.42 400.69,423.23 398.83,425.04 397.07,426.82 395.44,428.55 393.96,430.2 392.67,431.75 391.57,433.17 390.69,434.44 390.03,435.53 389.61,436.45 389.43,437.16 389.51,437.67 389.82,437.95 390.38,438.02 391.17,437.86 392.18,437.48 393.39,436.89 394.8,436.09 396.36,435.09 398.07,433.92 399.89,432.59 401.81,431.11 403.78,429.52 405.78,427.83 407.78,426.07 409.74,424.28 411.65,422.46 413.47,420.66 415.16,418.9 416.72,417.21 418.11,415.61 419.31,414.12 420.3,412.78 421.07,411.59 421.61,410.58 421.91,409.77 421.96,409.16 421.77,408.76" fill="none" stroke="#000" stroke-width="0.95"/>
</g>
<rect x="366.7" y="395.2" width="75.2" height="65.2" fill="none" stroke="#222" stroke-width="1.2"/>
<g clip-path="url(#c55)">
<rect x="455.29" y="452.4" width="7.74" height="8" fill="#05f5f0" stroke="#111" stroke-width="1"/>
<rect x="463.02" y="445.4" width="7.74" height="15" fill="#05f5f0" stroke="#111" stroke-width="1"/>
<rect x="470.76" y="430.5" width="7.74" height="29.9" fill="#05f5f0" stroke="#111" stroke-width="1"/>
<rect x="478.5" y="442" width="7.74" height="18.4" fill="#05f5f0" stroke="#111" stroke-width="1"/>
<rect x="486.23" y="433.4" width="7.74" height="27" fill="#05f5f0" stroke="#111" stroke-width="1"/>
<rect x="493.97" y="433.4" width="7.74" height="27" fill="#05f5f0" stroke="#111" stroke-width="1"/>
<rect x="501.7" y="417" width="7.74" height="43.4" fill="#05f5f0" stroke="#111" stroke-width="1"/>
<rect x="509.44" y="432.3" width="7.74" height="28.1" fill="#05f5f0" stroke="#111" stroke-width="1"/>
<rect x="517.18" y="449.9" width="7.74" height="10.5" fill="#05f5f0" stroke="#111" stroke-width="1"/>
<path d="M452.68,457.6 C453.48,456.85 455.91,454.99 457.45,453.13 C459,451.26 460.44,448.65 461.93,446.42 C463.42,444.18 464.91,441.82 466.4,439.71 C467.89,437.6 469.38,435.36 470.87,433.75 C472.36,432.13 473.85,430.81 475.35,430.02 C476.84,429.22 478.33,429.35 479.82,428.97 C481.31,428.6 482.8,428.28 484.29,427.78 C485.78,427.28 487.27,426.74 488.76,425.99 C490.25,425.25 491.75,424.38 493.24,423.31 C494.73,422.24 496.34,420.58 497.71,419.58 C499.08,418.59 500.19,417.72 501.44,417.35 C502.68,416.97 503.92,417.1 505.16,417.35 C506.41,417.59 507.65,417.72 508.89,418.84 C510.13,419.95 511.25,421.69 512.62,424.05 C513.98,426.42 515.6,430.14 517.09,433 C518.58,435.86 520.2,438.59 521.56,441.2 C522.93,443.81 524.42,446.92 525.29,448.65 C526.16,450.39 526.53,451.14 526.78,451.64" fill="none" stroke="#000" stroke-width="1.15"/>
<line x1="455.29" y1="460.4" x2="455.29" y2="458.4" stroke="#111" stroke-width="0.8"/>
<line x1="459.15" y1="460.4" x2="459.15" y2="458.4" stroke="#111" stroke-width="0.8"/>
<line x1="463.02" y1="460.4" x2="463.02" y2="458.4" stroke="#111" stroke-width="0.8"/>
<line x1="466.89" y1="460.4" x2="466.89" y2="458.4" stroke="#111" stroke-width="0.8"/>
<line x1="470.76" y1="460.4" x2="470.76" y2="458.4" stroke="#111" stroke-width="0.8"/>
<line x1="474.63" y1="460.4" x2="474.63" y2="458.4" stroke="#111" stroke-width="0.8"/>
<line x1="478.5" y1="460.4" x2="478.5" y2="458.4" stroke="#111" stroke-width="0.8"/>
<line x1="482.36" y1="460.4" x2="482.36" y2="458.4" stroke="#111" stroke-width="0.8"/>
<line x1="486.23" y1="460.4" x2="486.23" y2="458.4" stroke="#111" stroke-width="0.8"/>
<line x1="490.1" y1="460.4" x2="490.1" y2="458.4" stroke="#111" stroke-width="0.8"/>
<line x1="493.97" y1="460.4" x2="493.97" y2="458.4" stroke="#111" stroke-width="0.8"/>
<line x1="497.84" y1="460.4" x2="497.84" y2="458.4" stroke="#111" stroke-width="0.8"/>
<line x1="501.7" y1="460.4" x2="501.7" y2="458.4" stroke="#111" stroke-width="0.8"/>
<line x1="505.57" y1="460.4" x2="505.57" y2="458.4" stroke="#111" stroke-width="0.8"/>
<line x1="509.44" y1="460.4" x2="509.44" y2="458.4" stroke="#111" stroke-width="0.8"/>
<line x1="513.31" y1="460.4" x2="513.31" y2="458.4" stroke="#111" stroke-width="0.8"/>
<line x1="517.18" y1="460.4" x2="517.18" y2="458.4" stroke="#111" stroke-width="0.8"/>
<line x1="521.05" y1="460.4" x2="521.05" y2="458.4" stroke="#111" stroke-width="0.8"/>
<line x1="524.91" y1="460.4" x2="524.91" y2="458.4" stroke="#111" stroke-width="0.8"/>
</g>
<text x="0" y="0" transform="translate(490.1,411.6) scale(1.09,1)" text-anchor="middle" font-size="16" font-family="Liberation Sans, Arial, Helvetica, sans-serif" fill="#111" stroke="#111" stroke-width="0.22">FY20.2</text>
<rect x="452.5" y="395.2" width="75.2" height="65.2" fill="none" stroke="#222" stroke-width="1.2"/>
<line x1="118.42" y1="21.7" x2="118.42" y2="17.2" stroke="#333" stroke-width="1"/>
<line x1="131.08" y1="21.7" x2="131.08" y2="17.2" stroke="#333" stroke-width="1"/>
<line x1="143.74" y1="21.7" x2="143.74" y2="17.2" stroke="#333" stroke-width="1"/>
<line x1="156.39" y1="21.7" x2="156.39" y2="17.2" stroke="#333" stroke-width="1"/>
<line x1="169.05" y1="21.7" x2="169.05" y2="17.2" stroke="#333" stroke-width="1"/>
<line x1="181.71" y1="21.7" x2="181.71" y2="17.2" stroke="#333" stroke-width="1"/>
<text transform="translate(118.42,10.7) scale(1.07,1)" text-anchor="middle" font-size="8.5" fill="#2a2a2a" stroke="#2a2a2a" stroke-width="0.12" font-family="Liberation Sans, Arial, Helvetica, sans-serif">150</text>
<text transform="translate(143.74,10.7) scale(1.07,1)" text-anchor="middle" font-size="8.5" fill="#2a2a2a" stroke="#2a2a2a" stroke-width="0.12" font-family="Liberation Sans, Arial, Helvetica, sans-serif">154</text>
<text transform="translate(169.05,10.7) scale(1.07,1)" text-anchor="middle" font-size="8.5" fill="#2a2a2a" stroke="#2a2a2a" stroke-width="0.12" font-family="Liberation Sans, Arial, Helvetica, sans-serif">158</text>
<line x1="288.66" y1="21.7" x2="288.66" y2="17.2" stroke="#333" stroke-width="1"/>
<line x1="298.61" y1="21.7" x2="298.61" y2="17.2" stroke="#333" stroke-width="1"/>
<line x1="308.55" y1="21.7" x2="308.55" y2="17.2" stroke="#333" stroke-width="1"/>
<line x1="318.5" y1="21.7" x2="318.5" y2="17.2" stroke="#333" stroke-width="1"/>
<line x1="328.45" y1="21.7" x2="328.45" y2="17.2" stroke="#333" stroke-width="1"/>
<line x1="338.39" y1="21.7" x2="338.39" y2="17.2" stroke="#333" stroke-width="1"/>
<line x1="348.34" y1="21.7" x2="348.34" y2="17.2" stroke="#333" stroke-width="1"/>
<text transform="translate(288.66,10.7) scale(1.07,1)" text-anchor="middle" font-size="8.5" fill="#2a2a2a" stroke="#2a2a2a" stroke-width="0.12" font-family="Liberation Sans, Arial, Helvetica, sans-serif">146</text>
<text transform="translate(318.5,10.7) scale(1.07,1)" text-anchor="middle" font-size="8.5" fill="#2a2a2a" stroke="#2a2a2a" stroke-width="0.12" font-family="Liberation Sans, Arial, Helvetica, sans-serif">152</text>
<text transform="translate(348.34,10.7) scale(1.07,1)" text-anchor="middle" font-size="8.5" fill="#2a2a2a" stroke="#2a2a2a" stroke-width="0.12" font-family="Liberation Sans, Arial, Helvetica, sans-serif">158</text>
<line x1="470.76" y1="21.7" x2="470.76" y2="17.2" stroke="#333" stroke-width="1"/>
<line x1="490.1" y1="21.7" x2="490.1" y2="17.2" stroke="#333" stroke-width="1"/>
<line x1="509.44" y1="21.7" x2="509.44" y2="17.2" stroke="#333" stroke-width="1"/>
<text transform="translate(470.76,10.7) scale(1.07,1)" text-anchor="middle" font-size="8.5" fill="#2a2a2a" stroke="#2a2a2a" stroke-width="0.12" font-family="Liberation Sans, Arial, Helvetica, sans-serif">150</text>
<text transform="translate(509.44,10.7) scale(1.07,1)" text-anchor="middle" font-size="8.5" fill="#2a2a2a" stroke="#2a2a2a" stroke-width="0.12" font-family="Liberation Sans, Arial, Helvetica, sans-serif">160</text>
<line x1="44.85" y1="460.4" x2="44.85" y2="464.9" stroke="#333" stroke-width="1"/>
<line x1="68.06" y1="460.4" x2="68.06" y2="464.9" stroke="#333" stroke-width="1"/>
<line x1="91.27" y1="460.4" x2="91.27" y2="464.9" stroke="#333" stroke-width="1"/>
<text transform="translate(44.85,477.5) scale(1.07,1)" text-anchor="middle" font-size="8.5" fill="#2a2a2a" stroke="#2a2a2a" stroke-width="0.12" font-family="Liberation Sans, Arial, Helvetica, sans-serif">160</text>
<text transform="translate(68.06,477.5) scale(1.07,1)" text-anchor="middle" font-size="8.5" fill="#2a2a2a" stroke="#2a2a2a" stroke-width="0.12" font-family="Liberation Sans, Arial, Helvetica, sans-serif">165</text>
<text transform="translate(91.27,477.5) scale(1.07,1)" text-anchor="middle" font-size="8.5" fill="#2a2a2a" stroke="#2a2a2a" stroke-width="0.12" font-family="Liberation Sans, Arial, Helvetica, sans-serif">170</text>
<line x1="197.89" y1="460.4" x2="197.89" y2="464.9" stroke="#333" stroke-width="1"/>
<line x1="207.83" y1="460.4" x2="207.83" y2="464.9" stroke="#333" stroke-width="1"/>
<line x1="217.78" y1="460.4" x2="217.78" y2="464.9" stroke="#333" stroke-width="1"/>
<line x1="227.73" y1="460.4" x2="227.73" y2="464.9" stroke="#333" stroke-width="1"/>
<line x1="237.67" y1="460.4" x2="237.67" y2="464.9" stroke="#333" stroke-width="1"/>
<line x1="247.62" y1="460.4" x2="247.62" y2="464.9" stroke="#333" stroke-width="1"/>
<line x1="257.57" y1="460.4" x2="257.57" y2="464.9" stroke="#333" stroke-width="1"/>
<line x1="267.51" y1="460.4" x2="267.51" y2="464.9" stroke="#333" stroke-width="1"/>
<text transform="translate(197.89,477.5) scale(1.07,1)" text-anchor="middle" font-size="8.5" fill="#2a2a2a" stroke="#2a2a2a" stroke-width="0.12" font-family="Liberation Sans, Arial, Helvetica, sans-serif">146</text>
<text transform="translate(227.73,477.5) scale(1.07,1)" text-anchor="middle" font-size="8.5" fill="#2a2a2a" stroke="#2a2a2a" stroke-width="0.12" font-family="Liberation Sans, Arial, Helvetica, sans-serif">152</text>
<text transform="translate(257.57,477.5) scale(1.07,1)" text-anchor="middle" font-size="8.5" fill="#2a2a2a" stroke="#2a2a2a" stroke-width="0.12" font-family="Liberation Sans, Arial, Helvetica, sans-serif">158</text>
<line x1="384.14" y1="460.4" x2="384.14" y2="464.9" stroke="#333" stroke-width="1"/>
<line x1="402.47" y1="460.4" x2="402.47" y2="464.9" stroke="#333" stroke-width="1"/>
<line x1="420.79" y1="460.4" x2="420.79" y2="464.9" stroke="#333" stroke-width="1"/>
<line x1="439.11" y1="460.4" x2="439.11" y2="464.9" stroke="#333" stroke-width="1"/>
<text transform="translate(384.14,477.5) scale(1.07,1)" text-anchor="middle" font-size="8.5" fill="#2a2a2a" stroke="#2a2a2a" stroke-width="0.12" font-family="Liberation Sans, Arial, Helvetica, sans-serif">150</text>
<text transform="translate(420.79,477.5) scale(1.07,1)" text-anchor="middle" font-size="8.5" fill="#2a2a2a" stroke="#2a2a2a" stroke-width="0.12" font-family="Liberation Sans, Arial, Helvetica, sans-serif">160</text>
<line x1="23.5" y1="153.7" x2="18.3" y2="153.7" stroke="#333" stroke-width="1"/>
<line x1="23.5" y1="142.72" x2="18.3" y2="142.72" stroke="#333" stroke-width="1"/>
<line x1="23.5" y1="131.74" x2="18.3" y2="131.74" stroke="#333" stroke-width="1"/>
<line x1="23.5" y1="120.77" x2="18.3" y2="120.77" stroke="#333" stroke-width="1"/>
<line x1="23.5" y1="109.79" x2="18.3" y2="109.79" stroke="#333" stroke-width="1"/>
<line x1="23.5" y1="98.81" x2="18.3" y2="98.81" stroke="#333" stroke-width="1"/>
<text transform="translate(10.6,153.7) rotate(-90) scale(1,1.15)" text-anchor="middle" font-size="8.5" fill="#2a2a2a" stroke="#2a2a2a" stroke-width="0.12" font-family="Liberation Sans, Arial, Helvetica, sans-serif">150</text>
<text transform="translate(10.6,131.74) rotate(-90) scale(1,1.15)" text-anchor="middle" font-size="8.5" fill="#2a2a2a" stroke="#2a2a2a" stroke-width="0.12" font-family="Liberation Sans, Arial, Helvetica, sans-serif">154</text>
<text transform="translate(10.6,109.79) rotate(-90) scale(1,1.15)" text-anchor="middle" font-size="8.5" fill="#2a2a2a" stroke="#2a2a2a" stroke-width="0.12" font-family="Liberation Sans, Arial, Helvetica, sans-serif">158</text>
<line x1="23.5" y1="304.27" x2="18.3" y2="304.27" stroke="#333" stroke-width="1"/>
<line x1="23.5" y1="295.65" x2="18.3" y2="295.65" stroke="#333" stroke-width="1"/>
<line x1="23.5" y1="287.02" x2="18.3" y2="287.02" stroke="#333" stroke-width="1"/>
<line x1="23.5" y1="278.4" x2="18.3" y2="278.4" stroke="#333" stroke-width="1"/>
<line x1="23.5" y1="269.78" x2="18.3" y2="269.78" stroke="#333" stroke-width="1"/>
<line x1="23.5" y1="261.15" x2="18.3" y2="261.15" stroke="#333" stroke-width="1"/>
<line x1="23.5" y1="252.53" x2="18.3" y2="252.53" stroke="#333" stroke-width="1"/>
<text transform="translate(10.6,304.27) rotate(-90) scale(1,1.15)" text-anchor="middle" font-size="8.5" fill="#2a2a2a" stroke="#2a2a2a" stroke-width="0.12" font-family="Liberation Sans, Arial, Helvetica, sans-serif">146</text>
<text transform="translate(10.6,278.4) rotate(-90) scale(1,1.15)" text-anchor="middle" font-size="8.5" fill="#2a2a2a" stroke="#2a2a2a" stroke-width="0.12" font-family="Liberation Sans, Arial, Helvetica, sans-serif">152</text>
<text transform="translate(10.6,252.53) rotate(-90) scale(1,1.15)" text-anchor="middle" font-size="8.5" fill="#2a2a2a" stroke="#2a2a2a" stroke-width="0.12" font-family="Liberation Sans, Arial, Helvetica, sans-serif">158</text>
<line x1="23.5" y1="444.57" x2="18.3" y2="444.57" stroke="#333" stroke-width="1"/>
<line x1="23.5" y1="427.8" x2="18.3" y2="427.8" stroke="#333" stroke-width="1"/>
<line x1="23.5" y1="411.03" x2="18.3" y2="411.03" stroke="#333" stroke-width="1"/>
<text transform="translate(10.6,444.57) rotate(-90) scale(1,1.15)" text-anchor="middle" font-size="8.5" fill="#2a2a2a" stroke="#2a2a2a" stroke-width="0.12" font-family="Liberation Sans, Arial, Helvetica, sans-serif">150</text>
<text transform="translate(10.6,411.03) rotate(-90) scale(1,1.15)" text-anchor="middle" font-size="8.5" fill="#2a2a2a" stroke="#2a2a2a" stroke-width="0.12" font-family="Liberation Sans, Arial, Helvetica, sans-serif">160</text>
<line x1="527.7" y1="68.39" x2="532.9" y2="68.39" stroke="#333" stroke-width="1"/>
<line x1="527.7" y1="48.26" x2="532.9" y2="48.26" stroke="#333" stroke-width="1"/>
<line x1="527.7" y1="28.14" x2="532.9" y2="28.14" stroke="#333" stroke-width="1"/>
<text transform="translate(546.6,68.39) rotate(-90) scale(1,1.15)" text-anchor="middle" font-size="8.5" fill="#2a2a2a" stroke="#2a2a2a" stroke-width="0.12" font-family="Liberation Sans, Arial, Helvetica, sans-serif">160</text>
<text transform="translate(546.6,48.26) rotate(-90) scale(1,1.15)" text-anchor="middle" font-size="8.5" fill="#2a2a2a" stroke="#2a2a2a" stroke-width="0.12" font-family="Liberation Sans, Arial, Helvetica, sans-serif">165</text>
<text transform="translate(546.6,28.14) rotate(-90) scale(1,1.15)" text-anchor="middle" font-size="8.5" fill="#2a2a2a" stroke="#2a2a2a" stroke-width="0.12" font-family="Liberation Sans, Arial, Helvetica, sans-serif">170</text>
<line x1="527.7" y1="233.89" x2="532.9" y2="233.89" stroke="#333" stroke-width="1"/>
<line x1="527.7" y1="225.26" x2="532.9" y2="225.26" stroke="#333" stroke-width="1"/>
<line x1="527.7" y1="216.64" x2="532.9" y2="216.64" stroke="#333" stroke-width="1"/>
<line x1="527.7" y1="208.01" x2="532.9" y2="208.01" stroke="#333" stroke-width="1"/>
<line x1="527.7" y1="199.39" x2="532.9" y2="199.39" stroke="#333" stroke-width="1"/>
<line x1="527.7" y1="190.76" x2="532.9" y2="190.76" stroke="#333" stroke-width="1"/>
<line x1="527.7" y1="182.14" x2="532.9" y2="182.14" stroke="#333" stroke-width="1"/>
<line x1="527.7" y1="173.51" x2="532.9" y2="173.51" stroke="#333" stroke-width="1"/>
<text transform="translate(546.6,233.89) rotate(-90) scale(1,1.15)" text-anchor="middle" font-size="8.5" fill="#2a2a2a" stroke="#2a2a2a" stroke-width="0.12" font-family="Liberation Sans, Arial, Helvetica, sans-serif">146</text>
<text transform="translate(546.6,208.01) rotate(-90) scale(1,1.15)" text-anchor="middle" font-size="8.5" fill="#2a2a2a" stroke="#2a2a2a" stroke-width="0.12" font-family="Liberation Sans, Arial, Helvetica, sans-serif">152</text>
<text transform="translate(546.6,182.14) rotate(-90) scale(1,1.15)" text-anchor="middle" font-size="8.5" fill="#2a2a2a" stroke="#2a2a2a" stroke-width="0.12" font-family="Liberation Sans, Arial, Helvetica, sans-serif">158</text>
<line x1="527.7" y1="370.58" x2="532.9" y2="370.58" stroke="#333" stroke-width="1"/>
<line x1="527.7" y1="354.69" x2="532.9" y2="354.69" stroke="#333" stroke-width="1"/>
<line x1="527.7" y1="338.8" x2="532.9" y2="338.8" stroke="#333" stroke-width="1"/>
<line x1="527.7" y1="322.91" x2="532.9" y2="322.91" stroke="#333" stroke-width="1"/>
<text transform="translate(546.6,370.58) rotate(-90) scale(1,1.15)" text-anchor="middle" font-size="8.5" fill="#2a2a2a" stroke="#2a2a2a" stroke-width="0.12" font-family="Liberation Sans, Arial, Helvetica, sans-serif">150</text>
<text transform="translate(546.6,338.8) rotate(-90) scale(1,1.15)" text-anchor="middle" font-size="8.5" fill="#2a2a2a" stroke="#2a2a2a" stroke-width="0.12" font-family="Liberation Sans, Arial, Helvetica, sans-serif">160</text>
</g>
</svg>
</body></html>
